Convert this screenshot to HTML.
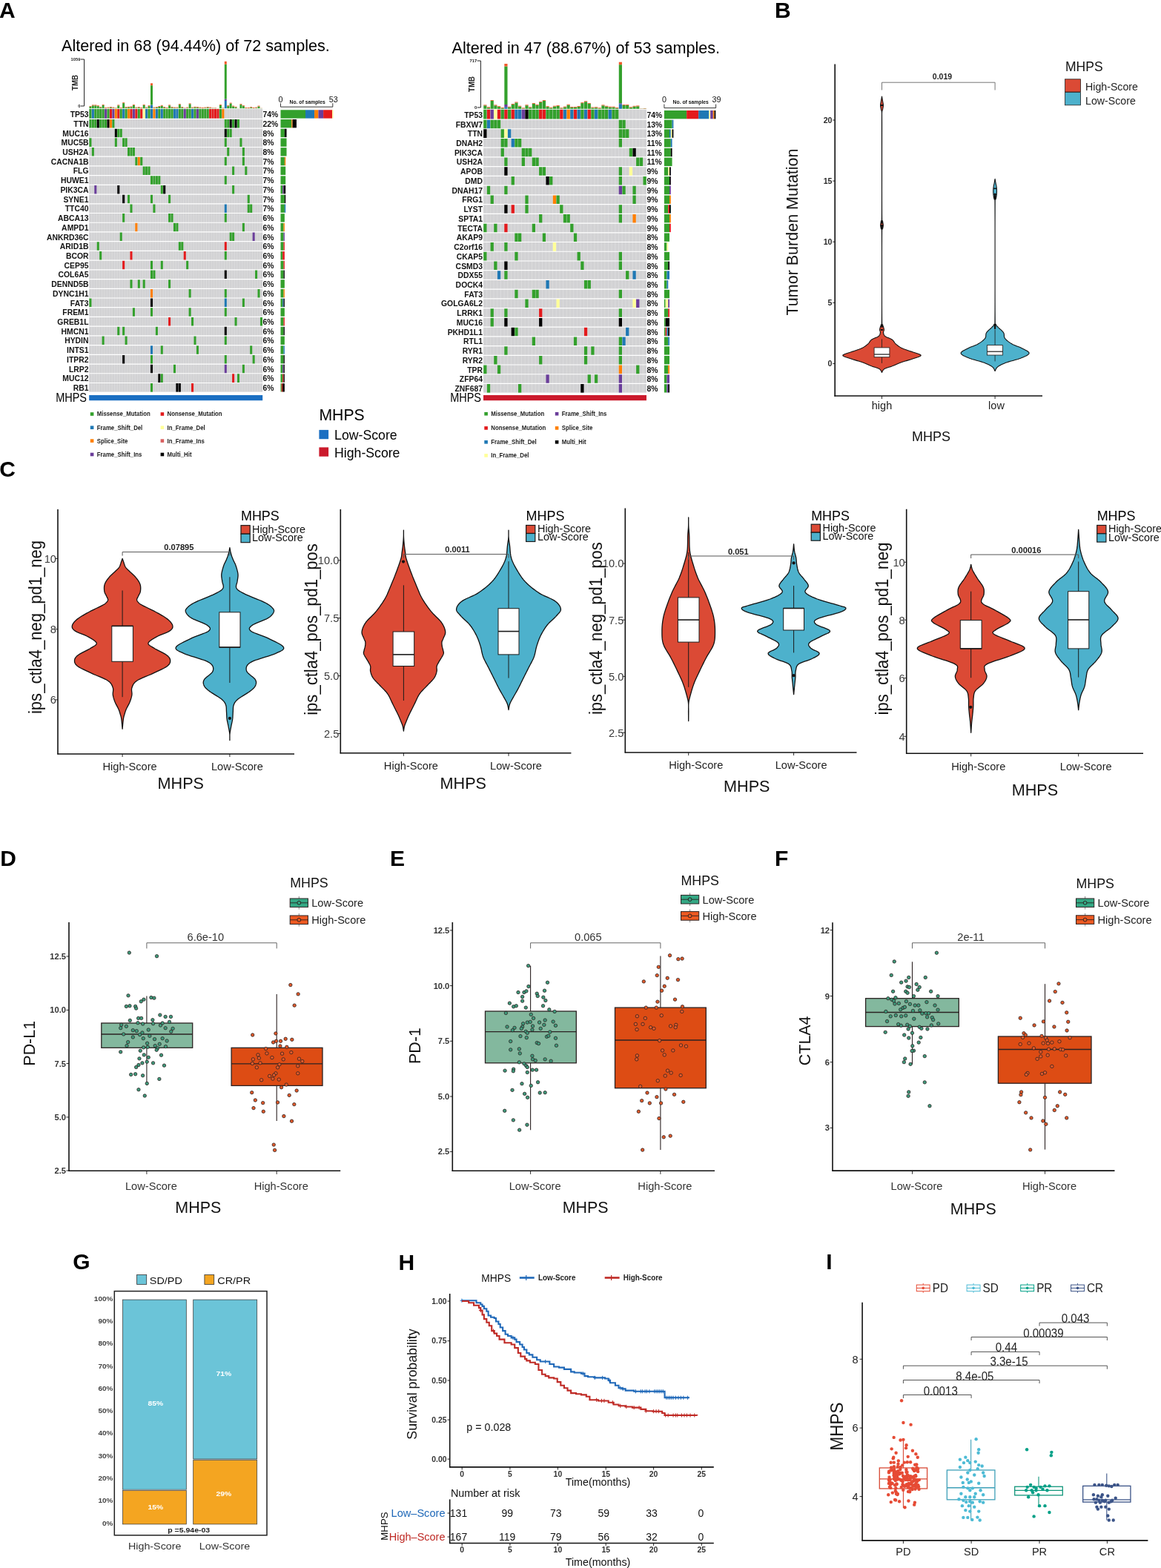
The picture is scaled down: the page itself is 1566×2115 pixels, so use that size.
<!DOCTYPE html>
<html><head><meta charset="utf-8"><title>Figure</title>
<style>html,body{margin:0;padding:0;background:#fff;}svg{display:block;}</style></head>
<body><svg width="1566" height="2115" viewBox="0 0 1566 2115" font-family='"Liberation Sans", Arial, sans-serif'>
<rect x="0" y="0" width="1566" height="2115" fill="#ffffff"/>
<text x="-1.00" y="23.95" font-size="30.00" font-weight="bold" fill="#000">A</text>
<text x="83.00" y="68.96" font-size="21.64" fill="#000">Altered in 68 (94.44%) of 72 samples.</text>
<rect x="120.20" y="147.10" width="233.99" height="381.50" fill="#D2D2D4"/>
<line x1="123.64" y1="147.10" x2="123.64" y2="528.60" stroke="#e6e6e6" stroke-width="0.45"/>
<line x1="127.08" y1="147.10" x2="127.08" y2="528.60" stroke="#e6e6e6" stroke-width="0.45"/>
<line x1="130.52" y1="147.10" x2="130.52" y2="528.60" stroke="#e6e6e6" stroke-width="0.45"/>
<line x1="133.96" y1="147.10" x2="133.96" y2="528.60" stroke="#e6e6e6" stroke-width="0.45"/>
<line x1="137.41" y1="147.10" x2="137.41" y2="528.60" stroke="#e6e6e6" stroke-width="0.45"/>
<line x1="140.85" y1="147.10" x2="140.85" y2="528.60" stroke="#e6e6e6" stroke-width="0.45"/>
<line x1="144.29" y1="147.10" x2="144.29" y2="528.60" stroke="#e6e6e6" stroke-width="0.45"/>
<line x1="147.73" y1="147.10" x2="147.73" y2="528.60" stroke="#e6e6e6" stroke-width="0.45"/>
<line x1="151.17" y1="147.10" x2="151.17" y2="528.60" stroke="#e6e6e6" stroke-width="0.45"/>
<line x1="154.61" y1="147.10" x2="154.61" y2="528.60" stroke="#e6e6e6" stroke-width="0.45"/>
<line x1="158.05" y1="147.10" x2="158.05" y2="528.60" stroke="#e6e6e6" stroke-width="0.45"/>
<line x1="161.49" y1="147.10" x2="161.49" y2="528.60" stroke="#e6e6e6" stroke-width="0.45"/>
<line x1="164.93" y1="147.10" x2="164.93" y2="528.60" stroke="#e6e6e6" stroke-width="0.45"/>
<line x1="168.37" y1="147.10" x2="168.37" y2="528.60" stroke="#e6e6e6" stroke-width="0.45"/>
<line x1="171.81" y1="147.10" x2="171.81" y2="528.60" stroke="#e6e6e6" stroke-width="0.45"/>
<line x1="175.26" y1="147.10" x2="175.26" y2="528.60" stroke="#e6e6e6" stroke-width="0.45"/>
<line x1="178.70" y1="147.10" x2="178.70" y2="528.60" stroke="#e6e6e6" stroke-width="0.45"/>
<line x1="182.14" y1="147.10" x2="182.14" y2="528.60" stroke="#e6e6e6" stroke-width="0.45"/>
<line x1="185.58" y1="147.10" x2="185.58" y2="528.60" stroke="#e6e6e6" stroke-width="0.45"/>
<line x1="189.02" y1="147.10" x2="189.02" y2="528.60" stroke="#e6e6e6" stroke-width="0.45"/>
<line x1="192.46" y1="147.10" x2="192.46" y2="528.60" stroke="#e6e6e6" stroke-width="0.45"/>
<line x1="195.90" y1="147.10" x2="195.90" y2="528.60" stroke="#e6e6e6" stroke-width="0.45"/>
<line x1="199.34" y1="147.10" x2="199.34" y2="528.60" stroke="#e6e6e6" stroke-width="0.45"/>
<line x1="202.78" y1="147.10" x2="202.78" y2="528.60" stroke="#e6e6e6" stroke-width="0.45"/>
<line x1="206.22" y1="147.10" x2="206.22" y2="528.60" stroke="#e6e6e6" stroke-width="0.45"/>
<line x1="209.67" y1="147.10" x2="209.67" y2="528.60" stroke="#e6e6e6" stroke-width="0.45"/>
<line x1="213.11" y1="147.10" x2="213.11" y2="528.60" stroke="#e6e6e6" stroke-width="0.45"/>
<line x1="216.55" y1="147.10" x2="216.55" y2="528.60" stroke="#e6e6e6" stroke-width="0.45"/>
<line x1="219.99" y1="147.10" x2="219.99" y2="528.60" stroke="#e6e6e6" stroke-width="0.45"/>
<line x1="223.43" y1="147.10" x2="223.43" y2="528.60" stroke="#e6e6e6" stroke-width="0.45"/>
<line x1="226.87" y1="147.10" x2="226.87" y2="528.60" stroke="#e6e6e6" stroke-width="0.45"/>
<line x1="230.31" y1="147.10" x2="230.31" y2="528.60" stroke="#e6e6e6" stroke-width="0.45"/>
<line x1="233.75" y1="147.10" x2="233.75" y2="528.60" stroke="#e6e6e6" stroke-width="0.45"/>
<line x1="237.19" y1="147.10" x2="237.19" y2="528.60" stroke="#e6e6e6" stroke-width="0.45"/>
<line x1="240.63" y1="147.10" x2="240.63" y2="528.60" stroke="#e6e6e6" stroke-width="0.45"/>
<line x1="244.08" y1="147.10" x2="244.08" y2="528.60" stroke="#e6e6e6" stroke-width="0.45"/>
<line x1="247.52" y1="147.10" x2="247.52" y2="528.60" stroke="#e6e6e6" stroke-width="0.45"/>
<line x1="250.96" y1="147.10" x2="250.96" y2="528.60" stroke="#e6e6e6" stroke-width="0.45"/>
<line x1="254.40" y1="147.10" x2="254.40" y2="528.60" stroke="#e6e6e6" stroke-width="0.45"/>
<line x1="257.84" y1="147.10" x2="257.84" y2="528.60" stroke="#e6e6e6" stroke-width="0.45"/>
<line x1="261.28" y1="147.10" x2="261.28" y2="528.60" stroke="#e6e6e6" stroke-width="0.45"/>
<line x1="264.72" y1="147.10" x2="264.72" y2="528.60" stroke="#e6e6e6" stroke-width="0.45"/>
<line x1="268.16" y1="147.10" x2="268.16" y2="528.60" stroke="#e6e6e6" stroke-width="0.45"/>
<line x1="271.60" y1="147.10" x2="271.60" y2="528.60" stroke="#e6e6e6" stroke-width="0.45"/>
<line x1="275.05" y1="147.10" x2="275.05" y2="528.60" stroke="#e6e6e6" stroke-width="0.45"/>
<line x1="278.49" y1="147.10" x2="278.49" y2="528.60" stroke="#e6e6e6" stroke-width="0.45"/>
<line x1="281.93" y1="147.10" x2="281.93" y2="528.60" stroke="#e6e6e6" stroke-width="0.45"/>
<line x1="285.37" y1="147.10" x2="285.37" y2="528.60" stroke="#e6e6e6" stroke-width="0.45"/>
<line x1="288.81" y1="147.10" x2="288.81" y2="528.60" stroke="#e6e6e6" stroke-width="0.45"/>
<line x1="292.25" y1="147.10" x2="292.25" y2="528.60" stroke="#e6e6e6" stroke-width="0.45"/>
<line x1="295.69" y1="147.10" x2="295.69" y2="528.60" stroke="#e6e6e6" stroke-width="0.45"/>
<line x1="299.13" y1="147.10" x2="299.13" y2="528.60" stroke="#e6e6e6" stroke-width="0.45"/>
<line x1="302.57" y1="147.10" x2="302.57" y2="528.60" stroke="#e6e6e6" stroke-width="0.45"/>
<line x1="306.01" y1="147.10" x2="306.01" y2="528.60" stroke="#e6e6e6" stroke-width="0.45"/>
<line x1="309.45" y1="147.10" x2="309.45" y2="528.60" stroke="#e6e6e6" stroke-width="0.45"/>
<line x1="312.90" y1="147.10" x2="312.90" y2="528.60" stroke="#e6e6e6" stroke-width="0.45"/>
<line x1="316.34" y1="147.10" x2="316.34" y2="528.60" stroke="#e6e6e6" stroke-width="0.45"/>
<line x1="319.78" y1="147.10" x2="319.78" y2="528.60" stroke="#e6e6e6" stroke-width="0.45"/>
<line x1="323.22" y1="147.10" x2="323.22" y2="528.60" stroke="#e6e6e6" stroke-width="0.45"/>
<line x1="326.66" y1="147.10" x2="326.66" y2="528.60" stroke="#e6e6e6" stroke-width="0.45"/>
<line x1="330.10" y1="147.10" x2="330.10" y2="528.60" stroke="#e6e6e6" stroke-width="0.45"/>
<line x1="333.54" y1="147.10" x2="333.54" y2="528.60" stroke="#e6e6e6" stroke-width="0.45"/>
<line x1="336.98" y1="147.10" x2="336.98" y2="528.60" stroke="#e6e6e6" stroke-width="0.45"/>
<line x1="340.42" y1="147.10" x2="340.42" y2="528.60" stroke="#e6e6e6" stroke-width="0.45"/>
<line x1="343.87" y1="147.10" x2="343.87" y2="528.60" stroke="#e6e6e6" stroke-width="0.45"/>
<line x1="347.31" y1="147.10" x2="347.31" y2="528.60" stroke="#e6e6e6" stroke-width="0.45"/>
<line x1="350.75" y1="147.10" x2="350.75" y2="528.60" stroke="#e6e6e6" stroke-width="0.45"/>
<rect x="120.40" y="147.10" width="3.04" height="13.22" fill="#33A02C"/>
<rect x="123.84" y="147.10" width="3.04" height="13.22" fill="#1F78B4"/>
<rect x="127.28" y="147.10" width="3.04" height="13.22" fill="#33A02C"/>
<rect x="130.72" y="147.10" width="3.04" height="13.22" fill="#33A02C"/>
<rect x="134.16" y="147.10" width="3.04" height="13.22" fill="#33A02C"/>
<rect x="137.60" y="147.10" width="3.04" height="13.22" fill="#33A02C"/>
<rect x="141.05" y="147.10" width="3.04" height="13.22" fill="#6A3D9A"/>
<rect x="144.49" y="147.10" width="3.04" height="13.22" fill="#33A02C"/>
<rect x="147.93" y="147.10" width="3.04" height="13.22" fill="#E31A1C"/>
<rect x="151.37" y="147.10" width="3.04" height="13.22" fill="#6A3D9A"/>
<rect x="154.81" y="147.10" width="3.04" height="13.22" fill="#FF7F00"/>
<rect x="158.25" y="147.10" width="3.04" height="13.22" fill="#E31A1C"/>
<rect x="161.69" y="147.10" width="3.04" height="13.22" fill="#33A02C"/>
<rect x="165.13" y="147.10" width="3.04" height="13.22" fill="#1F78B4"/>
<rect x="168.57" y="147.10" width="3.04" height="13.22" fill="#33A02C"/>
<rect x="172.01" y="147.10" width="3.04" height="13.22" fill="#FF7F00"/>
<rect x="175.46" y="147.10" width="3.04" height="13.22" fill="#E31A1C"/>
<rect x="178.90" y="147.10" width="3.04" height="13.22" fill="#6A3D9A"/>
<rect x="182.34" y="147.10" width="3.04" height="13.22" fill="#E31A1C"/>
<rect x="185.78" y="147.10" width="3.04" height="13.22" fill="#33A02C"/>
<rect x="189.22" y="147.10" width="3.04" height="13.22" fill="#E31A1C"/>
<rect x="192.66" y="147.10" width="3.04" height="13.22" fill="#FFFF99"/>
<rect x="196.10" y="147.10" width="3.04" height="13.22" fill="#1F78B4"/>
<rect x="199.54" y="147.10" width="3.04" height="13.22" fill="#33A02C"/>
<rect x="202.98" y="147.10" width="3.04" height="13.22" fill="#1F78B4"/>
<rect x="206.42" y="147.10" width="3.04" height="13.22" fill="#FF7F00"/>
<rect x="209.87" y="147.10" width="3.04" height="13.22" fill="#1F78B4"/>
<rect x="213.31" y="147.10" width="3.04" height="13.22" fill="#33A02C"/>
<rect x="216.75" y="147.10" width="3.04" height="13.22" fill="#1F78B4"/>
<rect x="220.19" y="147.10" width="3.04" height="13.22" fill="#33A02C"/>
<rect x="223.63" y="147.10" width="3.04" height="13.22" fill="#33A02C"/>
<rect x="227.07" y="147.10" width="3.04" height="13.22" fill="#33A02C"/>
<rect x="230.51" y="147.10" width="3.04" height="13.22" fill="#33A02C"/>
<rect x="233.95" y="147.10" width="3.04" height="13.22" fill="#1F78B4"/>
<rect x="237.39" y="147.10" width="3.04" height="13.22" fill="#1F78B4"/>
<rect x="240.83" y="147.10" width="3.04" height="13.22" fill="#33A02C"/>
<rect x="244.28" y="147.10" width="3.04" height="13.22" fill="#33A02C"/>
<rect x="247.72" y="147.10" width="3.04" height="13.22" fill="#6A3D9A"/>
<rect x="251.16" y="147.10" width="3.04" height="13.22" fill="#33A02C"/>
<rect x="254.60" y="147.10" width="3.04" height="13.22" fill="#33A02C"/>
<rect x="258.04" y="147.10" width="3.04" height="13.22" fill="#1F78B4"/>
<rect x="261.48" y="147.10" width="3.04" height="13.22" fill="#33A02C"/>
<rect x="264.92" y="147.10" width="3.04" height="13.22" fill="#6A3D9A"/>
<rect x="268.36" y="147.10" width="3.04" height="13.22" fill="#33A02C"/>
<rect x="271.80" y="147.10" width="3.04" height="13.22" fill="#33A02C"/>
<rect x="275.25" y="147.10" width="3.04" height="13.22" fill="#33A02C"/>
<rect x="278.69" y="147.10" width="3.04" height="13.22" fill="#33A02C"/>
<rect x="282.13" y="147.10" width="3.04" height="13.22" fill="#E31A1C"/>
<rect x="285.57" y="147.10" width="3.04" height="13.22" fill="#E31A1C"/>
<rect x="289.01" y="147.10" width="3.04" height="13.22" fill="#E31A1C"/>
<rect x="292.45" y="147.10" width="3.04" height="13.22" fill="#E31A1C"/>
<rect x="295.89" y="147.10" width="3.04" height="13.22" fill="#33A02C"/>
<rect x="299.33" y="147.10" width="3.04" height="13.22" fill="#FF7F00"/>
<rect x="120.40" y="160.32" width="3.04" height="12.72" fill="#33A02C"/>
<rect x="123.84" y="160.32" width="3.04" height="12.72" fill="#33A02C"/>
<rect x="127.28" y="160.32" width="3.04" height="12.72" fill="#33A02C"/>
<rect x="130.72" y="160.32" width="3.04" height="12.72" fill="#000000"/>
<rect x="134.16" y="160.32" width="3.04" height="12.72" fill="#33A02C"/>
<rect x="137.60" y="160.32" width="3.04" height="12.72" fill="#33A02C"/>
<rect x="141.05" y="160.32" width="3.04" height="12.72" fill="#33A02C"/>
<rect x="144.49" y="160.32" width="3.04" height="12.72" fill="#000000"/>
<rect x="147.93" y="160.32" width="3.04" height="12.72" fill="#FF7F00"/>
<rect x="151.37" y="160.32" width="3.04" height="12.72" fill="#33A02C"/>
<rect x="302.77" y="160.32" width="3.04" height="12.72" fill="#33A02C"/>
<rect x="306.21" y="160.32" width="3.04" height="12.72" fill="#33A02C"/>
<rect x="309.65" y="160.32" width="3.04" height="12.72" fill="#000000"/>
<rect x="313.10" y="160.32" width="3.04" height="12.72" fill="#33A02C"/>
<rect x="316.54" y="160.32" width="3.04" height="12.72" fill="#000000"/>
<rect x="319.98" y="160.32" width="3.04" height="12.72" fill="#33A02C"/>
<rect x="154.81" y="173.04" width="3.04" height="12.72" fill="#000000"/>
<rect x="158.25" y="173.04" width="3.04" height="12.72" fill="#33A02C"/>
<rect x="161.69" y="173.04" width="3.04" height="12.72" fill="#33A02C"/>
<rect x="302.77" y="173.04" width="3.04" height="12.72" fill="#000000"/>
<rect x="306.21" y="173.04" width="3.04" height="12.72" fill="#33A02C"/>
<rect x="309.65" y="173.04" width="3.04" height="12.72" fill="#33A02C"/>
<rect x="120.40" y="185.76" width="3.04" height="12.72" fill="#33A02C"/>
<rect x="154.81" y="185.76" width="3.04" height="12.72" fill="#33A02C"/>
<rect x="165.13" y="185.76" width="3.04" height="12.72" fill="#33A02C"/>
<rect x="168.57" y="185.76" width="3.04" height="12.72" fill="#33A02C"/>
<rect x="302.77" y="185.76" width="3.04" height="12.72" fill="#33A02C"/>
<rect x="323.42" y="185.76" width="3.04" height="12.72" fill="#33A02C"/>
<rect x="123.84" y="198.48" width="3.04" height="12.72" fill="#33A02C"/>
<rect x="172.01" y="198.48" width="3.04" height="12.72" fill="#33A02C"/>
<rect x="175.46" y="198.48" width="3.04" height="12.72" fill="#33A02C"/>
<rect x="178.90" y="198.48" width="3.04" height="12.72" fill="#33A02C"/>
<rect x="306.21" y="198.48" width="3.04" height="12.72" fill="#33A02C"/>
<rect x="326.86" y="198.48" width="3.04" height="12.72" fill="#33A02C"/>
<rect x="182.34" y="211.20" width="3.04" height="12.72" fill="#33A02C"/>
<rect x="185.78" y="211.20" width="3.04" height="12.72" fill="#FF7F00"/>
<rect x="189.22" y="211.20" width="3.04" height="12.72" fill="#33A02C"/>
<rect x="302.77" y="211.20" width="3.04" height="12.72" fill="#33A02C"/>
<rect x="326.86" y="211.20" width="3.04" height="12.72" fill="#33A02C"/>
<rect x="192.66" y="223.92" width="3.04" height="12.72" fill="#33A02C"/>
<rect x="196.10" y="223.92" width="3.04" height="12.72" fill="#33A02C"/>
<rect x="199.54" y="223.92" width="3.04" height="12.72" fill="#33A02C"/>
<rect x="313.10" y="223.92" width="3.04" height="12.72" fill="#33A02C"/>
<rect x="330.30" y="223.92" width="3.04" height="12.72" fill="#33A02C"/>
<rect x="202.98" y="236.64" width="3.04" height="12.72" fill="#33A02C"/>
<rect x="206.42" y="236.64" width="3.04" height="12.72" fill="#33A02C"/>
<rect x="209.87" y="236.64" width="3.04" height="12.72" fill="#33A02C"/>
<rect x="213.31" y="236.64" width="3.04" height="12.72" fill="#33A02C"/>
<rect x="302.77" y="236.64" width="3.04" height="12.72" fill="#33A02C"/>
<rect x="127.28" y="249.36" width="3.04" height="12.72" fill="#6A3D9A"/>
<rect x="158.25" y="249.36" width="3.04" height="12.72" fill="#000000"/>
<rect x="216.75" y="249.36" width="3.04" height="12.72" fill="#33A02C"/>
<rect x="220.19" y="249.36" width="3.04" height="12.72" fill="#000000"/>
<rect x="313.10" y="249.36" width="3.04" height="12.72" fill="#33A02C"/>
<rect x="165.13" y="262.08" width="3.04" height="12.72" fill="#000000"/>
<rect x="172.01" y="262.08" width="3.04" height="12.72" fill="#33A02C"/>
<rect x="202.98" y="262.08" width="3.04" height="12.72" fill="#33A02C"/>
<rect x="227.07" y="262.08" width="3.04" height="12.72" fill="#33A02C"/>
<rect x="333.74" y="262.08" width="3.04" height="12.72" fill="#33A02C"/>
<rect x="175.46" y="274.80" width="3.04" height="12.72" fill="#33A02C"/>
<rect x="206.42" y="274.80" width="3.04" height="12.72" fill="#33A02C"/>
<rect x="302.77" y="274.80" width="3.04" height="12.72" fill="#1F78B4"/>
<rect x="333.74" y="274.80" width="3.04" height="12.72" fill="#33A02C"/>
<rect x="337.18" y="274.80" width="3.04" height="12.72" fill="#33A02C"/>
<rect x="165.13" y="287.52" width="3.04" height="12.72" fill="#33A02C"/>
<rect x="227.07" y="287.52" width="3.04" height="12.72" fill="#33A02C"/>
<rect x="230.51" y="287.52" width="3.04" height="12.72" fill="#33A02C"/>
<rect x="302.77" y="287.52" width="3.04" height="12.72" fill="#33A02C"/>
<rect x="182.34" y="300.24" width="3.04" height="12.72" fill="#FF7F00"/>
<rect x="233.95" y="300.24" width="3.04" height="12.72" fill="#33A02C"/>
<rect x="237.39" y="300.24" width="3.04" height="12.72" fill="#33A02C"/>
<rect x="326.86" y="300.24" width="3.04" height="12.72" fill="#33A02C"/>
<rect x="161.69" y="312.96" width="3.04" height="12.72" fill="#33A02C"/>
<rect x="309.65" y="312.96" width="3.04" height="12.72" fill="#33A02C"/>
<rect x="313.10" y="312.96" width="3.04" height="12.72" fill="#33A02C"/>
<rect x="340.62" y="312.96" width="3.04" height="12.72" fill="#6A3D9A"/>
<rect x="130.72" y="325.68" width="3.04" height="12.72" fill="#33A02C"/>
<rect x="240.83" y="325.68" width="3.04" height="12.72" fill="#33A02C"/>
<rect x="244.28" y="325.68" width="3.04" height="12.72" fill="#33A02C"/>
<rect x="302.77" y="325.68" width="3.04" height="12.72" fill="#E31A1C"/>
<rect x="134.16" y="338.40" width="3.04" height="12.72" fill="#33A02C"/>
<rect x="175.46" y="338.40" width="3.04" height="12.72" fill="#E31A1C"/>
<rect x="247.72" y="338.40" width="3.04" height="12.72" fill="#E31A1C"/>
<rect x="302.77" y="338.40" width="3.04" height="12.72" fill="#33A02C"/>
<rect x="165.13" y="351.12" width="3.04" height="12.72" fill="#E31A1C"/>
<rect x="202.98" y="351.12" width="3.04" height="12.72" fill="#33A02C"/>
<rect x="216.75" y="351.12" width="3.04" height="12.72" fill="#33A02C"/>
<rect x="251.16" y="351.12" width="3.04" height="12.72" fill="#33A02C"/>
<rect x="202.98" y="363.84" width="3.04" height="12.72" fill="#33A02C"/>
<rect x="206.42" y="363.84" width="3.04" height="12.72" fill="#33A02C"/>
<rect x="302.77" y="363.84" width="3.04" height="12.72" fill="#000000"/>
<rect x="344.06" y="363.84" width="3.04" height="12.72" fill="#33A02C"/>
<rect x="175.46" y="376.56" width="3.04" height="12.72" fill="#33A02C"/>
<rect x="185.78" y="376.56" width="3.04" height="12.72" fill="#33A02C"/>
<rect x="192.66" y="376.56" width="3.04" height="12.72" fill="#33A02C"/>
<rect x="227.07" y="376.56" width="3.04" height="12.72" fill="#33A02C"/>
<rect x="202.98" y="389.28" width="3.04" height="12.72" fill="#FF7F00"/>
<rect x="254.60" y="389.28" width="3.04" height="12.72" fill="#33A02C"/>
<rect x="302.77" y="389.28" width="3.04" height="12.72" fill="#33A02C"/>
<rect x="347.51" y="389.28" width="3.04" height="12.72" fill="#33A02C"/>
<rect x="120.40" y="402.00" width="3.04" height="12.72" fill="#33A02C"/>
<rect x="202.98" y="402.00" width="3.04" height="12.72" fill="#000000"/>
<rect x="302.77" y="402.00" width="3.04" height="12.72" fill="#1F78B4"/>
<rect x="326.86" y="402.00" width="3.04" height="12.72" fill="#33A02C"/>
<rect x="178.90" y="414.72" width="3.04" height="12.72" fill="#33A02C"/>
<rect x="202.98" y="414.72" width="3.04" height="12.72" fill="#33A02C"/>
<rect x="254.60" y="414.72" width="3.04" height="12.72" fill="#33A02C"/>
<rect x="302.77" y="414.72" width="3.04" height="12.72" fill="#33A02C"/>
<rect x="227.07" y="427.44" width="3.04" height="12.72" fill="#E31A1C"/>
<rect x="258.04" y="427.44" width="3.04" height="12.72" fill="#33A02C"/>
<rect x="316.54" y="427.44" width="3.04" height="12.72" fill="#33A02C"/>
<rect x="350.95" y="427.44" width="3.04" height="12.72" fill="#33A02C"/>
<rect x="158.25" y="440.16" width="3.04" height="12.72" fill="#33A02C"/>
<rect x="165.13" y="440.16" width="3.04" height="12.72" fill="#33A02C"/>
<rect x="209.87" y="440.16" width="3.04" height="12.72" fill="#33A02C"/>
<rect x="302.77" y="440.16" width="3.04" height="12.72" fill="#000000"/>
<rect x="137.60" y="452.88" width="3.04" height="12.72" fill="#33A02C"/>
<rect x="168.57" y="452.88" width="3.04" height="12.72" fill="#33A02C"/>
<rect x="261.48" y="452.88" width="3.04" height="12.72" fill="#33A02C"/>
<rect x="302.77" y="452.88" width="3.04" height="12.72" fill="#33A02C"/>
<rect x="202.98" y="465.60" width="3.04" height="12.72" fill="#1F78B4"/>
<rect x="216.75" y="465.60" width="3.04" height="12.72" fill="#33A02C"/>
<rect x="264.92" y="465.60" width="3.04" height="12.72" fill="#33A02C"/>
<rect x="337.18" y="465.60" width="3.04" height="12.72" fill="#33A02C"/>
<rect x="165.13" y="478.32" width="3.04" height="12.72" fill="#000000"/>
<rect x="202.98" y="478.32" width="3.04" height="12.72" fill="#33A02C"/>
<rect x="302.77" y="478.32" width="3.04" height="12.72" fill="#33A02C"/>
<rect x="340.62" y="478.32" width="3.04" height="12.72" fill="#33A02C"/>
<rect x="202.98" y="491.04" width="3.04" height="12.72" fill="#000000"/>
<rect x="233.95" y="491.04" width="3.04" height="12.72" fill="#33A02C"/>
<rect x="302.77" y="491.04" width="3.04" height="12.72" fill="#6A3D9A"/>
<rect x="326.86" y="491.04" width="3.04" height="12.72" fill="#33A02C"/>
<rect x="213.31" y="503.76" width="3.04" height="12.72" fill="#000000"/>
<rect x="216.75" y="503.76" width="3.04" height="12.72" fill="#33A02C"/>
<rect x="313.10" y="503.76" width="3.04" height="12.72" fill="#E31A1C"/>
<rect x="319.98" y="503.76" width="3.04" height="12.72" fill="#33A02C"/>
<rect x="202.98" y="516.48" width="3.04" height="12.12" fill="#33A02C"/>
<rect x="237.39" y="516.48" width="3.04" height="12.12" fill="#000000"/>
<rect x="240.83" y="516.48" width="3.04" height="12.12" fill="#000000"/>
<rect x="258.04" y="516.48" width="3.04" height="12.12" fill="#E31A1C"/>
<line x1="120.20" y1="160.32" x2="354.19" y2="160.32" stroke="#ffffff" stroke-width="1.2"/>
<line x1="120.20" y1="173.04" x2="354.19" y2="173.04" stroke="#ffffff" stroke-width="1.2"/>
<line x1="120.20" y1="185.76" x2="354.19" y2="185.76" stroke="#ffffff" stroke-width="1.2"/>
<line x1="120.20" y1="198.48" x2="354.19" y2="198.48" stroke="#ffffff" stroke-width="1.2"/>
<line x1="120.20" y1="211.20" x2="354.19" y2="211.20" stroke="#ffffff" stroke-width="1.2"/>
<line x1="120.20" y1="223.92" x2="354.19" y2="223.92" stroke="#ffffff" stroke-width="1.2"/>
<line x1="120.20" y1="236.64" x2="354.19" y2="236.64" stroke="#ffffff" stroke-width="1.2"/>
<line x1="120.20" y1="249.36" x2="354.19" y2="249.36" stroke="#ffffff" stroke-width="1.2"/>
<line x1="120.20" y1="262.08" x2="354.19" y2="262.08" stroke="#ffffff" stroke-width="1.2"/>
<line x1="120.20" y1="274.80" x2="354.19" y2="274.80" stroke="#ffffff" stroke-width="1.2"/>
<line x1="120.20" y1="287.52" x2="354.19" y2="287.52" stroke="#ffffff" stroke-width="1.2"/>
<line x1="120.20" y1="300.24" x2="354.19" y2="300.24" stroke="#ffffff" stroke-width="1.2"/>
<line x1="120.20" y1="312.96" x2="354.19" y2="312.96" stroke="#ffffff" stroke-width="1.2"/>
<line x1="120.20" y1="325.68" x2="354.19" y2="325.68" stroke="#ffffff" stroke-width="1.2"/>
<line x1="120.20" y1="338.40" x2="354.19" y2="338.40" stroke="#ffffff" stroke-width="1.2"/>
<line x1="120.20" y1="351.12" x2="354.19" y2="351.12" stroke="#ffffff" stroke-width="1.2"/>
<line x1="120.20" y1="363.84" x2="354.19" y2="363.84" stroke="#ffffff" stroke-width="1.2"/>
<line x1="120.20" y1="376.56" x2="354.19" y2="376.56" stroke="#ffffff" stroke-width="1.2"/>
<line x1="120.20" y1="389.28" x2="354.19" y2="389.28" stroke="#ffffff" stroke-width="1.2"/>
<line x1="120.20" y1="402.00" x2="354.19" y2="402.00" stroke="#ffffff" stroke-width="1.2"/>
<line x1="120.20" y1="414.72" x2="354.19" y2="414.72" stroke="#ffffff" stroke-width="1.2"/>
<line x1="120.20" y1="427.44" x2="354.19" y2="427.44" stroke="#ffffff" stroke-width="1.2"/>
<line x1="120.20" y1="440.16" x2="354.19" y2="440.16" stroke="#ffffff" stroke-width="1.2"/>
<line x1="120.20" y1="452.88" x2="354.19" y2="452.88" stroke="#ffffff" stroke-width="1.2"/>
<line x1="120.20" y1="465.60" x2="354.19" y2="465.60" stroke="#ffffff" stroke-width="1.2"/>
<line x1="120.20" y1="478.32" x2="354.19" y2="478.32" stroke="#ffffff" stroke-width="1.2"/>
<line x1="120.20" y1="491.04" x2="354.19" y2="491.04" stroke="#ffffff" stroke-width="1.2"/>
<line x1="120.20" y1="503.76" x2="354.19" y2="503.76" stroke="#ffffff" stroke-width="1.2"/>
<line x1="120.20" y1="516.48" x2="354.19" y2="516.48" stroke="#ffffff" stroke-width="1.2"/>
<text transform="translate(119.50,158.14) scale(1.000,1.080)" font-size="10.40" text-anchor="end" font-weight="bold" fill="#111">TP53</text>
<text transform="translate(354.50,158.14) scale(1.000,1.080)" font-size="10.40" font-weight="bold" fill="#111">74%</text>
<text transform="translate(119.50,170.86) scale(1.000,1.080)" font-size="10.40" text-anchor="end" font-weight="bold" fill="#111">TTN</text>
<text transform="translate(354.50,170.86) scale(1.000,1.080)" font-size="10.40" font-weight="bold" fill="#111">22%</text>
<text transform="translate(119.50,183.58) scale(1.000,1.080)" font-size="10.40" text-anchor="end" font-weight="bold" fill="#111">MUC16</text>
<text transform="translate(354.50,183.58) scale(1.000,1.080)" font-size="10.40" font-weight="bold" fill="#111">8%</text>
<text transform="translate(119.50,196.30) scale(1.000,1.080)" font-size="10.40" text-anchor="end" font-weight="bold" fill="#111">MUC5B</text>
<text transform="translate(354.50,196.30) scale(1.000,1.080)" font-size="10.40" font-weight="bold" fill="#111">8%</text>
<text transform="translate(119.50,209.02) scale(1.000,1.080)" font-size="10.40" text-anchor="end" font-weight="bold" fill="#111">USH2A</text>
<text transform="translate(354.50,209.02) scale(1.000,1.080)" font-size="10.40" font-weight="bold" fill="#111">8%</text>
<text transform="translate(119.50,221.74) scale(1.000,1.080)" font-size="10.40" text-anchor="end" font-weight="bold" fill="#111">CACNA1B</text>
<text transform="translate(354.50,221.74) scale(1.000,1.080)" font-size="10.40" font-weight="bold" fill="#111">7%</text>
<text transform="translate(119.50,234.46) scale(1.000,1.080)" font-size="10.40" text-anchor="end" font-weight="bold" fill="#111">FLG</text>
<text transform="translate(354.50,234.46) scale(1.000,1.080)" font-size="10.40" font-weight="bold" fill="#111">7%</text>
<text transform="translate(119.50,247.18) scale(1.000,1.080)" font-size="10.40" text-anchor="end" font-weight="bold" fill="#111">HUWE1</text>
<text transform="translate(354.50,247.18) scale(1.000,1.080)" font-size="10.40" font-weight="bold" fill="#111">7%</text>
<text transform="translate(119.50,259.90) scale(1.000,1.080)" font-size="10.40" text-anchor="end" font-weight="bold" fill="#111">PIK3CA</text>
<text transform="translate(354.50,259.90) scale(1.000,1.080)" font-size="10.40" font-weight="bold" fill="#111">7%</text>
<text transform="translate(119.50,272.62) scale(1.000,1.080)" font-size="10.40" text-anchor="end" font-weight="bold" fill="#111">SYNE1</text>
<text transform="translate(354.50,272.62) scale(1.000,1.080)" font-size="10.40" font-weight="bold" fill="#111">7%</text>
<text transform="translate(119.50,285.34) scale(1.000,1.080)" font-size="10.40" text-anchor="end" font-weight="bold" fill="#111">TTC40</text>
<text transform="translate(354.50,285.34) scale(1.000,1.080)" font-size="10.40" font-weight="bold" fill="#111">7%</text>
<text transform="translate(119.50,298.06) scale(1.000,1.080)" font-size="10.40" text-anchor="end" font-weight="bold" fill="#111">ABCA13</text>
<text transform="translate(354.50,298.06) scale(1.000,1.080)" font-size="10.40" font-weight="bold" fill="#111">6%</text>
<text transform="translate(119.50,310.78) scale(1.000,1.080)" font-size="10.40" text-anchor="end" font-weight="bold" fill="#111">AMPD1</text>
<text transform="translate(354.50,310.78) scale(1.000,1.080)" font-size="10.40" font-weight="bold" fill="#111">6%</text>
<text transform="translate(119.50,323.50) scale(1.000,1.080)" font-size="10.40" text-anchor="end" font-weight="bold" fill="#111">ANKRD36C</text>
<text transform="translate(354.50,323.50) scale(1.000,1.080)" font-size="10.40" font-weight="bold" fill="#111">6%</text>
<text transform="translate(119.50,336.22) scale(1.000,1.080)" font-size="10.40" text-anchor="end" font-weight="bold" fill="#111">ARID1B</text>
<text transform="translate(354.50,336.22) scale(1.000,1.080)" font-size="10.40" font-weight="bold" fill="#111">6%</text>
<text transform="translate(119.50,348.94) scale(1.000,1.080)" font-size="10.40" text-anchor="end" font-weight="bold" fill="#111">BCOR</text>
<text transform="translate(354.50,348.94) scale(1.000,1.080)" font-size="10.40" font-weight="bold" fill="#111">6%</text>
<text transform="translate(119.50,361.66) scale(1.000,1.080)" font-size="10.40" text-anchor="end" font-weight="bold" fill="#111">CEP95</text>
<text transform="translate(354.50,361.66) scale(1.000,1.080)" font-size="10.40" font-weight="bold" fill="#111">6%</text>
<text transform="translate(119.50,374.38) scale(1.000,1.080)" font-size="10.40" text-anchor="end" font-weight="bold" fill="#111">COL6A5</text>
<text transform="translate(354.50,374.38) scale(1.000,1.080)" font-size="10.40" font-weight="bold" fill="#111">6%</text>
<text transform="translate(119.50,387.10) scale(1.000,1.080)" font-size="10.40" text-anchor="end" font-weight="bold" fill="#111">DENND5B</text>
<text transform="translate(354.50,387.10) scale(1.000,1.080)" font-size="10.40" font-weight="bold" fill="#111">6%</text>
<text transform="translate(119.50,399.82) scale(1.000,1.080)" font-size="10.40" text-anchor="end" font-weight="bold" fill="#111">DYNC1H1</text>
<text transform="translate(354.50,399.82) scale(1.000,1.080)" font-size="10.40" font-weight="bold" fill="#111">6%</text>
<text transform="translate(119.50,412.54) scale(1.000,1.080)" font-size="10.40" text-anchor="end" font-weight="bold" fill="#111">FAT3</text>
<text transform="translate(354.50,412.54) scale(1.000,1.080)" font-size="10.40" font-weight="bold" fill="#111">6%</text>
<text transform="translate(119.50,425.26) scale(1.000,1.080)" font-size="10.40" text-anchor="end" font-weight="bold" fill="#111">FREM1</text>
<text transform="translate(354.50,425.26) scale(1.000,1.080)" font-size="10.40" font-weight="bold" fill="#111">6%</text>
<text transform="translate(119.50,437.98) scale(1.000,1.080)" font-size="10.40" text-anchor="end" font-weight="bold" fill="#111">GREB1L</text>
<text transform="translate(354.50,437.98) scale(1.000,1.080)" font-size="10.40" font-weight="bold" fill="#111">6%</text>
<text transform="translate(119.50,450.70) scale(1.000,1.080)" font-size="10.40" text-anchor="end" font-weight="bold" fill="#111">HMCN1</text>
<text transform="translate(354.50,450.70) scale(1.000,1.080)" font-size="10.40" font-weight="bold" fill="#111">6%</text>
<text transform="translate(119.50,463.42) scale(1.000,1.080)" font-size="10.40" text-anchor="end" font-weight="bold" fill="#111">HYDIN</text>
<text transform="translate(354.50,463.42) scale(1.000,1.080)" font-size="10.40" font-weight="bold" fill="#111">6%</text>
<text transform="translate(119.50,476.14) scale(1.000,1.080)" font-size="10.40" text-anchor="end" font-weight="bold" fill="#111">INTS1</text>
<text transform="translate(354.50,476.14) scale(1.000,1.080)" font-size="10.40" font-weight="bold" fill="#111">6%</text>
<text transform="translate(119.50,488.86) scale(1.000,1.080)" font-size="10.40" text-anchor="end" font-weight="bold" fill="#111">ITPR2</text>
<text transform="translate(354.50,488.86) scale(1.000,1.080)" font-size="10.40" font-weight="bold" fill="#111">6%</text>
<text transform="translate(119.50,501.58) scale(1.000,1.080)" font-size="10.40" text-anchor="end" font-weight="bold" fill="#111">LRP2</text>
<text transform="translate(354.50,501.58) scale(1.000,1.080)" font-size="10.40" font-weight="bold" fill="#111">6%</text>
<text transform="translate(119.50,514.30) scale(1.000,1.080)" font-size="10.40" text-anchor="end" font-weight="bold" fill="#111">MUC12</text>
<text transform="translate(354.50,514.30) scale(1.000,1.080)" font-size="10.40" font-weight="bold" fill="#111">6%</text>
<text transform="translate(119.50,527.02) scale(1.000,1.080)" font-size="10.40" text-anchor="end" font-weight="bold" fill="#111">RB1</text>
<text transform="translate(354.50,527.02) scale(1.000,1.080)" font-size="10.40" font-weight="bold" fill="#111">6%</text>
<rect x="378.50" y="148.30" width="33.50" height="11.32" fill="#33A02C"/>
<rect x="412.00" y="148.30" width="12.06" height="11.32" fill="#1F78B4"/>
<rect x="424.06" y="148.30" width="5.36" height="11.32" fill="#FF7F00"/>
<rect x="429.42" y="148.30" width="6.70" height="11.32" fill="#6A3D9A"/>
<rect x="436.12" y="148.30" width="12.06" height="11.32" fill="#E31A1C"/>
<rect x="448.18" y="148.30" width="1.34" height="11.32" fill="#FFFF99"/>
<rect x="378.50" y="161.02" width="14.74" height="11.32" fill="#33A02C"/>
<rect x="393.24" y="161.02" width="1.34" height="11.32" fill="#FF7F00"/>
<rect x="394.58" y="161.02" width="5.36" height="11.32" fill="#000000"/>
<rect x="378.50" y="173.74" width="5.36" height="11.32" fill="#33A02C"/>
<rect x="383.86" y="173.74" width="2.68" height="11.32" fill="#000000"/>
<rect x="378.50" y="186.46" width="8.04" height="11.32" fill="#33A02C"/>
<rect x="378.50" y="199.18" width="8.04" height="11.32" fill="#33A02C"/>
<rect x="378.50" y="211.90" width="5.36" height="11.32" fill="#33A02C"/>
<rect x="383.86" y="211.90" width="1.34" height="11.32" fill="#FF7F00"/>
<rect x="378.50" y="224.62" width="6.70" height="11.32" fill="#33A02C"/>
<rect x="378.50" y="237.34" width="6.70" height="11.32" fill="#33A02C"/>
<rect x="378.50" y="250.06" width="2.68" height="11.32" fill="#33A02C"/>
<rect x="381.18" y="250.06" width="1.34" height="11.32" fill="#6A3D9A"/>
<rect x="382.52" y="250.06" width="2.68" height="11.32" fill="#000000"/>
<rect x="378.50" y="262.78" width="5.36" height="11.32" fill="#33A02C"/>
<rect x="383.86" y="262.78" width="1.34" height="11.32" fill="#000000"/>
<rect x="378.50" y="275.50" width="5.36" height="11.32" fill="#33A02C"/>
<rect x="383.86" y="275.50" width="1.34" height="11.32" fill="#1F78B4"/>
<rect x="378.50" y="288.22" width="5.36" height="11.32" fill="#33A02C"/>
<rect x="378.50" y="300.94" width="4.02" height="11.32" fill="#33A02C"/>
<rect x="382.52" y="300.94" width="1.34" height="11.32" fill="#FF7F00"/>
<rect x="378.50" y="313.66" width="4.02" height="11.32" fill="#33A02C"/>
<rect x="382.52" y="313.66" width="1.34" height="11.32" fill="#6A3D9A"/>
<rect x="378.50" y="326.38" width="4.02" height="11.32" fill="#33A02C"/>
<rect x="382.52" y="326.38" width="1.34" height="11.32" fill="#E31A1C"/>
<rect x="378.50" y="339.10" width="2.68" height="11.32" fill="#33A02C"/>
<rect x="381.18" y="339.10" width="2.68" height="11.32" fill="#E31A1C"/>
<rect x="378.50" y="351.82" width="4.02" height="11.32" fill="#33A02C"/>
<rect x="382.52" y="351.82" width="1.34" height="11.32" fill="#E31A1C"/>
<rect x="378.50" y="364.54" width="4.02" height="11.32" fill="#33A02C"/>
<rect x="382.52" y="364.54" width="1.34" height="11.32" fill="#000000"/>
<rect x="378.50" y="377.26" width="5.36" height="11.32" fill="#33A02C"/>
<rect x="378.50" y="389.98" width="4.02" height="11.32" fill="#33A02C"/>
<rect x="382.52" y="389.98" width="1.34" height="11.32" fill="#FF7F00"/>
<rect x="378.50" y="402.70" width="2.68" height="11.32" fill="#33A02C"/>
<rect x="381.18" y="402.70" width="1.34" height="11.32" fill="#1F78B4"/>
<rect x="382.52" y="402.70" width="1.34" height="11.32" fill="#000000"/>
<rect x="378.50" y="415.42" width="5.36" height="11.32" fill="#33A02C"/>
<rect x="378.50" y="428.14" width="4.02" height="11.32" fill="#33A02C"/>
<rect x="382.52" y="428.14" width="1.34" height="11.32" fill="#E31A1C"/>
<rect x="378.50" y="440.86" width="4.02" height="11.32" fill="#33A02C"/>
<rect x="382.52" y="440.86" width="1.34" height="11.32" fill="#000000"/>
<rect x="378.50" y="453.58" width="5.36" height="11.32" fill="#33A02C"/>
<rect x="378.50" y="466.30" width="4.02" height="11.32" fill="#33A02C"/>
<rect x="382.52" y="466.30" width="1.34" height="11.32" fill="#1F78B4"/>
<rect x="378.50" y="479.02" width="4.02" height="11.32" fill="#33A02C"/>
<rect x="382.52" y="479.02" width="1.34" height="11.32" fill="#000000"/>
<rect x="378.50" y="491.74" width="2.68" height="11.32" fill="#33A02C"/>
<rect x="381.18" y="491.74" width="1.34" height="11.32" fill="#6A3D9A"/>
<rect x="382.52" y="491.74" width="1.34" height="11.32" fill="#000000"/>
<rect x="378.50" y="504.46" width="2.68" height="11.32" fill="#33A02C"/>
<rect x="381.18" y="504.46" width="1.34" height="11.32" fill="#E31A1C"/>
<rect x="382.52" y="504.46" width="1.34" height="11.32" fill="#000000"/>
<rect x="378.50" y="517.18" width="1.34" height="11.32" fill="#33A02C"/>
<rect x="379.84" y="517.18" width="1.34" height="11.32" fill="#E31A1C"/>
<rect x="381.18" y="517.18" width="2.68" height="11.32" fill="#000000"/>
<line x1="378.50" y1="144.20" x2="448.80" y2="144.20" stroke="#222" stroke-width="0.9"/>
<line x1="378.50" y1="144.20" x2="378.50" y2="139.20" stroke="#222" stroke-width="0.9"/>
<line x1="448.80" y1="144.20" x2="448.80" y2="139.20" stroke="#222" stroke-width="0.9"/>
<text transform="translate(378.50,138.32) scale(1.000,1.080)" font-size="10.80" text-anchor="middle" fill="#111">0</text>
<text transform="translate(449.80,138.32) scale(1.000,1.080)" font-size="10.80" text-anchor="middle" fill="#111">53</text>
<text transform="translate(414.65,140.23) scale(1.000,1.080)" font-size="6.80" text-anchor="middle" font-weight="bold" fill="#111">No. of samples</text>
<line x1="113.60" y1="80.00" x2="113.60" y2="143.00" stroke="#222" stroke-width="1.0"/>
<line x1="108.90" y1="80.00" x2="113.60" y2="80.00" stroke="#222" stroke-width="1.0"/>
<line x1="108.90" y1="143.00" x2="113.60" y2="143.00" stroke="#222" stroke-width="1.0"/>
<text transform="translate(108.40,82.16) scale(1.000,1.080)" font-size="5.80" text-anchor="end" font-weight="bold" fill="#222">1059</text>
<text transform="translate(108.40,145.16) scale(1.000,1.080)" font-size="5.80" text-anchor="end" font-weight="bold" fill="#222">0</text>
<text transform="translate(105.21,111.50) rotate(-90) scale(1.000,1.080)" font-size="9.70" text-anchor="middle" font-weight="bold" fill="#222">TMB</text>
<rect x="120.45" y="143.90" width="2.94" height="2.30" fill="#33A02C"/>
<rect x="120.45" y="143.00" width="2.94" height="0.90" fill="#EF5B2B"/>
<rect x="123.89" y="142.30" width="2.94" height="3.90" fill="#33A02C"/>
<rect x="123.89" y="141.40" width="2.94" height="0.90" fill="#EF5B2B"/>
<rect x="127.33" y="142.30" width="2.94" height="3.90" fill="#33A02C"/>
<rect x="127.33" y="141.40" width="2.94" height="0.90" fill="#EF5B2B"/>
<rect x="130.77" y="143.10" width="2.94" height="3.10" fill="#33A02C"/>
<rect x="130.77" y="142.20" width="2.94" height="0.90" fill="#EF5B2B"/>
<rect x="134.21" y="145.10" width="2.94" height="1.10" fill="#33A02C"/>
<rect x="134.21" y="144.20" width="2.94" height="0.90" fill="#EF5B2B"/>
<rect x="137.66" y="141.90" width="2.94" height="4.30" fill="#33A02C"/>
<rect x="137.66" y="141.00" width="2.94" height="0.90" fill="#EF5B2B"/>
<rect x="141.10" y="145.90" width="2.94" height="0.30" fill="#33A02C"/>
<rect x="141.10" y="145.00" width="2.94" height="0.90" fill="#EF5B2B"/>
<rect x="144.54" y="145.50" width="2.94" height="0.70" fill="#33A02C"/>
<rect x="144.54" y="144.60" width="2.94" height="0.90" fill="#EF5B2B"/>
<rect x="147.98" y="145.10" width="2.94" height="1.10" fill="#33A02C"/>
<rect x="147.98" y="144.20" width="2.94" height="0.90" fill="#EF5B2B"/>
<rect x="151.42" y="145.50" width="2.94" height="0.70" fill="#33A02C"/>
<rect x="151.42" y="144.60" width="2.94" height="0.90" fill="#EF5B2B"/>
<rect x="154.86" y="145.80" width="2.94" height="0.40" fill="#33A02C"/>
<rect x="154.86" y="145.40" width="2.94" height="0.40" fill="#EF5B2B"/>
<rect x="158.30" y="142.30" width="2.94" height="3.90" fill="#33A02C"/>
<rect x="158.30" y="141.40" width="2.94" height="0.90" fill="#EF5B2B"/>
<rect x="161.74" y="145.90" width="2.94" height="0.30" fill="#33A02C"/>
<rect x="161.74" y="145.00" width="2.94" height="0.90" fill="#EF5B2B"/>
<rect x="165.18" y="139.10" width="2.94" height="7.10" fill="#33A02C"/>
<rect x="165.18" y="138.20" width="2.94" height="0.90" fill="#EF5B2B"/>
<rect x="168.62" y="145.10" width="2.94" height="1.10" fill="#33A02C"/>
<rect x="168.62" y="144.20" width="2.94" height="0.90" fill="#EF5B2B"/>
<rect x="172.06" y="144.70" width="2.94" height="1.50" fill="#33A02C"/>
<rect x="172.06" y="143.80" width="2.94" height="0.90" fill="#EF5B2B"/>
<rect x="175.51" y="144.30" width="2.94" height="1.90" fill="#33A02C"/>
<rect x="175.51" y="143.40" width="2.94" height="0.90" fill="#EF5B2B"/>
<rect x="178.95" y="141.90" width="2.94" height="4.30" fill="#33A02C"/>
<rect x="178.95" y="141.00" width="2.94" height="0.90" fill="#EF5B2B"/>
<rect x="182.39" y="145.50" width="2.94" height="0.70" fill="#33A02C"/>
<rect x="182.39" y="144.60" width="2.94" height="0.90" fill="#EF5B2B"/>
<rect x="185.83" y="145.10" width="2.94" height="1.10" fill="#33A02C"/>
<rect x="185.83" y="144.20" width="2.94" height="0.90" fill="#EF5B2B"/>
<rect x="189.27" y="145.90" width="2.94" height="0.30" fill="#33A02C"/>
<rect x="189.27" y="145.00" width="2.94" height="0.90" fill="#EF5B2B"/>
<rect x="192.71" y="141.90" width="2.94" height="4.30" fill="#33A02C"/>
<rect x="192.71" y="141.00" width="2.94" height="0.90" fill="#EF5B2B"/>
<rect x="196.15" y="145.50" width="2.94" height="0.70" fill="#33A02C"/>
<rect x="196.15" y="144.60" width="2.94" height="0.90" fill="#EF5B2B"/>
<rect x="199.59" y="143.10" width="2.94" height="3.10" fill="#33A02C"/>
<rect x="199.59" y="142.20" width="2.94" height="0.90" fill="#EF5B2B"/>
<rect x="206.47" y="145.50" width="2.94" height="0.70" fill="#33A02C"/>
<rect x="206.47" y="144.60" width="2.94" height="0.90" fill="#EF5B2B"/>
<rect x="209.92" y="145.10" width="2.94" height="1.10" fill="#33A02C"/>
<rect x="209.92" y="144.20" width="2.94" height="0.90" fill="#EF5B2B"/>
<rect x="213.36" y="143.90" width="2.94" height="2.30" fill="#33A02C"/>
<rect x="213.36" y="143.00" width="2.94" height="0.90" fill="#EF5B2B"/>
<rect x="216.80" y="142.70" width="2.94" height="3.50" fill="#33A02C"/>
<rect x="216.80" y="141.80" width="2.94" height="0.90" fill="#EF5B2B"/>
<rect x="220.24" y="145.10" width="2.94" height="1.10" fill="#33A02C"/>
<rect x="220.24" y="144.20" width="2.94" height="0.90" fill="#EF5B2B"/>
<rect x="223.68" y="145.90" width="2.94" height="0.30" fill="#33A02C"/>
<rect x="223.68" y="145.00" width="2.94" height="0.90" fill="#EF5B2B"/>
<rect x="227.12" y="142.30" width="2.94" height="3.90" fill="#33A02C"/>
<rect x="227.12" y="141.40" width="2.94" height="0.90" fill="#EF5B2B"/>
<rect x="230.56" y="145.10" width="2.94" height="1.10" fill="#33A02C"/>
<rect x="230.56" y="144.20" width="2.94" height="0.90" fill="#EF5B2B"/>
<rect x="234.00" y="145.50" width="2.94" height="0.70" fill="#33A02C"/>
<rect x="234.00" y="144.60" width="2.94" height="0.90" fill="#EF5B2B"/>
<rect x="237.44" y="145.50" width="2.94" height="0.70" fill="#33A02C"/>
<rect x="237.44" y="144.60" width="2.94" height="0.90" fill="#EF5B2B"/>
<rect x="240.88" y="141.10" width="2.94" height="5.10" fill="#33A02C"/>
<rect x="240.88" y="140.20" width="2.94" height="0.90" fill="#EF5B2B"/>
<rect x="244.33" y="145.10" width="2.94" height="1.10" fill="#33A02C"/>
<rect x="244.33" y="144.20" width="2.94" height="0.90" fill="#EF5B2B"/>
<rect x="247.77" y="145.80" width="2.94" height="0.40" fill="#33A02C"/>
<rect x="247.77" y="145.40" width="2.94" height="0.40" fill="#EF5B2B"/>
<rect x="251.21" y="145.50" width="2.94" height="0.70" fill="#33A02C"/>
<rect x="251.21" y="144.60" width="2.94" height="0.90" fill="#EF5B2B"/>
<rect x="254.65" y="140.30" width="2.94" height="5.90" fill="#33A02C"/>
<rect x="254.65" y="139.40" width="2.94" height="0.90" fill="#EF5B2B"/>
<rect x="258.09" y="145.50" width="2.94" height="0.70" fill="#33A02C"/>
<rect x="258.09" y="144.60" width="2.94" height="0.90" fill="#EF5B2B"/>
<rect x="261.53" y="144.70" width="2.94" height="1.50" fill="#33A02C"/>
<rect x="261.53" y="143.80" width="2.94" height="0.90" fill="#EF5B2B"/>
<rect x="264.97" y="145.10" width="2.94" height="1.10" fill="#33A02C"/>
<rect x="264.97" y="144.20" width="2.94" height="0.90" fill="#EF5B2B"/>
<rect x="268.41" y="145.50" width="2.94" height="0.70" fill="#33A02C"/>
<rect x="268.41" y="144.60" width="2.94" height="0.90" fill="#EF5B2B"/>
<rect x="271.85" y="145.90" width="2.94" height="0.30" fill="#33A02C"/>
<rect x="271.85" y="145.00" width="2.94" height="0.90" fill="#EF5B2B"/>
<rect x="275.30" y="145.50" width="2.94" height="0.70" fill="#33A02C"/>
<rect x="275.30" y="144.60" width="2.94" height="0.90" fill="#EF5B2B"/>
<rect x="278.74" y="145.10" width="2.94" height="1.10" fill="#33A02C"/>
<rect x="278.74" y="144.20" width="2.94" height="0.90" fill="#EF5B2B"/>
<rect x="282.18" y="145.50" width="2.94" height="0.70" fill="#33A02C"/>
<rect x="282.18" y="144.60" width="2.94" height="0.90" fill="#EF5B2B"/>
<rect x="285.62" y="145.80" width="2.94" height="0.40" fill="#33A02C"/>
<rect x="285.62" y="145.40" width="2.94" height="0.40" fill="#EF5B2B"/>
<rect x="289.06" y="145.80" width="2.94" height="0.40" fill="#33A02C"/>
<rect x="289.06" y="145.40" width="2.94" height="0.40" fill="#EF5B2B"/>
<rect x="292.50" y="146.10" width="2.94" height="0.10" fill="#33A02C"/>
<rect x="292.50" y="146.00" width="2.94" height="0.10" fill="#EF5B2B"/>
<rect x="295.94" y="141.90" width="2.94" height="4.30" fill="#33A02C"/>
<rect x="295.94" y="141.00" width="2.94" height="0.90" fill="#EF5B2B"/>
<rect x="299.38" y="145.80" width="2.94" height="0.40" fill="#33A02C"/>
<rect x="299.38" y="145.40" width="2.94" height="0.40" fill="#EF5B2B"/>
<rect x="306.26" y="143.10" width="2.94" height="3.10" fill="#33A02C"/>
<rect x="306.26" y="142.20" width="2.94" height="0.90" fill="#EF5B2B"/>
<rect x="309.70" y="139.50" width="2.94" height="6.70" fill="#33A02C"/>
<rect x="309.70" y="138.60" width="2.94" height="0.90" fill="#EF5B2B"/>
<rect x="313.15" y="143.50" width="2.94" height="2.70" fill="#33A02C"/>
<rect x="313.15" y="142.60" width="2.94" height="0.90" fill="#EF5B2B"/>
<rect x="316.59" y="144.70" width="2.94" height="1.50" fill="#33A02C"/>
<rect x="316.59" y="143.80" width="2.94" height="0.90" fill="#EF5B2B"/>
<rect x="320.03" y="146.10" width="2.94" height="0.10" fill="#33A02C"/>
<rect x="320.03" y="146.00" width="2.94" height="0.10" fill="#EF5B2B"/>
<rect x="323.47" y="141.10" width="2.94" height="5.10" fill="#33A02C"/>
<rect x="323.47" y="140.20" width="2.94" height="0.90" fill="#EF5B2B"/>
<rect x="326.91" y="143.10" width="2.94" height="3.10" fill="#33A02C"/>
<rect x="326.91" y="142.20" width="2.94" height="0.90" fill="#EF5B2B"/>
<rect x="330.35" y="145.90" width="2.94" height="0.30" fill="#33A02C"/>
<rect x="330.35" y="145.00" width="2.94" height="0.90" fill="#EF5B2B"/>
<rect x="333.79" y="145.90" width="2.94" height="0.30" fill="#33A02C"/>
<rect x="333.79" y="145.00" width="2.94" height="0.90" fill="#EF5B2B"/>
<rect x="337.23" y="145.10" width="2.94" height="1.10" fill="#33A02C"/>
<rect x="337.23" y="144.20" width="2.94" height="0.90" fill="#EF5B2B"/>
<rect x="340.67" y="145.90" width="2.94" height="0.30" fill="#33A02C"/>
<rect x="340.67" y="145.00" width="2.94" height="0.90" fill="#EF5B2B"/>
<rect x="344.12" y="145.50" width="2.94" height="0.70" fill="#33A02C"/>
<rect x="344.12" y="144.60" width="2.94" height="0.90" fill="#EF5B2B"/>
<rect x="347.56" y="143.50" width="2.94" height="2.70" fill="#33A02C"/>
<rect x="347.56" y="142.60" width="2.94" height="0.90" fill="#EF5B2B"/>
<rect x="351.00" y="146.00" width="2.94" height="0.20" fill="#33A02C"/>
<rect x="351.00" y="145.80" width="2.94" height="0.20" fill="#EF5B2B"/>
<rect x="203.03" y="141.50" width="2.94" height="4.70" fill="#1F78B4"/>
<rect x="203.03" y="115.20" width="2.94" height="26.30" fill="#33A02C"/>
<rect x="203.03" y="112.30" width="2.94" height="2.90" fill="#EF5B2B"/>
<rect x="302.82" y="136.00" width="2.94" height="10.20" fill="#1F78B4"/>
<rect x="302.82" y="133.60" width="2.94" height="2.40" fill="#6A3D9A"/>
<rect x="302.82" y="86.80" width="2.94" height="46.80" fill="#33A02C"/>
<rect x="302.82" y="82.80" width="2.94" height="4.00" fill="#EF5B2B"/>
<rect x="120.20" y="533.00" width="233.99" height="7.20" fill="#1B6FC2"/>
<text transform="translate(117.00,541.90) scale(1.000,1.080)" font-size="14.50" text-anchor="end" fill="#000">MHPS</text>
<text x="609.50" y="72.25" font-size="21.61" fill="#000">Altered in 47 (88.67%) of 53 samples.</text>
<rect x="652.00" y="147.80" width="219.96" height="381.80" fill="#D2D2D4"/>
<line x1="656.68" y1="147.80" x2="656.68" y2="529.60" stroke="#e6e6e6" stroke-width="0.45"/>
<line x1="661.36" y1="147.80" x2="661.36" y2="529.60" stroke="#e6e6e6" stroke-width="0.45"/>
<line x1="666.04" y1="147.80" x2="666.04" y2="529.60" stroke="#e6e6e6" stroke-width="0.45"/>
<line x1="670.72" y1="147.80" x2="670.72" y2="529.60" stroke="#e6e6e6" stroke-width="0.45"/>
<line x1="675.40" y1="147.80" x2="675.40" y2="529.60" stroke="#e6e6e6" stroke-width="0.45"/>
<line x1="680.08" y1="147.80" x2="680.08" y2="529.60" stroke="#e6e6e6" stroke-width="0.45"/>
<line x1="684.76" y1="147.80" x2="684.76" y2="529.60" stroke="#e6e6e6" stroke-width="0.45"/>
<line x1="689.44" y1="147.80" x2="689.44" y2="529.60" stroke="#e6e6e6" stroke-width="0.45"/>
<line x1="694.12" y1="147.80" x2="694.12" y2="529.60" stroke="#e6e6e6" stroke-width="0.45"/>
<line x1="698.80" y1="147.80" x2="698.80" y2="529.60" stroke="#e6e6e6" stroke-width="0.45"/>
<line x1="703.48" y1="147.80" x2="703.48" y2="529.60" stroke="#e6e6e6" stroke-width="0.45"/>
<line x1="708.16" y1="147.80" x2="708.16" y2="529.60" stroke="#e6e6e6" stroke-width="0.45"/>
<line x1="712.84" y1="147.80" x2="712.84" y2="529.60" stroke="#e6e6e6" stroke-width="0.45"/>
<line x1="717.52" y1="147.80" x2="717.52" y2="529.60" stroke="#e6e6e6" stroke-width="0.45"/>
<line x1="722.20" y1="147.80" x2="722.20" y2="529.60" stroke="#e6e6e6" stroke-width="0.45"/>
<line x1="726.88" y1="147.80" x2="726.88" y2="529.60" stroke="#e6e6e6" stroke-width="0.45"/>
<line x1="731.56" y1="147.80" x2="731.56" y2="529.60" stroke="#e6e6e6" stroke-width="0.45"/>
<line x1="736.24" y1="147.80" x2="736.24" y2="529.60" stroke="#e6e6e6" stroke-width="0.45"/>
<line x1="740.92" y1="147.80" x2="740.92" y2="529.60" stroke="#e6e6e6" stroke-width="0.45"/>
<line x1="745.60" y1="147.80" x2="745.60" y2="529.60" stroke="#e6e6e6" stroke-width="0.45"/>
<line x1="750.28" y1="147.80" x2="750.28" y2="529.60" stroke="#e6e6e6" stroke-width="0.45"/>
<line x1="754.96" y1="147.80" x2="754.96" y2="529.60" stroke="#e6e6e6" stroke-width="0.45"/>
<line x1="759.64" y1="147.80" x2="759.64" y2="529.60" stroke="#e6e6e6" stroke-width="0.45"/>
<line x1="764.32" y1="147.80" x2="764.32" y2="529.60" stroke="#e6e6e6" stroke-width="0.45"/>
<line x1="769.00" y1="147.80" x2="769.00" y2="529.60" stroke="#e6e6e6" stroke-width="0.45"/>
<line x1="773.68" y1="147.80" x2="773.68" y2="529.60" stroke="#e6e6e6" stroke-width="0.45"/>
<line x1="778.36" y1="147.80" x2="778.36" y2="529.60" stroke="#e6e6e6" stroke-width="0.45"/>
<line x1="783.04" y1="147.80" x2="783.04" y2="529.60" stroke="#e6e6e6" stroke-width="0.45"/>
<line x1="787.72" y1="147.80" x2="787.72" y2="529.60" stroke="#e6e6e6" stroke-width="0.45"/>
<line x1="792.40" y1="147.80" x2="792.40" y2="529.60" stroke="#e6e6e6" stroke-width="0.45"/>
<line x1="797.08" y1="147.80" x2="797.08" y2="529.60" stroke="#e6e6e6" stroke-width="0.45"/>
<line x1="801.76" y1="147.80" x2="801.76" y2="529.60" stroke="#e6e6e6" stroke-width="0.45"/>
<line x1="806.44" y1="147.80" x2="806.44" y2="529.60" stroke="#e6e6e6" stroke-width="0.45"/>
<line x1="811.12" y1="147.80" x2="811.12" y2="529.60" stroke="#e6e6e6" stroke-width="0.45"/>
<line x1="815.80" y1="147.80" x2="815.80" y2="529.60" stroke="#e6e6e6" stroke-width="0.45"/>
<line x1="820.48" y1="147.80" x2="820.48" y2="529.60" stroke="#e6e6e6" stroke-width="0.45"/>
<line x1="825.16" y1="147.80" x2="825.16" y2="529.60" stroke="#e6e6e6" stroke-width="0.45"/>
<line x1="829.84" y1="147.80" x2="829.84" y2="529.60" stroke="#e6e6e6" stroke-width="0.45"/>
<line x1="834.52" y1="147.80" x2="834.52" y2="529.60" stroke="#e6e6e6" stroke-width="0.45"/>
<line x1="839.20" y1="147.80" x2="839.20" y2="529.60" stroke="#e6e6e6" stroke-width="0.45"/>
<line x1="843.88" y1="147.80" x2="843.88" y2="529.60" stroke="#e6e6e6" stroke-width="0.45"/>
<line x1="848.56" y1="147.80" x2="848.56" y2="529.60" stroke="#e6e6e6" stroke-width="0.45"/>
<line x1="853.24" y1="147.80" x2="853.24" y2="529.60" stroke="#e6e6e6" stroke-width="0.45"/>
<line x1="857.92" y1="147.80" x2="857.92" y2="529.60" stroke="#e6e6e6" stroke-width="0.45"/>
<line x1="862.60" y1="147.80" x2="862.60" y2="529.60" stroke="#e6e6e6" stroke-width="0.45"/>
<line x1="867.28" y1="147.80" x2="867.28" y2="529.60" stroke="#e6e6e6" stroke-width="0.45"/>
<rect x="652.20" y="147.80" width="4.28" height="13.23" fill="#33A02C"/>
<rect x="656.88" y="147.80" width="4.28" height="13.23" fill="#E31A1C"/>
<rect x="661.56" y="147.80" width="4.28" height="13.23" fill="#6A3D9A"/>
<rect x="666.24" y="147.80" width="4.28" height="13.23" fill="#FFFF99"/>
<rect x="670.92" y="147.80" width="4.28" height="13.23" fill="#E31A1C"/>
<rect x="675.60" y="147.80" width="4.28" height="13.23" fill="#33A02C"/>
<rect x="680.28" y="147.80" width="4.28" height="13.23" fill="#E31A1C"/>
<rect x="684.96" y="147.80" width="4.28" height="13.23" fill="#33A02C"/>
<rect x="689.64" y="147.80" width="4.28" height="13.23" fill="#E31A1C"/>
<rect x="694.32" y="147.80" width="4.28" height="13.23" fill="#1F78B4"/>
<rect x="699.00" y="147.80" width="4.28" height="13.23" fill="#1F78B4"/>
<rect x="703.68" y="147.80" width="4.28" height="13.23" fill="#6A3D9A"/>
<rect x="708.36" y="147.80" width="4.28" height="13.23" fill="#000000"/>
<rect x="713.04" y="147.80" width="4.28" height="13.23" fill="#33A02C"/>
<rect x="717.72" y="147.80" width="4.28" height="13.23" fill="#33A02C"/>
<rect x="722.40" y="147.80" width="4.28" height="13.23" fill="#33A02C"/>
<rect x="727.08" y="147.80" width="4.28" height="13.23" fill="#E31A1C"/>
<rect x="731.76" y="147.80" width="4.28" height="13.23" fill="#E31A1C"/>
<rect x="736.44" y="147.80" width="4.28" height="13.23" fill="#33A02C"/>
<rect x="741.12" y="147.80" width="4.28" height="13.23" fill="#33A02C"/>
<rect x="745.80" y="147.80" width="4.28" height="13.23" fill="#33A02C"/>
<rect x="750.48" y="147.80" width="4.28" height="13.23" fill="#33A02C"/>
<rect x="755.16" y="147.80" width="4.28" height="13.23" fill="#E31A1C"/>
<rect x="759.84" y="147.80" width="4.28" height="13.23" fill="#1F78B4"/>
<rect x="764.52" y="147.80" width="4.28" height="13.23" fill="#FF7F00"/>
<rect x="769.20" y="147.80" width="4.28" height="13.23" fill="#1F78B4"/>
<rect x="773.88" y="147.80" width="4.28" height="13.23" fill="#E31A1C"/>
<rect x="778.56" y="147.80" width="4.28" height="13.23" fill="#1F78B4"/>
<rect x="783.24" y="147.80" width="4.28" height="13.23" fill="#33A02C"/>
<rect x="787.92" y="147.80" width="4.28" height="13.23" fill="#1F78B4"/>
<rect x="792.60" y="147.80" width="4.28" height="13.23" fill="#E31A1C"/>
<rect x="797.28" y="147.80" width="4.28" height="13.23" fill="#33A02C"/>
<rect x="801.96" y="147.80" width="4.28" height="13.23" fill="#1F78B4"/>
<rect x="806.64" y="147.80" width="4.28" height="13.23" fill="#33A02C"/>
<rect x="811.32" y="147.80" width="4.28" height="13.23" fill="#33A02C"/>
<rect x="816.00" y="147.80" width="4.28" height="13.23" fill="#33A02C"/>
<rect x="820.68" y="147.80" width="4.28" height="13.23" fill="#1F78B4"/>
<rect x="825.36" y="147.80" width="4.28" height="13.23" fill="#33A02C"/>
<rect x="830.04" y="147.80" width="4.28" height="13.23" fill="#33A02C"/>
<rect x="652.20" y="161.03" width="4.28" height="12.73" fill="#33A02C"/>
<rect x="656.88" y="161.03" width="4.28" height="12.73" fill="#1F78B4"/>
<rect x="661.56" y="161.03" width="4.28" height="12.73" fill="#33A02C"/>
<rect x="666.24" y="161.03" width="4.28" height="12.73" fill="#33A02C"/>
<rect x="670.92" y="161.03" width="4.28" height="12.73" fill="#33A02C"/>
<rect x="834.72" y="161.03" width="4.28" height="12.73" fill="#33A02C"/>
<rect x="839.40" y="161.03" width="4.28" height="12.73" fill="#33A02C"/>
<rect x="652.20" y="173.76" width="4.28" height="12.73" fill="#000000"/>
<rect x="675.60" y="173.76" width="4.28" height="12.73" fill="#33A02C"/>
<rect x="680.28" y="173.76" width="4.28" height="12.73" fill="#FFFF99"/>
<rect x="684.96" y="173.76" width="4.28" height="12.73" fill="#1F78B4"/>
<rect x="834.72" y="173.76" width="4.28" height="12.73" fill="#33A02C"/>
<rect x="839.40" y="173.76" width="4.28" height="12.73" fill="#33A02C"/>
<rect x="844.08" y="173.76" width="4.28" height="12.73" fill="#33A02C"/>
<rect x="675.60" y="186.49" width="4.28" height="12.73" fill="#33A02C"/>
<rect x="680.28" y="186.49" width="4.28" height="12.73" fill="#33A02C"/>
<rect x="689.64" y="186.49" width="4.28" height="12.73" fill="#1F78B4"/>
<rect x="694.32" y="186.49" width="4.28" height="12.73" fill="#33A02C"/>
<rect x="699.00" y="186.49" width="4.28" height="12.73" fill="#33A02C"/>
<rect x="834.72" y="186.49" width="4.28" height="12.73" fill="#33A02C"/>
<rect x="675.60" y="199.22" width="4.28" height="12.73" fill="#33A02C"/>
<rect x="703.68" y="199.22" width="4.28" height="12.73" fill="#33A02C"/>
<rect x="708.36" y="199.22" width="4.28" height="12.73" fill="#33A02C"/>
<rect x="713.04" y="199.22" width="4.28" height="12.73" fill="#33A02C"/>
<rect x="848.76" y="199.22" width="4.28" height="12.73" fill="#33A02C"/>
<rect x="853.44" y="199.22" width="4.28" height="12.73" fill="#000000"/>
<rect x="680.28" y="211.95" width="4.28" height="12.73" fill="#33A02C"/>
<rect x="703.68" y="211.95" width="4.28" height="12.73" fill="#33A02C"/>
<rect x="717.72" y="211.95" width="4.28" height="12.73" fill="#33A02C"/>
<rect x="722.40" y="211.95" width="4.28" height="12.73" fill="#33A02C"/>
<rect x="858.12" y="211.95" width="4.28" height="12.73" fill="#33A02C"/>
<rect x="862.80" y="211.95" width="4.28" height="12.73" fill="#33A02C"/>
<rect x="680.28" y="224.68" width="4.28" height="12.73" fill="#000000"/>
<rect x="727.08" y="224.68" width="4.28" height="12.73" fill="#33A02C"/>
<rect x="731.76" y="224.68" width="4.28" height="12.73" fill="#33A02C"/>
<rect x="834.72" y="224.68" width="4.28" height="12.73" fill="#33A02C"/>
<rect x="848.76" y="224.68" width="4.28" height="12.73" fill="#FFFF99"/>
<rect x="689.64" y="237.41" width="4.28" height="12.73" fill="#33A02C"/>
<rect x="736.44" y="237.41" width="4.28" height="12.73" fill="#000000"/>
<rect x="741.12" y="237.41" width="4.28" height="12.73" fill="#33A02C"/>
<rect x="834.72" y="237.41" width="4.28" height="12.73" fill="#33A02C"/>
<rect x="867.48" y="237.41" width="4.28" height="12.73" fill="#33A02C"/>
<rect x="656.88" y="250.14" width="4.28" height="12.73" fill="#33A02C"/>
<rect x="680.28" y="250.14" width="4.28" height="12.73" fill="#33A02C"/>
<rect x="834.72" y="250.14" width="4.28" height="12.73" fill="#6A3D9A"/>
<rect x="839.40" y="250.14" width="4.28" height="12.73" fill="#33A02C"/>
<rect x="853.44" y="250.14" width="4.28" height="12.73" fill="#33A02C"/>
<rect x="661.56" y="262.87" width="4.28" height="12.73" fill="#33A02C"/>
<rect x="708.36" y="262.87" width="4.28" height="12.73" fill="#33A02C"/>
<rect x="745.80" y="262.87" width="4.28" height="12.73" fill="#FF7F00"/>
<rect x="750.48" y="262.87" width="4.28" height="12.73" fill="#33A02C"/>
<rect x="853.44" y="262.87" width="4.28" height="12.73" fill="#33A02C"/>
<rect x="680.28" y="275.60" width="4.28" height="12.73" fill="#000000"/>
<rect x="689.64" y="275.60" width="4.28" height="12.73" fill="#E31A1C"/>
<rect x="708.36" y="275.60" width="4.28" height="12.73" fill="#33A02C"/>
<rect x="755.16" y="275.60" width="4.28" height="12.73" fill="#33A02C"/>
<rect x="834.72" y="275.60" width="4.28" height="12.73" fill="#33A02C"/>
<rect x="727.08" y="288.33" width="4.28" height="12.73" fill="#33A02C"/>
<rect x="759.84" y="288.33" width="4.28" height="12.73" fill="#33A02C"/>
<rect x="764.52" y="288.33" width="4.28" height="12.73" fill="#33A02C"/>
<rect x="834.72" y="288.33" width="4.28" height="12.73" fill="#33A02C"/>
<rect x="853.44" y="288.33" width="4.28" height="12.73" fill="#FF7F00"/>
<rect x="652.20" y="301.06" width="4.28" height="12.73" fill="#33A02C"/>
<rect x="666.24" y="301.06" width="4.28" height="12.73" fill="#33A02C"/>
<rect x="680.28" y="301.06" width="4.28" height="12.73" fill="#E31A1C"/>
<rect x="717.72" y="301.06" width="4.28" height="12.73" fill="#33A02C"/>
<rect x="769.20" y="301.06" width="4.28" height="12.73" fill="#33A02C"/>
<rect x="694.32" y="313.79" width="4.28" height="12.73" fill="#33A02C"/>
<rect x="699.00" y="313.79" width="4.28" height="12.73" fill="#33A02C"/>
<rect x="731.76" y="313.79" width="4.28" height="12.73" fill="#33A02C"/>
<rect x="773.88" y="313.79" width="4.28" height="12.73" fill="#33A02C"/>
<rect x="661.56" y="326.52" width="4.28" height="12.73" fill="#33A02C"/>
<rect x="680.28" y="326.52" width="4.28" height="12.73" fill="#33A02C"/>
<rect x="745.80" y="326.52" width="4.28" height="12.73" fill="#FFFF99"/>
<rect x="652.20" y="339.25" width="4.28" height="12.73" fill="#33A02C"/>
<rect x="694.32" y="339.25" width="4.28" height="12.73" fill="#33A02C"/>
<rect x="778.56" y="339.25" width="4.28" height="12.73" fill="#33A02C"/>
<rect x="834.72" y="339.25" width="4.28" height="12.73" fill="#33A02C"/>
<rect x="666.24" y="351.98" width="4.28" height="12.73" fill="#33A02C"/>
<rect x="680.28" y="351.98" width="4.28" height="12.73" fill="#000000"/>
<rect x="783.24" y="351.98" width="4.28" height="12.73" fill="#33A02C"/>
<rect x="834.72" y="351.98" width="4.28" height="12.73" fill="#33A02C"/>
<rect x="670.92" y="364.71" width="4.28" height="12.73" fill="#1F78B4"/>
<rect x="680.28" y="364.71" width="4.28" height="12.73" fill="#33A02C"/>
<rect x="844.08" y="364.71" width="4.28" height="12.73" fill="#33A02C"/>
<rect x="853.44" y="364.71" width="4.28" height="12.73" fill="#1F78B4"/>
<rect x="736.44" y="377.44" width="4.28" height="12.73" fill="#1F78B4"/>
<rect x="787.92" y="377.44" width="4.28" height="12.73" fill="#33A02C"/>
<rect x="792.60" y="377.44" width="4.28" height="12.73" fill="#33A02C"/>
<rect x="694.32" y="390.17" width="4.28" height="12.73" fill="#33A02C"/>
<rect x="717.72" y="390.17" width="4.28" height="12.73" fill="#33A02C"/>
<rect x="722.40" y="390.17" width="4.28" height="12.73" fill="#33A02C"/>
<rect x="834.72" y="390.17" width="4.28" height="12.73" fill="#33A02C"/>
<rect x="708.36" y="402.90" width="4.28" height="12.73" fill="#33A02C"/>
<rect x="750.48" y="402.90" width="4.28" height="12.73" fill="#FFFF99"/>
<rect x="853.44" y="402.90" width="4.28" height="12.73" fill="#FFFF99"/>
<rect x="858.12" y="402.90" width="4.28" height="12.73" fill="#6A3D9A"/>
<rect x="661.56" y="415.63" width="4.28" height="12.73" fill="#33A02C"/>
<rect x="680.28" y="415.63" width="4.28" height="12.73" fill="#33A02C"/>
<rect x="727.08" y="415.63" width="4.28" height="12.73" fill="#E31A1C"/>
<rect x="834.72" y="415.63" width="4.28" height="12.73" fill="#33A02C"/>
<rect x="661.56" y="428.36" width="4.28" height="12.73" fill="#33A02C"/>
<rect x="680.28" y="428.36" width="4.28" height="12.73" fill="#000000"/>
<rect x="727.08" y="428.36" width="4.28" height="12.73" fill="#000000"/>
<rect x="834.72" y="428.36" width="4.28" height="12.73" fill="#000000"/>
<rect x="689.64" y="441.09" width="4.28" height="12.73" fill="#000000"/>
<rect x="694.32" y="441.09" width="4.28" height="12.73" fill="#33A02C"/>
<rect x="787.92" y="441.09" width="4.28" height="12.73" fill="#E31A1C"/>
<rect x="844.08" y="441.09" width="4.28" height="12.73" fill="#1F78B4"/>
<rect x="717.72" y="453.82" width="4.28" height="12.73" fill="#33A02C"/>
<rect x="773.88" y="453.82" width="4.28" height="12.73" fill="#33A02C"/>
<rect x="834.72" y="453.82" width="4.28" height="12.73" fill="#33A02C"/>
<rect x="839.40" y="453.82" width="4.28" height="12.73" fill="#1F78B4"/>
<rect x="680.28" y="466.55" width="4.28" height="12.73" fill="#33A02C"/>
<rect x="787.92" y="466.55" width="4.28" height="12.73" fill="#33A02C"/>
<rect x="797.28" y="466.55" width="4.28" height="12.73" fill="#33A02C"/>
<rect x="834.72" y="466.55" width="4.28" height="12.73" fill="#33A02C"/>
<rect x="666.24" y="479.28" width="4.28" height="12.73" fill="#33A02C"/>
<rect x="727.08" y="479.28" width="4.28" height="12.73" fill="#33A02C"/>
<rect x="787.92" y="479.28" width="4.28" height="12.73" fill="#33A02C"/>
<rect x="834.72" y="479.28" width="4.28" height="12.73" fill="#33A02C"/>
<rect x="652.20" y="492.01" width="4.28" height="12.73" fill="#33A02C"/>
<rect x="670.92" y="492.01" width="4.28" height="12.73" fill="#33A02C"/>
<rect x="834.72" y="492.01" width="4.28" height="12.73" fill="#FF7F00"/>
<rect x="858.12" y="492.01" width="4.28" height="12.73" fill="#33A02C"/>
<rect x="736.44" y="504.74" width="4.28" height="12.73" fill="#6A3D9A"/>
<rect x="792.60" y="504.74" width="4.28" height="12.73" fill="#33A02C"/>
<rect x="801.96" y="504.74" width="4.28" height="12.73" fill="#33A02C"/>
<rect x="834.72" y="504.74" width="4.28" height="12.73" fill="#6A3D9A"/>
<rect x="656.88" y="517.47" width="4.28" height="12.13" fill="#33A02C"/>
<rect x="699.00" y="517.47" width="4.28" height="12.13" fill="#33A02C"/>
<rect x="783.24" y="517.47" width="4.28" height="12.13" fill="#000000"/>
<rect x="834.72" y="517.47" width="4.28" height="12.13" fill="#6A3D9A"/>
<line x1="652.00" y1="161.03" x2="871.96" y2="161.03" stroke="#ffffff" stroke-width="1.2"/>
<line x1="652.00" y1="173.76" x2="871.96" y2="173.76" stroke="#ffffff" stroke-width="1.2"/>
<line x1="652.00" y1="186.49" x2="871.96" y2="186.49" stroke="#ffffff" stroke-width="1.2"/>
<line x1="652.00" y1="199.22" x2="871.96" y2="199.22" stroke="#ffffff" stroke-width="1.2"/>
<line x1="652.00" y1="211.95" x2="871.96" y2="211.95" stroke="#ffffff" stroke-width="1.2"/>
<line x1="652.00" y1="224.68" x2="871.96" y2="224.68" stroke="#ffffff" stroke-width="1.2"/>
<line x1="652.00" y1="237.41" x2="871.96" y2="237.41" stroke="#ffffff" stroke-width="1.2"/>
<line x1="652.00" y1="250.14" x2="871.96" y2="250.14" stroke="#ffffff" stroke-width="1.2"/>
<line x1="652.00" y1="262.87" x2="871.96" y2="262.87" stroke="#ffffff" stroke-width="1.2"/>
<line x1="652.00" y1="275.60" x2="871.96" y2="275.60" stroke="#ffffff" stroke-width="1.2"/>
<line x1="652.00" y1="288.33" x2="871.96" y2="288.33" stroke="#ffffff" stroke-width="1.2"/>
<line x1="652.00" y1="301.06" x2="871.96" y2="301.06" stroke="#ffffff" stroke-width="1.2"/>
<line x1="652.00" y1="313.79" x2="871.96" y2="313.79" stroke="#ffffff" stroke-width="1.2"/>
<line x1="652.00" y1="326.52" x2="871.96" y2="326.52" stroke="#ffffff" stroke-width="1.2"/>
<line x1="652.00" y1="339.25" x2="871.96" y2="339.25" stroke="#ffffff" stroke-width="1.2"/>
<line x1="652.00" y1="351.98" x2="871.96" y2="351.98" stroke="#ffffff" stroke-width="1.2"/>
<line x1="652.00" y1="364.71" x2="871.96" y2="364.71" stroke="#ffffff" stroke-width="1.2"/>
<line x1="652.00" y1="377.44" x2="871.96" y2="377.44" stroke="#ffffff" stroke-width="1.2"/>
<line x1="652.00" y1="390.17" x2="871.96" y2="390.17" stroke="#ffffff" stroke-width="1.2"/>
<line x1="652.00" y1="402.90" x2="871.96" y2="402.90" stroke="#ffffff" stroke-width="1.2"/>
<line x1="652.00" y1="415.63" x2="871.96" y2="415.63" stroke="#ffffff" stroke-width="1.2"/>
<line x1="652.00" y1="428.36" x2="871.96" y2="428.36" stroke="#ffffff" stroke-width="1.2"/>
<line x1="652.00" y1="441.09" x2="871.96" y2="441.09" stroke="#ffffff" stroke-width="1.2"/>
<line x1="652.00" y1="453.82" x2="871.96" y2="453.82" stroke="#ffffff" stroke-width="1.2"/>
<line x1="652.00" y1="466.55" x2="871.96" y2="466.55" stroke="#ffffff" stroke-width="1.2"/>
<line x1="652.00" y1="479.28" x2="871.96" y2="479.28" stroke="#ffffff" stroke-width="1.2"/>
<line x1="652.00" y1="492.01" x2="871.96" y2="492.01" stroke="#ffffff" stroke-width="1.2"/>
<line x1="652.00" y1="504.74" x2="871.96" y2="504.74" stroke="#ffffff" stroke-width="1.2"/>
<line x1="652.00" y1="517.47" x2="871.96" y2="517.47" stroke="#ffffff" stroke-width="1.2"/>
<text transform="translate(651.00,158.84) scale(1.000,1.080)" font-size="10.40" text-anchor="end" font-weight="bold" fill="#111">TP53</text>
<text transform="translate(872.50,158.84) scale(1.000,1.080)" font-size="10.40" font-weight="bold" fill="#111">74%</text>
<text transform="translate(651.00,171.57) scale(1.000,1.080)" font-size="10.40" text-anchor="end" font-weight="bold" fill="#111">FBXW7</text>
<text transform="translate(872.50,171.57) scale(1.000,1.080)" font-size="10.40" font-weight="bold" fill="#111">13%</text>
<text transform="translate(651.00,184.30) scale(1.000,1.080)" font-size="10.40" text-anchor="end" font-weight="bold" fill="#111">TTN</text>
<text transform="translate(872.50,184.30) scale(1.000,1.080)" font-size="10.40" font-weight="bold" fill="#111">13%</text>
<text transform="translate(651.00,197.03) scale(1.000,1.080)" font-size="10.40" text-anchor="end" font-weight="bold" fill="#111">DNAH2</text>
<text transform="translate(872.50,197.03) scale(1.000,1.080)" font-size="10.40" font-weight="bold" fill="#111">11%</text>
<text transform="translate(651.00,209.76) scale(1.000,1.080)" font-size="10.40" text-anchor="end" font-weight="bold" fill="#111">PIK3CA</text>
<text transform="translate(872.50,209.76) scale(1.000,1.080)" font-size="10.40" font-weight="bold" fill="#111">11%</text>
<text transform="translate(651.00,222.49) scale(1.000,1.080)" font-size="10.40" text-anchor="end" font-weight="bold" fill="#111">USH2A</text>
<text transform="translate(872.50,222.49) scale(1.000,1.080)" font-size="10.40" font-weight="bold" fill="#111">11%</text>
<text transform="translate(651.00,235.22) scale(1.000,1.080)" font-size="10.40" text-anchor="end" font-weight="bold" fill="#111">APOB</text>
<text transform="translate(872.50,235.22) scale(1.000,1.080)" font-size="10.40" font-weight="bold" fill="#111">9%</text>
<text transform="translate(651.00,247.95) scale(1.000,1.080)" font-size="10.40" text-anchor="end" font-weight="bold" fill="#111">DMD</text>
<text transform="translate(872.50,247.95) scale(1.000,1.080)" font-size="10.40" font-weight="bold" fill="#111">9%</text>
<text transform="translate(651.00,260.68) scale(1.000,1.080)" font-size="10.40" text-anchor="end" font-weight="bold" fill="#111">DNAH17</text>
<text transform="translate(872.50,260.68) scale(1.000,1.080)" font-size="10.40" font-weight="bold" fill="#111">9%</text>
<text transform="translate(651.00,273.41) scale(1.000,1.080)" font-size="10.40" text-anchor="end" font-weight="bold" fill="#111">FRG1</text>
<text transform="translate(872.50,273.41) scale(1.000,1.080)" font-size="10.40" font-weight="bold" fill="#111">9%</text>
<text transform="translate(651.00,286.14) scale(1.000,1.080)" font-size="10.40" text-anchor="end" font-weight="bold" fill="#111">LYST</text>
<text transform="translate(872.50,286.14) scale(1.000,1.080)" font-size="10.40" font-weight="bold" fill="#111">9%</text>
<text transform="translate(651.00,298.87) scale(1.000,1.080)" font-size="10.40" text-anchor="end" font-weight="bold" fill="#111">SPTA1</text>
<text transform="translate(872.50,298.87) scale(1.000,1.080)" font-size="10.40" font-weight="bold" fill="#111">9%</text>
<text transform="translate(651.00,311.60) scale(1.000,1.080)" font-size="10.40" text-anchor="end" font-weight="bold" fill="#111">TECTA</text>
<text transform="translate(872.50,311.60) scale(1.000,1.080)" font-size="10.40" font-weight="bold" fill="#111">9%</text>
<text transform="translate(651.00,324.33) scale(1.000,1.080)" font-size="10.40" text-anchor="end" font-weight="bold" fill="#111">AKAP9</text>
<text transform="translate(872.50,324.33) scale(1.000,1.080)" font-size="10.40" font-weight="bold" fill="#111">8%</text>
<text transform="translate(651.00,337.06) scale(1.000,1.080)" font-size="10.40" text-anchor="end" font-weight="bold" fill="#111">C2orf16</text>
<text transform="translate(872.50,337.06) scale(1.000,1.080)" font-size="10.40" font-weight="bold" fill="#111">8%</text>
<text transform="translate(651.00,349.79) scale(1.000,1.080)" font-size="10.40" text-anchor="end" font-weight="bold" fill="#111">CKAP5</text>
<text transform="translate(872.50,349.79) scale(1.000,1.080)" font-size="10.40" font-weight="bold" fill="#111">8%</text>
<text transform="translate(651.00,362.52) scale(1.000,1.080)" font-size="10.40" text-anchor="end" font-weight="bold" fill="#111">CSMD3</text>
<text transform="translate(872.50,362.52) scale(1.000,1.080)" font-size="10.40" font-weight="bold" fill="#111">8%</text>
<text transform="translate(651.00,375.25) scale(1.000,1.080)" font-size="10.40" text-anchor="end" font-weight="bold" fill="#111">DDX55</text>
<text transform="translate(872.50,375.25) scale(1.000,1.080)" font-size="10.40" font-weight="bold" fill="#111">8%</text>
<text transform="translate(651.00,387.98) scale(1.000,1.080)" font-size="10.40" text-anchor="end" font-weight="bold" fill="#111">DOCK4</text>
<text transform="translate(872.50,387.98) scale(1.000,1.080)" font-size="10.40" font-weight="bold" fill="#111">8%</text>
<text transform="translate(651.00,400.71) scale(1.000,1.080)" font-size="10.40" text-anchor="end" font-weight="bold" fill="#111">FAT3</text>
<text transform="translate(872.50,400.71) scale(1.000,1.080)" font-size="10.40" font-weight="bold" fill="#111">8%</text>
<text transform="translate(651.00,413.44) scale(1.000,1.080)" font-size="10.40" text-anchor="end" font-weight="bold" fill="#111">GOLGA6L2</text>
<text transform="translate(872.50,413.44) scale(1.000,1.080)" font-size="10.40" font-weight="bold" fill="#111">8%</text>
<text transform="translate(651.00,426.17) scale(1.000,1.080)" font-size="10.40" text-anchor="end" font-weight="bold" fill="#111">LRRK1</text>
<text transform="translate(872.50,426.17) scale(1.000,1.080)" font-size="10.40" font-weight="bold" fill="#111">8%</text>
<text transform="translate(651.00,438.90) scale(1.000,1.080)" font-size="10.40" text-anchor="end" font-weight="bold" fill="#111">MUC16</text>
<text transform="translate(872.50,438.90) scale(1.000,1.080)" font-size="10.40" font-weight="bold" fill="#111">8%</text>
<text transform="translate(651.00,451.63) scale(1.000,1.080)" font-size="10.40" text-anchor="end" font-weight="bold" fill="#111">PKHD1L1</text>
<text transform="translate(872.50,451.63) scale(1.000,1.080)" font-size="10.40" font-weight="bold" fill="#111">8%</text>
<text transform="translate(651.00,464.36) scale(1.000,1.080)" font-size="10.40" text-anchor="end" font-weight="bold" fill="#111">RTL1</text>
<text transform="translate(872.50,464.36) scale(1.000,1.080)" font-size="10.40" font-weight="bold" fill="#111">8%</text>
<text transform="translate(651.00,477.09) scale(1.000,1.080)" font-size="10.40" text-anchor="end" font-weight="bold" fill="#111">RYR1</text>
<text transform="translate(872.50,477.09) scale(1.000,1.080)" font-size="10.40" font-weight="bold" fill="#111">8%</text>
<text transform="translate(651.00,489.82) scale(1.000,1.080)" font-size="10.40" text-anchor="end" font-weight="bold" fill="#111">RYR2</text>
<text transform="translate(872.50,489.82) scale(1.000,1.080)" font-size="10.40" font-weight="bold" fill="#111">8%</text>
<text transform="translate(651.00,502.55) scale(1.000,1.080)" font-size="10.40" text-anchor="end" font-weight="bold" fill="#111">TPR</text>
<text transform="translate(872.50,502.55) scale(1.000,1.080)" font-size="10.40" font-weight="bold" fill="#111">8%</text>
<text transform="translate(651.00,515.28) scale(1.000,1.080)" font-size="10.40" text-anchor="end" font-weight="bold" fill="#111">ZFP64</text>
<text transform="translate(872.50,515.28) scale(1.000,1.080)" font-size="10.40" font-weight="bold" fill="#111">8%</text>
<text transform="translate(651.00,528.01) scale(1.000,1.080)" font-size="10.40" text-anchor="end" font-weight="bold" fill="#111">ZNF687</text>
<text transform="translate(872.50,528.01) scale(1.000,1.080)" font-size="10.40" font-weight="bold" fill="#111">8%</text>
<rect x="895.90" y="149.00" width="30.26" height="11.33" fill="#33A02C"/>
<rect x="926.16" y="149.00" width="16.02" height="11.33" fill="#E31A1C"/>
<rect x="942.18" y="149.00" width="14.24" height="11.33" fill="#1F78B4"/>
<rect x="956.42" y="149.00" width="1.78" height="11.33" fill="#FFFF99"/>
<rect x="958.20" y="149.00" width="3.56" height="11.33" fill="#6A3D9A"/>
<rect x="961.76" y="149.00" width="1.78" height="11.33" fill="#FF7F00"/>
<rect x="963.54" y="149.00" width="1.78" height="11.33" fill="#000000"/>
<rect x="895.90" y="161.73" width="10.68" height="11.33" fill="#33A02C"/>
<rect x="906.58" y="161.73" width="1.78" height="11.33" fill="#1F78B4"/>
<rect x="895.90" y="174.46" width="7.12" height="11.33" fill="#33A02C"/>
<rect x="903.02" y="174.46" width="1.78" height="11.33" fill="#1F78B4"/>
<rect x="904.80" y="174.46" width="1.78" height="11.33" fill="#FFFF99"/>
<rect x="906.58" y="174.46" width="1.78" height="11.33" fill="#000000"/>
<rect x="895.90" y="187.19" width="8.90" height="11.33" fill="#33A02C"/>
<rect x="904.80" y="187.19" width="1.78" height="11.33" fill="#1F78B4"/>
<rect x="895.90" y="199.92" width="8.90" height="11.33" fill="#33A02C"/>
<rect x="904.80" y="199.92" width="1.78" height="11.33" fill="#000000"/>
<rect x="895.90" y="212.65" width="10.68" height="11.33" fill="#33A02C"/>
<rect x="895.90" y="225.38" width="5.34" height="11.33" fill="#33A02C"/>
<rect x="901.24" y="225.38" width="1.78" height="11.33" fill="#FFFF99"/>
<rect x="903.02" y="225.38" width="1.78" height="11.33" fill="#000000"/>
<rect x="895.90" y="238.11" width="7.12" height="11.33" fill="#33A02C"/>
<rect x="903.02" y="238.11" width="1.78" height="11.33" fill="#000000"/>
<rect x="895.90" y="250.84" width="7.12" height="11.33" fill="#33A02C"/>
<rect x="903.02" y="250.84" width="1.78" height="11.33" fill="#6A3D9A"/>
<rect x="895.90" y="263.57" width="7.12" height="11.33" fill="#33A02C"/>
<rect x="903.02" y="263.57" width="1.78" height="11.33" fill="#FF7F00"/>
<rect x="895.90" y="276.30" width="5.34" height="11.33" fill="#33A02C"/>
<rect x="901.24" y="276.30" width="1.78" height="11.33" fill="#E31A1C"/>
<rect x="903.02" y="276.30" width="1.78" height="11.33" fill="#000000"/>
<rect x="895.90" y="289.03" width="7.12" height="11.33" fill="#33A02C"/>
<rect x="903.02" y="289.03" width="1.78" height="11.33" fill="#FF7F00"/>
<rect x="895.90" y="301.76" width="7.12" height="11.33" fill="#33A02C"/>
<rect x="903.02" y="301.76" width="1.78" height="11.33" fill="#E31A1C"/>
<rect x="895.90" y="314.49" width="7.12" height="11.33" fill="#33A02C"/>
<rect x="895.90" y="327.22" width="3.56" height="11.33" fill="#33A02C"/>
<rect x="899.46" y="327.22" width="1.78" height="11.33" fill="#FFFF99"/>
<rect x="895.90" y="339.95" width="7.12" height="11.33" fill="#33A02C"/>
<rect x="895.90" y="352.68" width="5.34" height="11.33" fill="#33A02C"/>
<rect x="901.24" y="352.68" width="1.78" height="11.33" fill="#000000"/>
<rect x="895.90" y="365.41" width="3.56" height="11.33" fill="#33A02C"/>
<rect x="899.46" y="365.41" width="3.56" height="11.33" fill="#1F78B4"/>
<rect x="895.90" y="378.14" width="3.56" height="11.33" fill="#33A02C"/>
<rect x="899.46" y="378.14" width="1.78" height="11.33" fill="#1F78B4"/>
<rect x="895.90" y="390.87" width="7.12" height="11.33" fill="#33A02C"/>
<rect x="895.90" y="403.60" width="1.78" height="11.33" fill="#33A02C"/>
<rect x="897.68" y="403.60" width="3.56" height="11.33" fill="#FFFF99"/>
<rect x="901.24" y="403.60" width="1.78" height="11.33" fill="#6A3D9A"/>
<rect x="895.90" y="416.33" width="5.34" height="11.33" fill="#33A02C"/>
<rect x="901.24" y="416.33" width="1.78" height="11.33" fill="#E31A1C"/>
<rect x="895.90" y="429.06" width="1.78" height="11.33" fill="#33A02C"/>
<rect x="897.68" y="429.06" width="5.34" height="11.33" fill="#000000"/>
<rect x="895.90" y="441.79" width="1.78" height="11.33" fill="#33A02C"/>
<rect x="897.68" y="441.79" width="1.78" height="11.33" fill="#E31A1C"/>
<rect x="899.46" y="441.79" width="1.78" height="11.33" fill="#1F78B4"/>
<rect x="901.24" y="441.79" width="1.78" height="11.33" fill="#000000"/>
<rect x="895.90" y="454.52" width="5.34" height="11.33" fill="#33A02C"/>
<rect x="901.24" y="454.52" width="1.78" height="11.33" fill="#1F78B4"/>
<rect x="895.90" y="467.25" width="7.12" height="11.33" fill="#33A02C"/>
<rect x="895.90" y="479.98" width="7.12" height="11.33" fill="#33A02C"/>
<rect x="895.90" y="492.71" width="5.34" height="11.33" fill="#33A02C"/>
<rect x="901.24" y="492.71" width="1.78" height="11.33" fill="#FF7F00"/>
<rect x="895.90" y="505.44" width="3.56" height="11.33" fill="#33A02C"/>
<rect x="899.46" y="505.44" width="3.56" height="11.33" fill="#6A3D9A"/>
<rect x="895.90" y="518.17" width="3.56" height="11.33" fill="#33A02C"/>
<rect x="899.46" y="518.17" width="1.78" height="11.33" fill="#6A3D9A"/>
<rect x="901.24" y="518.17" width="1.78" height="11.33" fill="#000000"/>
<line x1="895.90" y1="145.60" x2="965.60" y2="145.60" stroke="#222" stroke-width="0.9"/>
<line x1="895.90" y1="145.60" x2="895.90" y2="140.60" stroke="#222" stroke-width="0.9"/>
<line x1="965.60" y1="145.60" x2="965.60" y2="140.60" stroke="#222" stroke-width="0.9"/>
<text transform="translate(895.90,138.32) scale(1.000,1.080)" font-size="10.80" text-anchor="middle" fill="#111">0</text>
<text transform="translate(966.60,138.32) scale(1.000,1.080)" font-size="10.80" text-anchor="middle" fill="#111">39</text>
<text transform="translate(931.75,140.23) scale(1.000,1.080)" font-size="6.80" text-anchor="middle" font-weight="bold" fill="#111">No. of samples</text>
<line x1="648.40" y1="82.00" x2="648.40" y2="145.00" stroke="#222" stroke-width="1.0"/>
<line x1="643.70" y1="82.00" x2="648.40" y2="82.00" stroke="#222" stroke-width="1.0"/>
<line x1="643.70" y1="145.00" x2="648.40" y2="145.00" stroke="#222" stroke-width="1.0"/>
<text transform="translate(643.20,84.16) scale(1.000,1.080)" font-size="5.80" text-anchor="end" font-weight="bold" fill="#222">717</text>
<text transform="translate(643.20,147.16) scale(1.000,1.080)" font-size="5.80" text-anchor="end" font-weight="bold" fill="#222">0</text>
<text transform="translate(640.01,113.50) rotate(-90) scale(1.000,1.080)" font-size="9.70" text-anchor="middle" font-weight="bold" fill="#222">TMB</text>
<rect x="652.25" y="142.30" width="4.18" height="4.50" fill="#33A02C"/>
<rect x="652.25" y="141.40" width="4.18" height="0.90" fill="#EF5B2B"/>
<rect x="656.93" y="145.20" width="4.18" height="1.60" fill="#33A02C"/>
<rect x="656.93" y="144.30" width="4.18" height="0.90" fill="#EF5B2B"/>
<rect x="661.61" y="135.90" width="4.18" height="10.90" fill="#33A02C"/>
<rect x="661.61" y="135.00" width="4.18" height="0.90" fill="#EF5B2B"/>
<rect x="666.29" y="142.30" width="4.18" height="4.50" fill="#33A02C"/>
<rect x="666.29" y="141.40" width="4.18" height="0.90" fill="#EF5B2B"/>
<rect x="670.97" y="144.10" width="4.18" height="2.70" fill="#33A02C"/>
<rect x="670.97" y="143.20" width="4.18" height="0.90" fill="#EF5B2B"/>
<rect x="675.65" y="145.80" width="4.18" height="1.00" fill="#33A02C"/>
<rect x="675.65" y="144.90" width="4.18" height="0.90" fill="#EF5B2B"/>
<rect x="685.01" y="144.60" width="4.18" height="2.20" fill="#33A02C"/>
<rect x="685.01" y="143.70" width="4.18" height="0.90" fill="#EF5B2B"/>
<rect x="689.69" y="140.90" width="4.18" height="5.90" fill="#33A02C"/>
<rect x="689.69" y="140.00" width="4.18" height="0.90" fill="#EF5B2B"/>
<rect x="694.37" y="138.40" width="4.18" height="8.40" fill="#33A02C"/>
<rect x="694.37" y="137.50" width="4.18" height="0.90" fill="#EF5B2B"/>
<rect x="699.05" y="143.60" width="4.18" height="3.20" fill="#33A02C"/>
<rect x="699.05" y="142.70" width="4.18" height="0.90" fill="#EF5B2B"/>
<rect x="703.73" y="146.30" width="4.18" height="0.50" fill="#33A02C"/>
<rect x="703.73" y="145.40" width="4.18" height="0.90" fill="#EF5B2B"/>
<rect x="708.41" y="142.20" width="4.18" height="4.60" fill="#33A02C"/>
<rect x="708.41" y="141.30" width="4.18" height="0.90" fill="#EF5B2B"/>
<rect x="713.09" y="145.20" width="4.18" height="1.60" fill="#33A02C"/>
<rect x="713.09" y="144.30" width="4.18" height="0.90" fill="#EF5B2B"/>
<rect x="717.77" y="140.00" width="4.18" height="6.80" fill="#33A02C"/>
<rect x="717.77" y="139.10" width="4.18" height="0.90" fill="#EF5B2B"/>
<rect x="722.45" y="141.80" width="4.18" height="5.00" fill="#33A02C"/>
<rect x="722.45" y="140.90" width="4.18" height="0.90" fill="#EF5B2B"/>
<rect x="727.13" y="138.00" width="4.18" height="8.80" fill="#33A02C"/>
<rect x="727.13" y="137.10" width="4.18" height="0.90" fill="#EF5B2B"/>
<rect x="731.81" y="136.00" width="4.18" height="10.80" fill="#33A02C"/>
<rect x="731.81" y="135.10" width="4.18" height="0.90" fill="#EF5B2B"/>
<rect x="736.49" y="144.10" width="4.18" height="2.70" fill="#33A02C"/>
<rect x="736.49" y="143.20" width="4.18" height="0.90" fill="#EF5B2B"/>
<rect x="741.17" y="145.60" width="4.18" height="1.20" fill="#33A02C"/>
<rect x="741.17" y="144.70" width="4.18" height="0.90" fill="#EF5B2B"/>
<rect x="745.85" y="143.60" width="4.18" height="3.20" fill="#33A02C"/>
<rect x="745.85" y="142.70" width="4.18" height="0.90" fill="#EF5B2B"/>
<rect x="750.53" y="142.90" width="4.18" height="3.90" fill="#33A02C"/>
<rect x="750.53" y="142.00" width="4.18" height="0.90" fill="#EF5B2B"/>
<rect x="755.21" y="146.20" width="4.18" height="0.60" fill="#33A02C"/>
<rect x="755.21" y="145.30" width="4.18" height="0.90" fill="#EF5B2B"/>
<rect x="759.89" y="144.50" width="4.18" height="2.30" fill="#33A02C"/>
<rect x="759.89" y="143.60" width="4.18" height="0.90" fill="#EF5B2B"/>
<rect x="764.57" y="141.60" width="4.18" height="5.20" fill="#33A02C"/>
<rect x="764.57" y="140.70" width="4.18" height="0.90" fill="#EF5B2B"/>
<rect x="769.25" y="145.00" width="4.18" height="1.80" fill="#33A02C"/>
<rect x="769.25" y="144.10" width="4.18" height="0.90" fill="#EF5B2B"/>
<rect x="773.93" y="145.00" width="4.18" height="1.80" fill="#33A02C"/>
<rect x="773.93" y="144.10" width="4.18" height="0.90" fill="#EF5B2B"/>
<rect x="778.61" y="143.90" width="4.18" height="2.90" fill="#33A02C"/>
<rect x="778.61" y="143.00" width="4.18" height="0.90" fill="#EF5B2B"/>
<rect x="783.29" y="139.10" width="4.18" height="7.70" fill="#33A02C"/>
<rect x="783.29" y="138.20" width="4.18" height="0.90" fill="#EF5B2B"/>
<rect x="787.97" y="137.20" width="4.18" height="9.60" fill="#33A02C"/>
<rect x="787.97" y="136.30" width="4.18" height="0.90" fill="#EF5B2B"/>
<rect x="792.65" y="139.90" width="4.18" height="6.90" fill="#33A02C"/>
<rect x="792.65" y="139.00" width="4.18" height="0.90" fill="#EF5B2B"/>
<rect x="797.33" y="145.40" width="4.18" height="1.40" fill="#33A02C"/>
<rect x="797.33" y="144.50" width="4.18" height="0.90" fill="#EF5B2B"/>
<rect x="802.01" y="145.20" width="4.18" height="1.60" fill="#33A02C"/>
<rect x="802.01" y="144.30" width="4.18" height="0.90" fill="#EF5B2B"/>
<rect x="806.69" y="146.20" width="4.18" height="0.60" fill="#33A02C"/>
<rect x="806.69" y="145.30" width="4.18" height="0.90" fill="#EF5B2B"/>
<rect x="811.37" y="142.30" width="4.18" height="4.50" fill="#33A02C"/>
<rect x="811.37" y="141.40" width="4.18" height="0.90" fill="#EF5B2B"/>
<rect x="816.05" y="143.70" width="4.18" height="3.10" fill="#33A02C"/>
<rect x="816.05" y="142.80" width="4.18" height="0.90" fill="#EF5B2B"/>
<rect x="820.73" y="144.60" width="4.18" height="2.20" fill="#33A02C"/>
<rect x="820.73" y="143.70" width="4.18" height="0.90" fill="#EF5B2B"/>
<rect x="825.41" y="144.60" width="4.18" height="2.20" fill="#33A02C"/>
<rect x="825.41" y="143.70" width="4.18" height="0.90" fill="#EF5B2B"/>
<rect x="830.09" y="145.80" width="4.18" height="1.00" fill="#33A02C"/>
<rect x="830.09" y="144.90" width="4.18" height="0.90" fill="#EF5B2B"/>
<rect x="839.45" y="142.00" width="4.18" height="4.80" fill="#33A02C"/>
<rect x="839.45" y="141.10" width="4.18" height="0.90" fill="#EF5B2B"/>
<rect x="844.13" y="142.00" width="4.18" height="4.80" fill="#33A02C"/>
<rect x="844.13" y="141.10" width="4.18" height="0.90" fill="#EF5B2B"/>
<rect x="848.81" y="145.20" width="4.18" height="1.60" fill="#33A02C"/>
<rect x="848.81" y="144.30" width="4.18" height="0.90" fill="#EF5B2B"/>
<rect x="853.49" y="143.70" width="4.18" height="3.10" fill="#33A02C"/>
<rect x="853.49" y="142.80" width="4.18" height="0.90" fill="#EF5B2B"/>
<rect x="858.17" y="143.30" width="4.18" height="3.50" fill="#33A02C"/>
<rect x="858.17" y="142.40" width="4.18" height="0.90" fill="#EF5B2B"/>
<rect x="862.85" y="146.60" width="4.18" height="0.20" fill="#33A02C"/>
<rect x="862.85" y="146.40" width="4.18" height="0.20" fill="#EF5B2B"/>
<rect x="867.53" y="146.40" width="4.18" height="0.40" fill="#33A02C"/>
<rect x="867.53" y="146.00" width="4.18" height="0.40" fill="#EF5B2B"/>
<rect x="680.33" y="144.20" width="4.18" height="2.60" fill="#1F78B4"/>
<rect x="680.33" y="141.00" width="4.18" height="3.20" fill="#6A3D9A"/>
<rect x="680.33" y="89.50" width="4.18" height="51.50" fill="#33A02C"/>
<rect x="680.33" y="86.00" width="4.18" height="3.50" fill="#EF5B2B"/>
<rect x="834.77" y="140.30" width="4.18" height="6.50" fill="#1F78B4"/>
<rect x="834.77" y="139.20" width="4.18" height="1.10" fill="#6A3D9A"/>
<rect x="834.77" y="87.20" width="4.18" height="52.00" fill="#33A02C"/>
<rect x="834.77" y="83.70" width="4.18" height="3.50" fill="#EF5B2B"/>
<rect x="652.00" y="533.00" width="219.96" height="7.20" fill="#CB1A2C"/>
<text transform="translate(649.00,541.90) scale(1.000,1.080)" font-size="14.50" text-anchor="end" fill="#000">MHPS</text>
<rect x="121.80" y="556.20" width="4.60" height="4.60" fill="#33A02C"/>
<text transform="translate(130.80,561.41) scale(1.000,1.080)" font-size="7.80" font-weight="bold" fill="#222">Missense_Mutation</text>
<rect x="121.80" y="574.40" width="4.60" height="4.60" fill="#1F78B4"/>
<text transform="translate(130.80,579.61) scale(1.000,1.080)" font-size="7.80" font-weight="bold" fill="#222">Frame_Shift_Del</text>
<rect x="121.80" y="592.30" width="4.60" height="4.60" fill="#FF7F00"/>
<text transform="translate(130.80,597.51) scale(1.000,1.080)" font-size="7.80" font-weight="bold" fill="#222">Splice_Site</text>
<rect x="121.80" y="610.70" width="4.60" height="4.60" fill="#6A3D9A"/>
<text transform="translate(130.80,615.91) scale(1.000,1.080)" font-size="7.80" font-weight="bold" fill="#222">Frame_Shift_Ins</text>
<rect x="216.60" y="556.20" width="4.60" height="4.60" fill="#E31A1C"/>
<text transform="translate(225.60,561.41) scale(1.000,1.080)" font-size="7.80" font-weight="bold" fill="#222">Nonsense_Mutation</text>
<rect x="216.60" y="574.40" width="4.60" height="4.60" fill="#FFFF99"/>
<text transform="translate(225.60,579.61) scale(1.000,1.080)" font-size="7.80" font-weight="bold" fill="#222">In_Frame_Del</text>
<rect x="216.60" y="592.30" width="4.60" height="4.60" fill="#D95F5F"/>
<text transform="translate(225.60,597.51) scale(1.000,1.080)" font-size="7.80" font-weight="bold" fill="#222">In_Frame_Ins</text>
<rect x="216.60" y="610.70" width="4.60" height="4.60" fill="#000000"/>
<text transform="translate(225.60,615.91) scale(1.000,1.080)" font-size="7.80" font-weight="bold" fill="#222">Multi_Hit</text>
<rect x="653.30" y="555.90" width="4.60" height="4.60" fill="#33A02C"/>
<text transform="translate(662.30,561.11) scale(1.000,1.080)" font-size="7.80" font-weight="bold" fill="#222">Missense_Mutation</text>
<rect x="653.30" y="575.10" width="4.60" height="4.60" fill="#E31A1C"/>
<text transform="translate(662.30,580.31) scale(1.000,1.080)" font-size="7.80" font-weight="bold" fill="#222">Nonsense_Mutation</text>
<rect x="653.30" y="594.00" width="4.60" height="4.60" fill="#1F78B4"/>
<text transform="translate(662.30,599.21) scale(1.000,1.080)" font-size="7.80" font-weight="bold" fill="#222">Frame_Shift_Del</text>
<rect x="653.30" y="612.10" width="4.60" height="4.60" fill="#FFFF99"/>
<text transform="translate(662.30,617.31) scale(1.000,1.080)" font-size="7.80" font-weight="bold" fill="#222">In_Frame_Del</text>
<rect x="748.80" y="555.90" width="4.60" height="4.60" fill="#6A3D9A"/>
<text transform="translate(757.80,561.11) scale(1.000,1.080)" font-size="7.80" font-weight="bold" fill="#222">Frame_Shift_Ins</text>
<rect x="748.80" y="575.10" width="4.60" height="4.60" fill="#FF7F00"/>
<text transform="translate(757.80,580.31) scale(1.000,1.080)" font-size="7.80" font-weight="bold" fill="#222">Splice_Site</text>
<rect x="748.80" y="594.00" width="4.60" height="4.60" fill="#000000"/>
<text transform="translate(757.80,599.21) scale(1.000,1.080)" font-size="7.80" font-weight="bold" fill="#222">Multi_Hit</text>
<text x="430.40" y="566.82" font-size="21.22" fill="#000">MHPS</text>
<rect x="430.40" y="579.90" width="12.70" height="12.30" fill="#1B6FC2"/>
<text x="451.10" y="593.41" font-size="17.70" fill="#000">Low-Score</text>
<rect x="430.40" y="603.40" width="12.70" height="12.30" fill="#CB1A2C"/>
<text x="451.10" y="617.30" font-size="17.67" fill="#000">High-Score</text>
<text x="1045.00" y="23.95" font-size="30.00" font-weight="bold" fill="#000">B</text>
<line x1="1126.20" y1="86.50" x2="1126.20" y2="534.80" stroke="#111111" stroke-width="1.6"/>
<line x1="1125.40" y1="534.00" x2="1406.00" y2="534.00" stroke="#111111" stroke-width="1.6"/>
<line x1="1123.20" y1="490.40" x2="1126.20" y2="490.40" stroke="#111111" stroke-width="0.9"/>
<text x="1122.50" y="494.06" font-size="10.60" text-anchor="end" font-weight="bold" fill="#2a2a2a">0</text>
<line x1="1123.20" y1="408.30" x2="1126.20" y2="408.30" stroke="#111111" stroke-width="0.9"/>
<text x="1122.50" y="411.96" font-size="10.60" text-anchor="end" font-weight="bold" fill="#2a2a2a">5</text>
<line x1="1123.20" y1="326.20" x2="1126.20" y2="326.20" stroke="#111111" stroke-width="0.9"/>
<text x="1122.50" y="329.86" font-size="10.60" text-anchor="end" font-weight="bold" fill="#2a2a2a">10</text>
<line x1="1123.20" y1="244.10" x2="1126.20" y2="244.10" stroke="#111111" stroke-width="0.9"/>
<text x="1122.50" y="247.76" font-size="10.60" text-anchor="end" font-weight="bold" fill="#2a2a2a">15</text>
<line x1="1123.20" y1="162.00" x2="1126.20" y2="162.00" stroke="#111111" stroke-width="0.9"/>
<text x="1122.50" y="165.66" font-size="10.60" text-anchor="end" font-weight="bold" fill="#2a2a2a">20</text>
<line x1="1189.50" y1="534.00" x2="1189.50" y2="538.00" stroke="#111111" stroke-width="0.9"/>
<line x1="1342.10" y1="534.00" x2="1342.10" y2="538.00" stroke="#111111" stroke-width="0.9"/>
<text x="1189.50" y="551.50" font-size="14.50" text-anchor="middle" fill="#222">high</text>
<text x="1344.00" y="551.50" font-size="14.50" text-anchor="middle" fill="#222">low</text>
<text x="1256.00" y="595.21" font-size="18.00" text-anchor="middle" fill="#111">MHPS</text>
<text transform="translate(1076.42,313.00) rotate(-90)" font-size="21.50" text-anchor="middle" fill="#111">Tumor Burden Mutation</text>
<polyline points="1189.50,121.50 1189.50,111.20 1342.10,111.20 1342.10,121.50" fill="none" stroke="#666" stroke-width="0.9"/>
<text x="1271.00" y="106.62" font-size="10.50" text-anchor="middle" font-weight="bold" fill="#222">0.019</text>
<text x="1437.00" y="95.54" font-size="17.50" fill="#111">MHPS</text>
<rect x="1436.60" y="106.80" width="21.00" height="17.20" fill="#DB4A35" stroke="#222" stroke-width="0.8"/>
<rect x="1436.60" y="124.60" width="21.00" height="17.20" fill="#4DB1CC" stroke="#222" stroke-width="0.8"/>
<text x="1464.00" y="121.90" font-size="14.20" fill="#222">High-Score</text>
<text x="1464.00" y="141.20" font-size="14.20" fill="#222">Low-Score</text>
<path d="M1189.50,130.00 L1189.56,130.36 L1189.64,130.82 L1189.73,131.36 L1189.83,131.97 L1189.94,132.62 L1190.06,133.31 L1190.18,134.01 L1190.29,134.70 L1190.40,135.37 L1190.50,136.00 L1190.60,136.60 L1190.72,137.20 L1190.83,137.80 L1190.95,138.40 L1191.07,139.00 L1191.17,139.60 L1191.27,140.20 L1191.34,140.80 L1191.38,141.40 L1191.40,142.00 L1191.38,142.61 L1191.34,143.23 L1191.26,143.86 L1191.17,144.50 L1191.06,145.12 L1190.95,145.74 L1190.83,146.35 L1190.71,146.93 L1190.60,147.48 L1190.50,148.00 L1190.41,148.42 L1190.31,148.70 L1190.20,148.91 L1190.10,149.07 L1189.99,149.25 L1189.90,149.49 L1189.80,149.83 L1189.72,150.34 L1189.65,151.04 L1189.60,152.00 L1189.56,152.77 L1189.54,153.07 L1189.53,153.16 L1189.54,153.30 L1189.54,153.75 L1189.56,154.78 L1189.57,156.66 L1189.59,159.65 L1189.60,164.01 L1189.60,170.00 L1189.60,178.37 L1189.59,189.26 L1189.57,202.03 L1189.56,216.03 L1189.54,230.62 L1189.54,245.17 L1189.53,259.02 L1189.54,271.54 L1189.56,282.08 L1189.60,290.00 L1189.65,295.35 L1189.72,298.80 L1189.81,300.70 L1189.90,301.36 L1190.00,301.13 L1190.10,300.33 L1190.21,299.28 L1190.31,298.33 L1190.41,297.79 L1190.50,298.00 L1190.59,298.68 L1190.69,299.33 L1190.80,299.95 L1190.90,300.55 L1191.01,301.13 L1191.10,301.70 L1191.18,302.25 L1191.24,302.80 L1191.29,303.35 L1191.30,303.90 L1191.29,304.44 L1191.24,304.97 L1191.18,305.49 L1191.10,306.00 L1191.01,306.51 L1190.90,307.01 L1190.80,307.50 L1190.69,308.00 L1190.59,308.50 L1190.50,309.00 L1190.41,309.00 L1190.31,308.23 L1190.21,307.01 L1190.10,305.68 L1190.00,304.57 L1189.90,304.01 L1189.81,304.34 L1189.72,305.90 L1189.65,309.00 L1189.60,314.00 L1189.56,321.59 L1189.52,331.82 L1189.50,344.04 L1189.50,357.59 L1189.50,371.81 L1189.50,386.05 L1189.50,399.64 L1189.52,411.94 L1189.55,422.27 L1189.60,430.00 L1189.67,435.20 L1189.75,438.59 L1189.86,440.50 L1189.97,441.22 L1190.09,441.06 L1190.22,440.34 L1190.35,439.37 L1190.48,438.45 L1190.59,437.89 L1190.70,438.00 L1190.80,438.50 L1190.89,438.91 L1190.99,439.24 L1191.08,439.52 L1191.17,439.76 L1191.26,439.98 L1191.34,440.19 L1191.43,440.42 L1191.51,440.69 L1191.60,441.00 L1191.69,441.35 L1191.79,441.72 L1191.90,442.11 L1192.00,442.50 L1192.11,442.90 L1192.20,443.30 L1192.28,443.71 L1192.34,444.11 L1192.39,444.51 L1192.40,444.90 L1192.37,445.28 L1192.29,445.65 L1192.18,446.02 L1192.05,446.38 L1191.91,446.74 L1191.77,447.11 L1191.66,447.49 L1191.59,447.88 L1191.56,448.28 L1191.60,448.70 L1191.67,449.14 L1191.74,449.60 L1191.83,450.07 L1191.95,450.55 L1192.10,451.04 L1192.31,451.53 L1192.58,452.03 L1192.92,452.52 L1193.36,453.02 L1193.90,453.50 L1194.59,453.98 L1195.43,454.45 L1196.39,454.91 L1197.44,455.38 L1198.54,455.84 L1199.66,456.32 L1200.74,456.79 L1201.77,457.28 L1202.70,457.78 L1203.50,458.30 L1204.16,458.83 L1204.71,459.38 L1205.17,459.94 L1205.58,460.51 L1205.96,461.09 L1206.34,461.67 L1206.73,462.25 L1207.17,462.84 L1207.69,463.42 L1208.30,464.00 L1208.98,464.58 L1209.70,465.17 L1210.45,465.76 L1211.24,466.36 L1212.06,466.96 L1212.93,467.55 L1213.85,468.13 L1214.81,468.70 L1215.83,469.26 L1216.90,469.80 L1218.05,470.32 L1219.30,470.82 L1220.61,471.31 L1221.99,471.79 L1223.39,472.26 L1224.82,472.73 L1226.24,473.19 L1227.64,473.66 L1229.00,474.12 L1230.30,474.60 L1231.66,475.08 L1233.16,475.56 L1234.73,476.04 L1236.31,476.52 L1237.83,477.00 L1239.23,477.48 L1240.43,477.96 L1241.37,478.44 L1241.98,478.92 L1242.20,479.40 L1241.99,479.88 L1241.40,480.36 L1240.49,480.84 L1239.32,481.32 L1237.95,481.80 L1236.45,482.28 L1234.87,482.76 L1233.28,483.24 L1231.73,483.72 L1230.30,484.20 L1228.89,484.68 L1227.40,485.16 L1225.84,485.64 L1224.24,486.12 L1222.62,486.60 L1221.01,487.08 L1219.42,487.56 L1217.87,488.04 L1216.39,488.52 L1215.00,489.00 L1213.69,489.48 L1212.44,489.98 L1211.24,490.47 L1210.08,490.97 L1208.96,491.46 L1207.85,491.95 L1206.76,492.43 L1205.68,492.90 L1204.60,493.36 L1203.50,493.80 L1202.37,494.22 L1201.21,494.61 L1200.03,494.98 L1198.85,495.34 L1197.69,495.70 L1196.58,496.06 L1195.52,496.42 L1194.54,496.79 L1193.66,497.18 L1192.90,497.60 L1192.25,498.06 L1191.70,498.57 L1191.24,499.12 L1190.86,499.68 L1190.54,500.24 L1190.27,500.78 L1190.04,501.28 L1189.85,501.73 L1189.67,502.11 L1189.50,502.40 L1189.50,502.40 L1189.33,502.11 L1189.15,501.73 L1188.96,501.28 L1188.73,500.78 L1188.46,500.24 L1188.14,499.68 L1187.76,499.12 L1187.30,498.57 L1186.75,498.06 L1186.10,497.60 L1185.34,497.18 L1184.46,496.79 L1183.48,496.42 L1182.42,496.06 L1181.31,495.70 L1180.15,495.34 L1178.97,494.98 L1177.79,494.61 L1176.63,494.22 L1175.50,493.80 L1174.40,493.36 L1173.32,492.90 L1172.24,492.43 L1171.15,491.95 L1170.04,491.46 L1168.92,490.97 L1167.76,490.47 L1166.56,489.98 L1165.31,489.48 L1164.00,489.00 L1162.61,488.52 L1161.13,488.04 L1159.58,487.56 L1157.99,487.08 L1156.38,486.60 L1154.76,486.12 L1153.16,485.64 L1151.60,485.16 L1150.11,484.68 L1148.70,484.20 L1147.27,483.72 L1145.72,483.24 L1144.13,482.76 L1142.55,482.28 L1141.05,481.80 L1139.68,481.32 L1138.51,480.84 L1137.60,480.36 L1137.01,479.88 L1136.80,479.40 L1137.02,478.92 L1137.63,478.44 L1138.57,477.96 L1139.77,477.48 L1141.17,477.00 L1142.69,476.52 L1144.27,476.04 L1145.84,475.56 L1147.34,475.08 L1148.70,474.60 L1150.00,474.12 L1151.36,473.66 L1152.76,473.19 L1154.18,472.73 L1155.61,472.26 L1157.01,471.79 L1158.39,471.31 L1159.70,470.82 L1160.95,470.32 L1162.10,469.80 L1163.17,469.26 L1164.19,468.70 L1165.15,468.13 L1166.07,467.55 L1166.94,466.96 L1167.76,466.36 L1168.55,465.76 L1169.30,465.17 L1170.02,464.58 L1170.70,464.00 L1171.31,463.42 L1171.83,462.84 L1172.27,462.25 L1172.66,461.67 L1173.04,461.09 L1173.42,460.51 L1173.83,459.94 L1174.29,459.38 L1174.84,458.83 L1175.50,458.30 L1176.30,457.78 L1177.23,457.28 L1178.26,456.79 L1179.34,456.32 L1180.46,455.84 L1181.56,455.38 L1182.61,454.91 L1183.57,454.45 L1184.41,453.98 L1185.10,453.50 L1185.64,453.02 L1186.08,452.52 L1186.42,452.03 L1186.69,451.53 L1186.90,451.04 L1187.05,450.55 L1187.17,450.07 L1187.26,449.60 L1187.33,449.14 L1187.40,448.70 L1187.44,448.28 L1187.41,447.88 L1187.34,447.49 L1187.23,447.11 L1187.09,446.74 L1186.95,446.38 L1186.82,446.02 L1186.71,445.65 L1186.63,445.28 L1186.60,444.90 L1186.61,444.51 L1186.66,444.11 L1186.72,443.71 L1186.80,443.30 L1186.89,442.90 L1187.00,442.50 L1187.10,442.11 L1187.21,441.72 L1187.31,441.35 L1187.40,441.00 L1187.49,440.69 L1187.57,440.42 L1187.66,440.19 L1187.74,439.98 L1187.83,439.76 L1187.92,439.52 L1188.01,439.24 L1188.11,438.91 L1188.20,438.50 L1188.30,438.00 L1188.41,437.89 L1188.52,438.45 L1188.65,439.37 L1188.78,440.34 L1188.91,441.06 L1189.03,441.22 L1189.14,440.50 L1189.25,438.59 L1189.33,435.20 L1189.40,430.00 L1189.45,422.27 L1189.48,411.94 L1189.50,399.64 L1189.50,386.05 L1189.50,371.81 L1189.50,357.59 L1189.50,344.04 L1189.48,331.82 L1189.44,321.59 L1189.40,314.00 L1189.35,309.00 L1189.28,305.90 L1189.19,304.34 L1189.10,304.01 L1189.00,304.57 L1188.90,305.68 L1188.79,307.01 L1188.69,308.23 L1188.59,309.00 L1188.50,309.00 L1188.41,308.50 L1188.31,308.00 L1188.20,307.50 L1188.10,307.01 L1187.99,306.51 L1187.90,306.00 L1187.82,305.49 L1187.76,304.97 L1187.71,304.44 L1187.70,303.90 L1187.71,303.35 L1187.76,302.80 L1187.82,302.25 L1187.90,301.70 L1187.99,301.13 L1188.10,300.55 L1188.20,299.95 L1188.31,299.33 L1188.41,298.68 L1188.50,298.00 L1188.59,297.79 L1188.69,298.33 L1188.79,299.28 L1188.90,300.33 L1189.00,301.13 L1189.10,301.36 L1189.19,300.70 L1189.28,298.80 L1189.35,295.35 L1189.40,290.00 L1189.44,282.08 L1189.46,271.54 L1189.47,259.02 L1189.46,245.17 L1189.46,230.62 L1189.44,216.03 L1189.43,202.03 L1189.41,189.26 L1189.40,178.37 L1189.40,170.00 L1189.40,164.01 L1189.41,159.65 L1189.43,156.66 L1189.44,154.78 L1189.46,153.75 L1189.46,153.30 L1189.47,153.16 L1189.46,153.07 L1189.44,152.77 L1189.40,152.00 L1189.35,151.04 L1189.28,150.34 L1189.20,149.83 L1189.10,149.49 L1189.01,149.25 L1188.90,149.07 L1188.80,148.91 L1188.69,148.70 L1188.59,148.42 L1188.50,148.00 L1188.40,147.48 L1188.29,146.93 L1188.17,146.35 L1188.05,145.74 L1187.94,145.12 L1187.83,144.50 L1187.74,143.86 L1187.66,143.23 L1187.62,142.61 L1187.60,142.00 L1187.62,141.40 L1187.66,140.80 L1187.73,140.20 L1187.83,139.60 L1187.93,139.00 L1188.05,138.40 L1188.17,137.80 L1188.28,137.20 L1188.40,136.60 L1188.50,136.00 L1188.60,135.37 L1188.71,134.70 L1188.82,134.01 L1188.94,133.31 L1189.06,132.62 L1189.17,131.97 L1189.27,131.36 L1189.36,130.82 L1189.44,130.36 L1189.50,130.00 Z" fill="#DB4A35" stroke="#111111" stroke-width="1.1" stroke-linejoin="round"/>
<line x1="1189.50" y1="457.40" x2="1189.50" y2="468.90" stroke="#1a1a1a" stroke-width="0.8"/>
<line x1="1189.50" y1="481.70" x2="1189.50" y2="489.90" stroke="#1a1a1a" stroke-width="0.8"/>
<rect x="1179.10" y="468.90" width="20.80" height="12.80" fill="#ffffff" stroke="#1a1a1a" stroke-width="0.8"/>
<line x1="1179.10" y1="478.00" x2="1199.90" y2="478.00" stroke="#1a1a1a" stroke-width="1.2"/>
<rect x="1187.90" y="141.00" width="3.20" height="2.00" fill="#111"/>
<rect x="1187.90" y="303.00" width="3.20" height="2.00" fill="#111"/>
<rect x="1187.90" y="443.90" width="3.20" height="2.00" fill="#111"/>
<path d="M1342.10,241.30 L1342.16,241.64 L1342.24,242.09 L1342.33,242.61 L1342.43,243.20 L1342.54,243.84 L1342.65,244.50 L1342.77,245.16 L1342.88,245.81 L1343.00,246.43 L1343.10,247.00 L1343.20,247.52 L1343.31,248.03 L1343.42,248.52 L1343.53,249.00 L1343.64,249.48 L1343.74,249.96 L1343.84,250.45 L1343.94,250.95 L1344.02,251.46 L1344.10,252.00 L1344.17,252.56 L1344.23,253.14 L1344.29,253.73 L1344.34,254.33 L1344.39,254.94 L1344.43,255.55 L1344.46,256.17 L1344.48,256.78 L1344.50,257.40 L1344.50,258.00 L1344.50,258.60 L1344.48,259.22 L1344.46,259.83 L1344.43,260.45 L1344.39,261.06 L1344.34,261.67 L1344.29,262.27 L1344.23,262.86 L1344.17,263.44 L1344.10,264.00 L1344.02,264.54 L1343.94,265.06 L1343.84,265.57 L1343.74,266.07 L1343.63,266.56 L1343.52,267.05 L1343.41,267.53 L1343.30,268.02 L1343.20,268.50 L1343.10,269.00 L1343.00,268.82 L1342.90,267.58 L1342.79,265.74 L1342.69,263.75 L1342.59,262.06 L1342.49,261.13 L1342.40,261.40 L1342.32,263.34 L1342.25,267.38 L1342.20,274.00 L1342.16,284.15 L1342.12,297.92 L1342.10,314.39 L1342.10,332.67 L1342.10,351.86 L1342.10,371.07 L1342.10,389.38 L1342.12,405.91 L1342.15,419.75 L1342.20,430.00 L1342.26,436.76 L1342.33,441.02 L1342.40,443.20 L1342.49,443.76 L1342.59,443.11 L1342.70,441.71 L1342.83,439.98 L1342.97,438.36 L1343.12,437.29 L1343.30,437.20 L1343.48,437.70 L1343.64,438.12 L1343.81,438.47 L1343.99,438.78 L1344.19,439.07 L1344.42,439.36 L1344.70,439.68 L1345.03,440.04 L1345.43,440.48 L1345.90,441.00 L1346.49,441.61 L1347.21,442.29 L1348.02,443.02 L1348.89,443.80 L1349.79,444.61 L1350.69,445.43 L1351.56,446.27 L1352.35,447.10 L1353.04,447.91 L1353.60,448.70 L1353.99,449.47 L1354.23,450.24 L1354.35,451.01 L1354.41,451.78 L1354.43,452.56 L1354.46,453.33 L1354.55,454.10 L1354.72,454.87 L1355.02,455.63 L1355.50,456.40 L1356.13,457.17 L1356.87,457.96 L1357.69,458.74 L1358.60,459.53 L1359.58,460.32 L1360.62,461.09 L1361.70,461.86 L1362.81,462.60 L1363.95,463.31 L1365.10,464.00 L1366.30,464.65 L1367.60,465.26 L1368.96,465.84 L1370.37,466.41 L1371.80,466.96 L1373.23,467.50 L1374.64,468.05 L1376.00,468.61 L1377.30,469.19 L1378.50,469.80 L1379.71,470.43 L1381.00,471.08 L1382.32,471.74 L1383.63,472.42 L1384.86,473.09 L1385.96,473.78 L1386.89,474.46 L1387.59,475.15 L1388.01,475.83 L1388.10,476.50 L1387.84,477.17 L1387.27,477.85 L1386.44,478.54 L1385.39,479.22 L1384.15,479.91 L1382.77,480.58 L1381.28,481.26 L1379.73,481.92 L1378.16,482.57 L1376.60,483.20 L1374.96,483.82 L1373.13,484.42 L1371.16,485.01 L1369.10,485.59 L1367.00,486.16 L1364.90,486.73 L1362.84,487.30 L1360.87,487.86 L1359.04,488.43 L1357.40,489.00 L1355.90,489.57 L1354.48,490.14 L1353.14,490.71 L1351.88,491.28 L1350.69,491.85 L1349.58,492.42 L1348.54,492.99 L1347.58,493.56 L1346.70,494.13 L1345.90,494.70 L1345.19,495.30 L1344.59,495.95 L1344.07,496.62 L1343.64,497.29 L1343.28,497.96 L1342.98,498.59 L1342.72,499.18 L1342.49,499.71 L1342.29,500.15 L1342.10,500.50 L1342.10,500.50 L1341.91,500.15 L1341.71,499.71 L1341.48,499.18 L1341.22,498.59 L1340.92,497.96 L1340.56,497.29 L1340.13,496.62 L1339.61,495.95 L1339.01,495.30 L1338.30,494.70 L1337.50,494.13 L1336.62,493.56 L1335.66,492.99 L1334.62,492.42 L1333.51,491.85 L1332.32,491.28 L1331.06,490.71 L1329.72,490.14 L1328.30,489.57 L1326.80,489.00 L1325.16,488.43 L1323.33,487.86 L1321.36,487.30 L1319.30,486.73 L1317.20,486.16 L1315.10,485.59 L1313.04,485.01 L1311.07,484.42 L1309.24,483.82 L1307.60,483.20 L1306.04,482.57 L1304.47,481.92 L1302.92,481.26 L1301.43,480.58 L1300.05,479.91 L1298.81,479.22 L1297.76,478.54 L1296.93,477.85 L1296.36,477.17 L1296.10,476.50 L1296.19,475.83 L1296.61,475.15 L1297.31,474.46 L1298.24,473.78 L1299.34,473.09 L1300.57,472.42 L1301.88,471.74 L1303.20,471.08 L1304.49,470.43 L1305.70,469.80 L1306.90,469.19 L1308.20,468.61 L1309.56,468.05 L1310.97,467.50 L1312.40,466.96 L1313.83,466.41 L1315.24,465.84 L1316.60,465.26 L1317.90,464.65 L1319.10,464.00 L1320.25,463.31 L1321.39,462.60 L1322.50,461.86 L1323.58,461.09 L1324.62,460.32 L1325.60,459.53 L1326.51,458.74 L1327.33,457.96 L1328.07,457.17 L1328.70,456.40 L1329.18,455.63 L1329.48,454.87 L1329.65,454.10 L1329.74,453.33 L1329.77,452.56 L1329.79,451.78 L1329.85,451.01 L1329.97,450.24 L1330.21,449.47 L1330.60,448.70 L1331.16,447.91 L1331.85,447.10 L1332.64,446.27 L1333.51,445.43 L1334.41,444.61 L1335.31,443.80 L1336.18,443.02 L1336.99,442.29 L1337.71,441.61 L1338.30,441.00 L1338.77,440.48 L1339.17,440.04 L1339.50,439.68 L1339.78,439.36 L1340.01,439.07 L1340.21,438.78 L1340.39,438.47 L1340.56,438.12 L1340.72,437.70 L1340.90,437.20 L1341.08,437.29 L1341.23,438.36 L1341.37,439.98 L1341.50,441.71 L1341.61,443.11 L1341.71,443.76 L1341.80,443.20 L1341.87,441.02 L1341.94,436.76 L1342.00,430.00 L1342.05,419.75 L1342.08,405.91 L1342.10,389.38 L1342.10,371.07 L1342.10,351.86 L1342.10,332.67 L1342.10,314.39 L1342.08,297.92 L1342.04,284.15 L1342.00,274.00 L1341.95,267.38 L1341.88,263.34 L1341.80,261.40 L1341.71,261.13 L1341.61,262.06 L1341.51,263.75 L1341.41,265.74 L1341.30,267.58 L1341.20,268.82 L1341.10,269.00 L1341.00,268.50 L1340.90,268.02 L1340.79,267.53 L1340.68,267.05 L1340.57,266.56 L1340.46,266.07 L1340.36,265.57 L1340.26,265.06 L1340.18,264.54 L1340.10,264.00 L1340.03,263.44 L1339.97,262.86 L1339.91,262.27 L1339.86,261.67 L1339.81,261.06 L1339.77,260.45 L1339.74,259.83 L1339.72,259.22 L1339.70,258.60 L1339.70,258.00 L1339.70,257.40 L1339.72,256.78 L1339.74,256.17 L1339.77,255.55 L1339.81,254.94 L1339.86,254.33 L1339.91,253.73 L1339.97,253.14 L1340.03,252.56 L1340.10,252.00 L1340.18,251.46 L1340.26,250.95 L1340.36,250.45 L1340.46,249.96 L1340.56,249.48 L1340.67,249.00 L1340.78,248.52 L1340.89,248.03 L1341.00,247.52 L1341.10,247.00 L1341.20,246.43 L1341.32,245.81 L1341.43,245.16 L1341.55,244.50 L1341.66,243.84 L1341.77,243.20 L1341.87,242.61 L1341.96,242.09 L1342.04,241.64 L1342.10,241.30 Z" fill="#4DB1CC" stroke="#111111" stroke-width="1.1" stroke-linejoin="round"/>
<line x1="1342.10" y1="444.90" x2="1342.10" y2="465.60" stroke="#1a1a1a" stroke-width="0.8"/>
<line x1="1342.10" y1="479.00" x2="1342.10" y2="487.40" stroke="#1a1a1a" stroke-width="0.8"/>
<rect x="1331.60" y="465.60" width="21.00" height="13.40" fill="#ffffff" stroke="#1a1a1a" stroke-width="0.8"/>
<line x1="1331.60" y1="474.20" x2="1352.60" y2="474.20" stroke="#1a1a1a" stroke-width="1.2"/>
<rect x="1340.30" y="253.50" width="3.60" height="1.60" fill="#111"/>
<rect x="1340.30" y="261.50" width="3.60" height="1.60" fill="#111"/>
<text x="-0.80" y="642.95" font-size="30.00" font-weight="bold" fill="#000">C</text>
<line x1="78.00" y1="687.00" x2="78.00" y2="1017.60" stroke="#111111" stroke-width="1.6"/>
<line x1="77.40" y1="1017.00" x2="397.00" y2="1017.00" stroke="#111111" stroke-width="1.6"/>
<line x1="74.50" y1="753.50" x2="78.00" y2="753.50" stroke="#111111" stroke-width="0.9"/>
<text transform="translate(76.00,758.84) scale(1.030,1.090)" font-size="14.20" text-anchor="end" fill="#3A3A3A">10</text>
<line x1="74.50" y1="848.70" x2="78.00" y2="848.70" stroke="#111111" stroke-width="0.9"/>
<text transform="translate(76.00,854.04) scale(1.030,1.090)" font-size="14.20" text-anchor="end" fill="#3A3A3A">8</text>
<line x1="74.50" y1="943.90" x2="78.00" y2="943.90" stroke="#111111" stroke-width="0.9"/>
<text transform="translate(76.00,949.24) scale(1.030,1.090)" font-size="14.20" text-anchor="end" fill="#3A3A3A">6</text>
<line x1="165.10" y1="1017.00" x2="165.10" y2="1021.00" stroke="#111111" stroke-width="0.9"/>
<line x1="309.90" y1="1017.00" x2="309.90" y2="1021.00" stroke="#111111" stroke-width="0.9"/>
<text transform="translate(175.10,1039.14) scale(1.030,1.090)" font-size="14.20" text-anchor="middle" fill="#222">High-Score</text>
<text transform="translate(319.90,1039.14) scale(1.030,1.090)" font-size="14.20" text-anchor="middle" fill="#222">Low-Score</text>
<text transform="translate(243.80,1064.40) scale(1.030,1.090)" font-size="21.00" text-anchor="middle" fill="#111">MHPS</text>
<text transform="translate(56.35,846.00) rotate(-90) scale(1.030,1.090)" font-size="21.40" text-anchor="middle" fill="#111">ips_ctla4_neg_pd1_neg</text>
<text transform="translate(325.00,701.84) scale(1.030,1.090)" font-size="17.40" fill="#000">MHPS</text>
<rect x="325.00" y="708.70" width="12.20" height="11.50" fill="#DB4A35" stroke="#1a1a1a" stroke-width="1.2"/>
<rect x="325.00" y="720.20" width="12.20" height="11.50" fill="#4DB1CC" stroke="#1a1a1a" stroke-width="1.2"/>
<text transform="translate(340.00,718.51) scale(1.030,1.090)" font-size="14.00" fill="#111">High-Score</text>
<text transform="translate(340.00,730.41) scale(1.030,1.090)" font-size="14.00" fill="#111">Low-Score</text>
<path d="M165.10,753.40 L165.19,753.66 L165.30,753.99 L165.43,754.37 L165.58,754.80 L165.74,755.27 L165.91,755.77 L166.10,756.31 L166.29,756.86 L166.49,757.43 L166.70,758.00 L166.91,758.60 L167.10,759.25 L167.31,759.93 L167.51,760.63 L167.74,761.36 L167.98,762.09 L168.25,762.82 L168.56,763.53 L168.91,764.23 L169.30,764.90 L169.74,765.54 L170.23,766.15 L170.75,766.75 L171.30,767.34 L171.89,767.92 L172.50,768.51 L173.13,769.11 L173.77,769.72 L174.43,770.34 L175.10,771.00 L175.79,771.67 L176.53,772.35 L177.29,773.03 L178.08,773.72 L178.88,774.43 L179.67,775.16 L180.47,775.90 L181.24,776.67 L181.99,777.47 L182.70,778.30 L183.40,779.17 L184.12,780.07 L184.84,781.01 L185.55,781.97 L186.24,782.96 L186.90,783.95 L187.50,784.95 L188.05,785.94 L188.52,786.93 L188.90,787.90 L189.20,788.87 L189.42,789.87 L189.57,790.88 L189.67,791.89 L189.71,792.89 L189.71,793.88 L189.67,794.85 L189.60,795.78 L189.51,796.67 L189.40,797.50 L189.25,798.28 L189.04,799.02 L188.78,799.73 L188.48,800.40 L188.16,801.04 L187.82,801.66 L187.49,802.26 L187.16,802.85 L186.86,803.42 L186.60,804.00 L186.35,804.57 L186.08,805.11 L185.80,805.64 L185.53,806.16 L185.27,806.66 L185.04,807.14 L184.84,807.62 L184.70,808.09 L184.61,808.55 L184.60,809.00 L184.66,809.44 L184.77,809.87 L184.93,810.29 L185.15,810.69 L185.40,811.09 L185.69,811.48 L186.01,811.86 L186.36,812.24 L186.72,812.62 L187.10,813.00 L187.45,813.35 L187.74,813.65 L188.02,813.92 L188.31,814.18 L188.66,814.45 L189.08,814.75 L189.63,815.09 L190.32,815.50 L191.20,816.00 L192.30,816.60 L193.67,817.32 L195.31,818.14 L197.15,819.04 L199.16,820.01 L201.27,821.03 L203.43,822.07 L205.59,823.13 L207.69,824.18 L209.67,825.21 L211.50,826.20 L213.23,827.16 L214.96,828.14 L216.67,829.11 L218.34,830.09 L219.97,831.06 L221.53,832.03 L223.01,832.99 L224.39,833.94 L225.66,834.88 L226.80,835.80 L227.83,836.71 L228.77,837.61 L229.63,838.51 L230.40,839.40 L231.07,840.28 L231.64,841.14 L232.12,841.99 L232.49,842.82 L232.75,843.62 L232.90,844.40 L232.96,845.14 L232.93,845.85 L232.81,846.52 L232.59,847.17 L232.26,847.81 L231.81,848.44 L231.24,849.08 L230.54,849.73 L229.69,850.40 L228.70,851.10 L227.48,851.83 L226.00,852.56 L224.32,853.31 L222.48,854.06 L220.56,854.83 L218.59,855.61 L216.65,856.39 L214.78,857.19 L213.05,857.99 L211.50,858.80 L210.03,859.63 L208.53,860.49 L207.03,861.37 L205.57,862.27 L204.20,863.16 L202.95,864.05 L201.87,864.93 L200.99,865.79 L200.35,866.61 L200.00,867.40 L199.94,868.13 L200.14,868.82 L200.57,869.46 L201.20,870.08 L202.00,870.69 L202.94,871.30 L204.01,871.94 L205.15,872.60 L206.36,873.32 L207.60,874.10 L208.99,874.95 L210.64,875.87 L212.47,876.83 L214.42,877.83 L216.43,878.84 L218.41,879.86 L220.32,880.88 L222.08,881.86 L223.63,882.81 L224.90,883.70 L225.93,884.54 L226.81,885.35 L227.56,886.12 L228.18,886.88 L228.68,887.62 L229.07,888.35 L229.36,889.08 L229.55,889.81 L229.67,890.54 L229.70,891.30 L229.67,892.06 L229.58,892.80 L229.42,893.54 L229.16,894.28 L228.80,895.02 L228.32,895.78 L227.70,896.55 L226.94,897.34 L226.01,898.15 L224.90,899.00 L223.57,899.88 L222.01,900.80 L220.26,901.74 L218.35,902.70 L216.32,903.68 L214.21,904.67 L212.05,905.66 L209.89,906.65 L207.76,907.63 L205.70,908.60 L203.60,909.56 L201.37,910.52 L199.06,911.48 L196.71,912.44 L194.37,913.41 L192.09,914.37 L189.93,915.33 L187.93,916.29 L186.14,917.24 L184.60,918.20 L183.32,919.15 L182.23,920.10 L181.32,921.05 L180.56,922.00 L179.93,922.95 L179.41,923.90 L178.96,924.85 L178.58,925.80 L178.23,926.75 L177.90,927.70 L177.64,928.66 L177.52,929.61 L177.50,930.57 L177.55,931.53 L177.66,932.49 L177.78,933.46 L177.89,934.42 L177.97,935.38 L177.98,936.34 L177.90,937.30 L177.74,938.26 L177.55,939.22 L177.33,940.18 L177.08,941.14 L176.80,942.10 L176.50,943.06 L176.18,944.02 L175.83,944.98 L175.47,945.94 L175.10,946.90 L174.69,947.87 L174.23,948.87 L173.73,949.88 L173.20,950.89 L172.66,951.89 L172.13,952.88 L171.61,953.85 L171.13,954.78 L170.68,955.67 L170.30,956.50 L169.97,957.27 L169.69,957.99 L169.43,958.67 L169.21,959.30 L169.01,959.92 L168.82,960.52 L168.64,961.12 L168.47,961.72 L168.29,962.35 L168.10,963.00 L167.91,963.64 L167.72,964.25 L167.54,964.84 L167.36,965.42 L167.19,966.02 L167.03,966.65 L166.86,967.34 L166.71,968.10 L166.55,968.94 L166.40,969.90 L166.25,971.04 L166.09,972.38 L165.94,973.86 L165.79,975.44 L165.64,977.03 L165.51,978.59 L165.38,980.06 L165.27,981.37 L165.18,982.47 L165.10,983.30 L165.10,983.30 L165.02,982.47 L164.93,981.37 L164.82,980.06 L164.69,978.59 L164.56,977.03 L164.41,975.44 L164.26,973.86 L164.11,972.38 L163.95,971.04 L163.80,969.90 L163.65,968.94 L163.49,968.10 L163.34,967.34 L163.17,966.65 L163.01,966.02 L162.84,965.42 L162.66,964.84 L162.48,964.25 L162.29,963.64 L162.10,963.00 L161.91,962.35 L161.73,961.72 L161.56,961.12 L161.38,960.52 L161.19,959.92 L160.99,959.30 L160.77,958.67 L160.51,957.99 L160.23,957.27 L159.90,956.50 L159.52,955.67 L159.07,954.78 L158.59,953.85 L158.07,952.88 L157.54,951.89 L157.00,950.89 L156.47,949.88 L155.97,948.87 L155.51,947.87 L155.10,946.90 L154.73,945.94 L154.37,944.98 L154.02,944.02 L153.70,943.06 L153.40,942.10 L153.12,941.14 L152.87,940.18 L152.65,939.22 L152.46,938.26 L152.30,937.30 L152.22,936.34 L152.23,935.38 L152.31,934.42 L152.42,933.46 L152.54,932.49 L152.65,931.53 L152.70,930.57 L152.68,929.61 L152.56,928.66 L152.30,927.70 L151.97,926.75 L151.62,925.80 L151.24,924.85 L150.79,923.90 L150.27,922.95 L149.64,922.00 L148.88,921.05 L147.97,920.10 L146.88,919.15 L145.60,918.20 L144.06,917.24 L142.27,916.29 L140.27,915.33 L138.11,914.37 L135.83,913.41 L133.49,912.44 L131.14,911.48 L128.83,910.52 L126.60,909.56 L124.50,908.60 L122.44,907.63 L120.31,906.65 L118.15,905.66 L115.99,904.67 L113.88,903.68 L111.85,902.70 L109.94,901.74 L108.19,900.80 L106.63,899.88 L105.30,899.00 L104.19,898.15 L103.26,897.34 L102.50,896.55 L101.88,895.78 L101.40,895.02 L101.04,894.28 L100.78,893.54 L100.62,892.80 L100.53,892.06 L100.50,891.30 L100.53,890.54 L100.65,889.81 L100.84,889.08 L101.13,888.35 L101.52,887.62 L102.02,886.88 L102.64,886.12 L103.39,885.35 L104.27,884.54 L105.30,883.70 L106.57,882.81 L108.12,881.86 L109.88,880.88 L111.79,879.86 L113.77,878.84 L115.78,877.83 L117.73,876.83 L119.56,875.87 L121.21,874.95 L122.60,874.10 L123.84,873.32 L125.05,872.60 L126.19,871.94 L127.26,871.30 L128.20,870.69 L129.00,870.08 L129.63,869.46 L130.06,868.82 L130.26,868.13 L130.20,867.40 L129.85,866.61 L129.21,865.79 L128.33,864.93 L127.25,864.05 L126.00,863.16 L124.63,862.27 L123.17,861.37 L121.67,860.49 L120.17,859.63 L118.70,858.80 L117.15,857.99 L115.42,857.19 L113.55,856.39 L111.61,855.61 L109.64,854.83 L107.72,854.06 L105.88,853.31 L104.20,852.56 L102.72,851.83 L101.50,851.10 L100.51,850.40 L99.66,849.73 L98.96,849.08 L98.39,848.44 L97.94,847.81 L97.61,847.17 L97.39,846.52 L97.27,845.85 L97.24,845.14 L97.30,844.40 L97.45,843.62 L97.71,842.82 L98.08,841.99 L98.56,841.14 L99.13,840.28 L99.80,839.40 L100.57,838.51 L101.43,837.61 L102.37,836.71 L103.40,835.80 L104.54,834.88 L105.81,833.94 L107.19,832.99 L108.67,832.03 L110.23,831.06 L111.86,830.09 L113.53,829.11 L115.24,828.14 L116.97,827.16 L118.70,826.20 L120.53,825.21 L122.51,824.18 L124.61,823.13 L126.77,822.07 L128.93,821.03 L131.04,820.01 L133.05,819.04 L134.89,818.14 L136.53,817.32 L137.90,816.60 L139.00,816.00 L139.88,815.50 L140.57,815.09 L141.12,814.75 L141.54,814.45 L141.89,814.18 L142.18,813.92 L142.46,813.65 L142.75,813.35 L143.10,813.00 L143.48,812.62 L143.84,812.24 L144.19,811.86 L144.51,811.48 L144.80,811.09 L145.05,810.69 L145.27,810.29 L145.43,809.87 L145.54,809.44 L145.60,809.00 L145.59,808.55 L145.50,808.09 L145.36,807.62 L145.16,807.14 L144.93,806.66 L144.67,806.16 L144.40,805.64 L144.12,805.11 L143.85,804.57 L143.60,804.00 L143.34,803.42 L143.04,802.85 L142.71,802.26 L142.38,801.66 L142.04,801.04 L141.72,800.40 L141.42,799.73 L141.16,799.02 L140.95,798.28 L140.80,797.50 L140.69,796.67 L140.60,795.78 L140.53,794.85 L140.49,793.88 L140.49,792.89 L140.53,791.89 L140.63,790.88 L140.78,789.87 L141.00,788.87 L141.30,787.90 L141.68,786.93 L142.15,785.94 L142.70,784.95 L143.30,783.95 L143.96,782.96 L144.65,781.97 L145.36,781.01 L146.08,780.07 L146.80,779.17 L147.50,778.30 L148.21,777.47 L148.96,776.67 L149.73,775.90 L150.53,775.16 L151.32,774.43 L152.12,773.72 L152.91,773.03 L153.67,772.35 L154.41,771.67 L155.10,771.00 L155.77,770.34 L156.43,769.72 L157.07,769.11 L157.70,768.51 L158.31,767.92 L158.90,767.34 L159.45,766.75 L159.97,766.15 L160.46,765.54 L160.90,764.90 L161.29,764.23 L161.64,763.53 L161.95,762.82 L162.22,762.09 L162.46,761.36 L162.69,760.63 L162.89,759.93 L163.10,759.25 L163.29,758.60 L163.50,758.00 L163.71,757.43 L163.91,756.86 L164.10,756.31 L164.29,755.77 L164.46,755.27 L164.62,754.80 L164.77,754.37 L164.90,753.99 L165.01,753.66 L165.10,753.40 Z" fill="#DB4A35" stroke="#111111" stroke-width="1.3" stroke-linejoin="round"/>
<path d="M309.90,738.70 L309.96,739.01 L310.03,739.42 L310.11,739.89 L310.20,740.42 L310.31,741.00 L310.42,741.60 L310.53,742.22 L310.65,742.84 L310.78,743.43 L310.90,744.00 L311.03,744.54 L311.15,745.09 L311.28,745.63 L311.42,746.18 L311.56,746.73 L311.70,747.29 L311.86,747.85 L312.03,748.42 L312.21,749.01 L312.40,749.60 L312.61,750.20 L312.82,750.82 L313.05,751.44 L313.29,752.07 L313.54,752.71 L313.80,753.36 L314.07,754.01 L314.34,754.67 L314.62,755.33 L314.90,756.00 L315.19,756.66 L315.50,757.29 L315.82,757.91 L316.14,758.54 L316.47,759.18 L316.81,759.85 L317.14,760.55 L317.47,761.30 L317.79,762.12 L318.10,763.00 L318.42,763.98 L318.76,765.04 L319.11,766.18 L319.46,767.37 L319.81,768.59 L320.13,769.83 L320.42,771.06 L320.67,772.26 L320.87,773.41 L321.00,774.50 L321.06,775.53 L321.06,776.53 L321.01,777.49 L320.92,778.44 L320.79,779.37 L320.65,780.29 L320.50,781.21 L320.35,782.13 L320.21,783.05 L320.10,784.00 L319.95,784.96 L319.71,785.94 L319.41,786.93 L319.11,787.92 L318.82,788.91 L318.60,789.89 L318.48,790.86 L318.50,791.80 L318.69,792.72 L319.10,793.60 L319.67,794.43 L320.36,795.20 L321.15,795.93 L322.07,796.63 L323.11,797.33 L324.30,798.04 L325.63,798.77 L327.12,799.55 L328.77,800.38 L330.60,801.30 L332.73,802.31 L335.24,803.42 L338.03,804.59 L341.00,805.81 L344.06,807.05 L347.12,808.29 L350.08,809.51 L352.84,810.68 L355.31,811.79 L357.40,812.80 L359.15,813.73 L360.70,814.62 L362.05,815.45 L363.23,816.25 L364.26,817.01 L365.17,817.75 L365.96,818.46 L366.67,819.15 L367.31,819.83 L367.90,820.50 L368.42,821.14 L368.85,821.74 L369.17,822.29 L369.40,822.83 L369.54,823.35 L369.58,823.87 L369.54,824.41 L369.41,824.96 L369.20,825.56 L368.90,826.20 L368.54,826.88 L368.13,827.58 L367.65,828.31 L367.08,829.05 L366.42,829.81 L365.66,830.59 L364.76,831.39 L363.73,832.21 L362.55,833.05 L361.20,833.90 L359.55,834.79 L357.55,835.71 L355.28,836.67 L352.84,837.66 L350.34,838.65 L347.86,839.64 L345.52,840.63 L343.39,841.59 L341.59,842.51 L340.20,843.40 L339.12,844.23 L338.20,845.02 L337.44,845.78 L336.87,846.52 L336.51,847.24 L336.36,847.97 L336.45,848.71 L336.79,849.47 L337.40,850.26 L338.30,851.10 L339.59,851.97 L341.32,852.85 L343.40,853.75 L345.75,854.67 L348.30,855.61 L350.96,856.57 L353.67,857.55 L356.33,858.57 L358.86,859.62 L361.20,860.70 L363.54,861.84 L366.09,863.06 L368.75,864.33 L371.42,865.64 L374.01,866.96 L376.43,868.27 L378.59,869.56 L380.38,870.81 L381.71,872.00 L382.50,873.10 L382.76,874.11 L382.60,875.03 L382.07,875.89 L381.19,876.71 L380.01,877.51 L378.56,878.30 L376.88,879.10 L375.00,879.94 L372.96,880.83 L370.80,881.80 L368.27,882.84 L365.20,883.92 L361.74,885.04 L358.02,886.20 L354.18,887.37 L350.38,888.57 L346.74,889.76 L343.42,890.96 L340.56,892.14 L338.30,893.30 L336.56,894.45 L335.15,895.60 L334.05,896.75 L333.23,897.90 L332.65,899.06 L332.29,900.21 L332.13,901.36 L332.13,902.51 L332.26,903.65 L332.50,904.80 L333.00,905.96 L333.86,907.15 L335.01,908.34 L336.36,909.54 L337.83,910.74 L339.33,911.91 L340.78,913.06 L342.10,914.16 L343.20,915.21 L344.00,916.20 L344.55,917.12 L344.98,917.98 L345.29,918.78 L345.48,919.55 L345.58,920.28 L345.59,921.00 L345.52,921.71 L345.37,922.42 L345.16,923.15 L344.90,923.90 L344.59,924.65 L344.23,925.38 L343.81,926.09 L343.31,926.80 L342.74,927.51 L342.07,928.25 L341.30,929.01 L340.42,929.82 L339.43,930.68 L338.30,931.60 L336.95,932.61 L335.34,933.72 L333.53,934.89 L331.59,936.11 L329.59,937.36 L327.60,938.60 L325.67,939.82 L323.89,940.99 L322.31,942.09 L321.00,943.10 L319.94,944.01 L319.04,944.84 L318.29,945.60 L317.66,946.32 L317.13,947.02 L316.68,947.70 L316.30,948.40 L315.95,949.11 L315.63,949.88 L315.30,950.70 L315.01,951.58 L314.79,952.49 L314.64,953.43 L314.54,954.40 L314.48,955.38 L314.45,956.36 L314.42,957.36 L314.40,958.35 L314.36,959.33 L314.30,960.30 L314.23,961.26 L314.18,962.22 L314.13,963.18 L314.09,964.14 L314.06,965.10 L314.01,966.06 L313.96,967.02 L313.90,967.98 L313.81,968.94 L313.70,969.90 L313.56,970.86 L313.40,971.81 L313.22,972.75 L313.03,973.70 L312.82,974.64 L312.62,975.60 L312.40,976.55 L312.19,977.52 L311.99,978.50 L311.80,979.50 L311.61,980.52 L311.41,981.57 L311.20,982.64 L310.99,983.73 L310.79,984.81 L310.59,985.89 L310.41,986.96 L310.25,988.01 L310.11,989.02 L310.00,990.00 L309.92,990.98 L309.90,991.98 L309.90,992.99 L309.90,993.99 L309.90,994.96 L309.90,995.87 L309.90,996.71 L309.90,997.46 L309.90,998.10 L309.90,998.60 L309.90,998.60 L309.90,998.10 L309.90,997.46 L309.90,996.71 L309.90,995.87 L309.90,994.96 L309.90,993.99 L309.90,992.99 L309.90,991.98 L309.88,990.98 L309.80,990.00 L309.69,989.02 L309.55,988.01 L309.39,986.96 L309.21,985.89 L309.01,984.81 L308.81,983.73 L308.60,982.64 L308.39,981.57 L308.19,980.52 L308.00,979.50 L307.81,978.50 L307.61,977.52 L307.40,976.55 L307.18,975.60 L306.97,974.64 L306.77,973.70 L306.58,972.75 L306.40,971.81 L306.24,970.86 L306.10,969.90 L305.99,968.94 L305.90,967.98 L305.84,967.02 L305.79,966.06 L305.74,965.10 L305.71,964.14 L305.67,963.18 L305.62,962.22 L305.57,961.26 L305.50,960.30 L305.44,959.33 L305.40,958.35 L305.38,957.36 L305.35,956.36 L305.32,955.38 L305.26,954.40 L305.16,953.43 L305.01,952.49 L304.79,951.58 L304.50,950.70 L304.17,949.88 L303.85,949.11 L303.50,948.40 L303.12,947.70 L302.67,947.02 L302.14,946.32 L301.51,945.60 L300.76,944.84 L299.86,944.01 L298.80,943.10 L297.49,942.09 L295.91,940.99 L294.13,939.82 L292.20,938.60 L290.21,937.36 L288.21,936.11 L286.27,934.89 L284.46,933.72 L282.85,932.61 L281.50,931.60 L280.37,930.68 L279.38,929.82 L278.50,929.01 L277.73,928.25 L277.06,927.51 L276.49,926.80 L275.99,926.09 L275.57,925.38 L275.21,924.65 L274.90,923.90 L274.64,923.15 L274.43,922.42 L274.28,921.71 L274.21,921.00 L274.22,920.28 L274.32,919.55 L274.51,918.78 L274.82,917.98 L275.25,917.12 L275.80,916.20 L276.60,915.21 L277.70,914.16 L279.02,913.06 L280.47,911.91 L281.97,910.74 L283.44,909.54 L284.79,908.34 L285.94,907.15 L286.80,905.96 L287.30,904.80 L287.54,903.65 L287.67,902.51 L287.67,901.36 L287.51,900.21 L287.15,899.06 L286.57,897.90 L285.75,896.75 L284.65,895.60 L283.24,894.45 L281.50,893.30 L279.24,892.14 L276.38,890.96 L273.06,889.76 L269.42,888.57 L265.62,887.37 L261.78,886.20 L258.06,885.04 L254.60,883.92 L251.53,882.84 L249.00,881.80 L246.84,880.83 L244.80,879.94 L242.92,879.10 L241.24,878.30 L239.79,877.51 L238.61,876.71 L237.73,875.89 L237.20,875.03 L237.04,874.11 L237.30,873.10 L238.09,872.00 L239.42,870.81 L241.21,869.56 L243.37,868.27 L245.79,866.96 L248.38,865.64 L251.05,864.33 L253.71,863.06 L256.26,861.84 L258.60,860.70 L260.94,859.62 L263.47,858.57 L266.13,857.55 L268.84,856.57 L271.50,855.61 L274.05,854.67 L276.40,853.75 L278.48,852.85 L280.21,851.97 L281.50,851.10 L282.40,850.26 L283.01,849.47 L283.35,848.71 L283.44,847.97 L283.29,847.24 L282.93,846.52 L282.36,845.78 L281.60,845.02 L280.68,844.23 L279.60,843.40 L278.21,842.51 L276.41,841.59 L274.28,840.63 L271.94,839.64 L269.46,838.65 L266.96,837.66 L264.52,836.67 L262.25,835.71 L260.25,834.79 L258.60,833.90 L257.25,833.05 L256.07,832.21 L255.04,831.39 L254.14,830.59 L253.37,829.81 L252.72,829.05 L252.15,828.31 L251.67,827.58 L251.26,826.88 L250.90,826.20 L250.60,825.56 L250.39,824.96 L250.26,824.41 L250.22,823.87 L250.26,823.35 L250.40,822.83 L250.63,822.29 L250.95,821.74 L251.38,821.14 L251.90,820.50 L252.49,819.83 L253.13,819.15 L253.84,818.46 L254.63,817.75 L255.54,817.01 L256.57,816.25 L257.75,815.45 L259.10,814.62 L260.65,813.73 L262.40,812.80 L264.49,811.79 L266.96,810.68 L269.72,809.51 L272.68,808.29 L275.74,807.05 L278.80,805.81 L281.77,804.59 L284.56,803.42 L287.07,802.31 L289.20,801.30 L291.03,800.38 L292.68,799.55 L294.17,798.77 L295.50,798.04 L296.69,797.33 L297.73,796.63 L298.65,795.93 L299.44,795.20 L300.13,794.43 L300.70,793.60 L301.11,792.72 L301.30,791.80 L301.32,790.86 L301.20,789.89 L300.97,788.91 L300.69,787.92 L300.39,786.93 L300.09,785.94 L299.85,784.96 L299.70,784.00 L299.59,783.05 L299.45,782.13 L299.30,781.21 L299.15,780.29 L299.01,779.37 L298.88,778.44 L298.79,777.49 L298.74,776.53 L298.74,775.53 L298.80,774.50 L298.93,773.41 L299.13,772.26 L299.38,771.06 L299.67,769.83 L299.99,768.59 L300.34,767.37 L300.69,766.18 L301.04,765.04 L301.38,763.98 L301.70,763.00 L302.01,762.12 L302.33,761.30 L302.66,760.55 L302.99,759.85 L303.32,759.18 L303.66,758.54 L303.98,757.91 L304.30,757.29 L304.61,756.66 L304.90,756.00 L305.18,755.33 L305.46,754.67 L305.73,754.01 L306.00,753.36 L306.26,752.71 L306.51,752.07 L306.75,751.44 L306.98,750.82 L307.19,750.20 L307.40,749.60 L307.59,749.01 L307.77,748.42 L307.94,747.85 L308.10,747.29 L308.24,746.73 L308.38,746.18 L308.52,745.63 L308.65,745.09 L308.77,744.54 L308.90,744.00 L309.02,743.43 L309.15,742.84 L309.27,742.22 L309.38,741.60 L309.49,741.00 L309.60,740.42 L309.69,739.89 L309.77,739.42 L309.84,739.01 L309.90,738.70 Z" fill="#4DB1CC" stroke="#111111" stroke-width="1.3" stroke-linejoin="round"/>
<line x1="165.10" y1="796.50" x2="165.10" y2="844.40" stroke="#1a1a1a" stroke-width="1.0"/>
<line x1="165.10" y1="892.30" x2="165.10" y2="940.20" stroke="#1a1a1a" stroke-width="1.0"/>
<rect x="150.80" y="844.40" width="28.60" height="47.90" fill="#ffffff" stroke="#1a1a1a" stroke-width="1.0"/>
<line x1="150.80" y1="844.40" x2="179.40" y2="844.40" stroke="#1a1a1a" stroke-width="1.6"/>
<line x1="309.90" y1="778.30" x2="309.90" y2="825.80" stroke="#1a1a1a" stroke-width="1.0"/>
<line x1="309.90" y1="873.10" x2="309.90" y2="921.00" stroke="#1a1a1a" stroke-width="1.0"/>
<rect x="295.80" y="825.80" width="28.20" height="47.30" fill="#ffffff" stroke="#1a1a1a" stroke-width="1.0"/>
<line x1="295.80" y1="873.10" x2="324.00" y2="873.10" stroke="#1a1a1a" stroke-width="1.6"/>
<circle cx="309.90" cy="968.90" r="2.10" fill="#111"/>
<polyline points="165.10,749.60 165.10,744.60 309.90,744.60 309.90,749.60" fill="none" stroke="#555" stroke-width="1.0"/>
<text transform="translate(241.40,742.16) scale(1.030,1.090)" font-size="10.80" text-anchor="middle" font-weight="bold" fill="#222">0.07895</text>
<line x1="459.30" y1="687.00" x2="459.30" y2="1016.40" stroke="#111111" stroke-width="1.6"/>
<line x1="458.70" y1="1015.80" x2="770.40" y2="1015.80" stroke="#111111" stroke-width="1.6"/>
<line x1="455.80" y1="755.80" x2="459.30" y2="755.80" stroke="#111111" stroke-width="0.9"/>
<text transform="translate(457.30,761.14) scale(1.030,1.090)" font-size="14.20" text-anchor="end" fill="#3A3A3A">10.0</text>
<line x1="455.80" y1="833.70" x2="459.30" y2="833.70" stroke="#111111" stroke-width="0.9"/>
<text transform="translate(457.30,839.04) scale(1.030,1.090)" font-size="14.20" text-anchor="end" fill="#3A3A3A">7.5</text>
<line x1="455.80" y1="911.60" x2="459.30" y2="911.60" stroke="#111111" stroke-width="0.9"/>
<text transform="translate(457.30,916.94) scale(1.030,1.090)" font-size="14.20" text-anchor="end" fill="#3A3A3A">5.0</text>
<line x1="455.80" y1="989.50" x2="459.30" y2="989.50" stroke="#111111" stroke-width="0.9"/>
<text transform="translate(457.30,994.84) scale(1.030,1.090)" font-size="14.20" text-anchor="end" fill="#3A3A3A">2.5</text>
<line x1="544.40" y1="1015.80" x2="544.40" y2="1019.80" stroke="#111111" stroke-width="0.9"/>
<line x1="686.00" y1="1015.80" x2="686.00" y2="1019.80" stroke="#111111" stroke-width="0.9"/>
<text transform="translate(554.40,1038.34) scale(1.030,1.090)" font-size="14.20" text-anchor="middle" fill="#222">High-Score</text>
<text transform="translate(696.00,1038.34) scale(1.030,1.090)" font-size="14.20" text-anchor="middle" fill="#222">Low-Score</text>
<text transform="translate(624.80,1063.90) scale(1.030,1.090)" font-size="21.00" text-anchor="middle" fill="#111">MHPS</text>
<text transform="translate(428.45,849.00) rotate(-90) scale(1.030,1.090)" font-size="21.40" text-anchor="middle" fill="#111">ips_ctla4_pos_pd1_pos</text>
<text transform="translate(709.60,701.64) scale(1.030,1.090)" font-size="17.40" fill="#000">MHPS</text>
<rect x="709.60" y="708.50" width="12.20" height="11.00" fill="#DB4A35" stroke="#1a1a1a" stroke-width="1.2"/>
<rect x="709.60" y="719.50" width="12.20" height="11.00" fill="#4DB1CC" stroke="#1a1a1a" stroke-width="1.2"/>
<text transform="translate(725.00,718.06) scale(1.030,1.090)" font-size="14.00" fill="#111">High-Score</text>
<text transform="translate(725.00,729.46) scale(1.030,1.090)" font-size="14.00" fill="#111">Low-Score</text>
<path d="M544.40,715.20 L544.40,715.78 L544.40,716.52 L544.40,717.39 L544.40,718.37 L544.40,719.43 L544.40,720.54 L544.41,721.68 L544.43,722.82 L544.46,723.94 L544.50,725.00 L544.56,726.05 L544.62,727.12 L544.70,728.22 L544.79,729.32 L544.88,730.44 L544.98,731.55 L545.08,732.65 L545.19,733.73 L545.29,734.78 L545.40,735.80 L545.51,736.79 L545.62,737.75 L545.73,738.70 L545.85,739.62 L545.97,740.54 L546.09,741.44 L546.22,742.33 L546.34,743.22 L546.47,744.11 L546.60,745.00 L546.71,745.84 L546.79,746.61 L546.85,747.33 L546.92,748.04 L546.99,748.76 L547.08,749.52 L547.22,750.36 L547.41,751.29 L547.66,752.37 L548.00,753.60 L548.42,755.01 L548.92,756.58 L549.48,758.29 L550.09,760.09 L550.74,761.97 L551.42,763.89 L552.12,765.84 L552.82,767.77 L553.52,769.67 L554.20,771.50 L554.88,773.29 L555.56,775.08 L556.26,776.87 L556.97,778.66 L557.69,780.45 L558.41,782.24 L559.15,784.03 L559.89,785.82 L560.64,787.61 L561.40,789.40 L562.15,791.19 L562.88,792.98 L563.60,794.77 L564.33,796.56 L565.07,798.35 L565.84,800.14 L566.64,801.93 L567.50,803.72 L568.41,805.51 L569.40,807.30 L570.46,809.11 L571.60,810.94 L572.79,812.78 L574.03,814.63 L575.31,816.48 L576.61,818.30 L577.93,820.09 L579.26,821.85 L580.59,823.56 L581.90,825.20 L583.25,826.78 L584.67,828.32 L586.13,829.81 L587.62,831.27 L589.10,832.69 L590.54,834.08 L591.92,835.46 L593.21,836.81 L594.38,838.16 L595.40,839.50 L596.30,840.84 L597.11,842.17 L597.84,843.50 L598.49,844.80 L599.06,846.09 L599.55,847.35 L599.96,848.57 L600.28,849.76 L600.53,850.90 L600.70,852.00 L600.75,853.05 L600.66,854.07 L600.46,855.05 L600.16,856.00 L599.81,856.91 L599.41,857.79 L599.01,858.62 L598.62,859.42 L598.28,860.18 L598.00,860.90 L597.76,861.56 L597.52,862.16 L597.28,862.69 L597.04,863.19 L596.81,863.66 L596.60,864.11 L596.41,864.55 L596.24,865.01 L596.10,865.49 L596.00,866.00 L595.93,866.54 L595.90,867.09 L595.89,867.65 L595.91,868.21 L595.94,868.78 L596.00,869.35 L596.06,869.92 L596.14,870.48 L596.22,871.05 L596.30,871.60 L596.39,872.15 L596.51,872.69 L596.64,873.23 L596.79,873.77 L596.94,874.31 L597.10,874.85 L597.24,875.39 L597.38,875.92 L597.50,876.46 L597.60,877.00 L597.71,877.52 L597.84,878.00 L597.99,878.45 L598.14,878.91 L598.27,879.37 L598.36,879.86 L598.39,880.39 L598.36,880.98 L598.23,881.65 L598.00,882.40 L597.63,883.28 L597.13,884.28 L596.51,885.37 L595.83,886.53 L595.09,887.72 L594.34,888.91 L593.61,890.08 L592.92,891.18 L592.31,892.20 L591.80,893.10 L591.38,893.88 L590.99,894.58 L590.65,895.20 L590.34,895.77 L590.06,896.31 L589.82,896.82 L589.60,897.33 L589.41,897.85 L589.24,898.40 L589.10,899.00 L589.01,899.62 L588.98,900.24 L589.01,900.85 L589.08,901.47 L589.16,902.11 L589.23,902.75 L589.28,903.42 L589.29,904.12 L589.23,904.84 L589.10,905.60 L588.91,906.40 L588.71,907.22 L588.48,908.07 L588.22,908.95 L587.91,909.84 L587.56,910.76 L587.15,911.70 L586.67,912.65 L586.13,913.62 L585.50,914.60 L584.77,915.60 L583.94,916.63 L583.02,917.69 L582.03,918.76 L580.99,919.84 L579.92,920.94 L578.84,922.04 L577.76,923.13 L576.71,924.22 L575.70,925.30 L574.71,926.35 L573.70,927.38 L572.68,928.40 L571.66,929.41 L570.64,930.42 L569.63,931.46 L568.65,932.53 L567.69,933.63 L566.77,934.78 L565.90,936.00 L565.07,937.28 L564.29,938.63 L563.55,940.03 L562.83,941.46 L562.13,942.92 L561.45,944.41 L560.77,945.90 L560.09,947.38 L559.40,948.85 L558.70,950.30 L557.97,951.75 L557.23,953.22 L556.48,954.70 L555.73,956.19 L554.98,957.67 L554.25,959.14 L553.54,960.57 L552.85,961.97 L552.20,963.32 L551.60,964.60 L551.03,965.84 L550.49,967.07 L549.97,968.26 L549.48,969.43 L549.01,970.55 L548.57,971.62 L548.16,972.64 L547.78,973.60 L547.42,974.49 L547.10,975.30 L546.81,976.01 L546.57,976.60 L546.36,977.11 L546.18,977.54 L546.03,977.94 L545.90,978.31 L545.77,978.68 L545.65,979.07 L545.53,979.50 L545.40,980.00 L545.27,980.58 L545.14,981.23 L545.02,981.92 L544.90,982.63 L544.79,983.34 L544.69,984.03 L544.60,984.67 L544.52,985.25 L544.46,985.73 L544.40,986.10 L544.40,986.10 L544.34,985.73 L544.28,985.25 L544.20,984.67 L544.11,984.03 L544.01,983.34 L543.90,982.63 L543.78,981.92 L543.66,981.23 L543.53,980.58 L543.40,980.00 L543.27,979.50 L543.15,979.07 L543.03,978.68 L542.90,978.31 L542.77,977.94 L542.62,977.54 L542.44,977.11 L542.23,976.60 L541.99,976.01 L541.70,975.30 L541.38,974.49 L541.02,973.60 L540.64,972.64 L540.23,971.62 L539.79,970.55 L539.32,969.43 L538.83,968.26 L538.31,967.07 L537.77,965.84 L537.20,964.60 L536.60,963.32 L535.95,961.97 L535.26,960.57 L534.55,959.14 L533.82,957.67 L533.07,956.19 L532.32,954.70 L531.57,953.22 L530.83,951.75 L530.10,950.30 L529.40,948.85 L528.71,947.38 L528.03,945.90 L527.35,944.41 L526.67,942.92 L525.97,941.46 L525.25,940.03 L524.51,938.63 L523.73,937.28 L522.90,936.00 L522.03,934.78 L521.11,933.63 L520.15,932.53 L519.17,931.46 L518.16,930.42 L517.14,929.41 L516.12,928.40 L515.10,927.38 L514.09,926.35 L513.10,925.30 L512.09,924.22 L511.04,923.13 L509.96,922.04 L508.88,920.94 L507.81,919.84 L506.77,918.76 L505.78,917.69 L504.86,916.63 L504.03,915.60 L503.30,914.60 L502.67,913.62 L502.13,912.65 L501.65,911.70 L501.24,910.76 L500.89,909.84 L500.58,908.95 L500.32,908.07 L500.09,907.22 L499.89,906.40 L499.70,905.60 L499.57,904.84 L499.51,904.12 L499.52,903.42 L499.57,902.75 L499.64,902.11 L499.72,901.47 L499.79,900.85 L499.82,900.24 L499.79,899.62 L499.70,899.00 L499.56,898.40 L499.39,897.85 L499.20,897.33 L498.98,896.82 L498.74,896.31 L498.46,895.77 L498.15,895.20 L497.81,894.58 L497.42,893.88 L497.00,893.10 L496.49,892.20 L495.88,891.18 L495.19,890.08 L494.46,888.91 L493.71,887.72 L492.97,886.53 L492.29,885.37 L491.67,884.28 L491.17,883.28 L490.80,882.40 L490.57,881.65 L490.44,880.98 L490.41,880.39 L490.44,879.86 L490.53,879.37 L490.66,878.91 L490.81,878.45 L490.96,878.00 L491.09,877.52 L491.20,877.00 L491.30,876.46 L491.42,875.92 L491.56,875.39 L491.70,874.85 L491.86,874.31 L492.01,873.77 L492.16,873.23 L492.29,872.69 L492.41,872.15 L492.50,871.60 L492.58,871.05 L492.66,870.48 L492.74,869.92 L492.80,869.35 L492.86,868.78 L492.89,868.21 L492.91,867.65 L492.90,867.09 L492.87,866.54 L492.80,866.00 L492.70,865.49 L492.56,865.01 L492.39,864.55 L492.20,864.11 L491.99,863.66 L491.76,863.19 L491.52,862.69 L491.28,862.16 L491.04,861.56 L490.80,860.90 L490.52,860.18 L490.18,859.42 L489.79,858.62 L489.39,857.79 L488.99,856.91 L488.64,856.00 L488.34,855.05 L488.14,854.07 L488.05,853.05 L488.10,852.00 L488.27,850.90 L488.52,849.76 L488.84,848.57 L489.25,847.35 L489.74,846.09 L490.31,844.80 L490.96,843.50 L491.69,842.17 L492.50,840.84 L493.40,839.50 L494.42,838.16 L495.59,836.81 L496.88,835.46 L498.26,834.08 L499.70,832.69 L501.18,831.27 L502.67,829.81 L504.13,828.32 L505.55,826.78 L506.90,825.20 L508.21,823.56 L509.54,821.85 L510.87,820.09 L512.19,818.30 L513.49,816.48 L514.77,814.63 L516.01,812.78 L517.20,810.94 L518.34,809.11 L519.40,807.30 L520.39,805.51 L521.30,803.72 L522.16,801.93 L522.96,800.14 L523.73,798.35 L524.47,796.56 L525.20,794.77 L525.92,792.98 L526.65,791.19 L527.40,789.40 L528.16,787.61 L528.91,785.82 L529.65,784.03 L530.39,782.24 L531.11,780.45 L531.83,778.66 L532.54,776.87 L533.24,775.08 L533.92,773.29 L534.60,771.50 L535.28,769.67 L535.98,767.77 L536.68,765.84 L537.38,763.89 L538.06,761.97 L538.71,760.09 L539.32,758.29 L539.88,756.58 L540.38,755.01 L540.80,753.60 L541.14,752.37 L541.39,751.29 L541.58,750.36 L541.72,749.52 L541.81,748.76 L541.88,748.04 L541.95,747.33 L542.01,746.61 L542.09,745.84 L542.20,745.00 L542.33,744.11 L542.46,743.22 L542.58,742.33 L542.71,741.44 L542.83,740.54 L542.95,739.62 L543.07,738.70 L543.18,737.75 L543.29,736.79 L543.40,735.80 L543.51,734.78 L543.61,733.73 L543.72,732.65 L543.82,731.55 L543.92,730.44 L544.01,729.32 L544.10,728.22 L544.18,727.12 L544.24,726.05 L544.30,725.00 L544.34,723.94 L544.37,722.82 L544.39,721.68 L544.40,720.54 L544.40,719.43 L544.40,718.37 L544.40,717.39 L544.40,716.52 L544.40,715.78 L544.40,715.20 Z" fill="#DB4A35" stroke="#111111" stroke-width="1.3" stroke-linejoin="round"/>
<path d="M686.00,715.20 L686.00,715.78 L686.00,716.52 L686.00,717.39 L686.00,718.37 L686.00,719.43 L686.00,720.54 L686.00,721.68 L686.00,722.82 L686.04,723.94 L686.10,725.00 L686.18,726.01 L686.28,726.98 L686.39,727.95 L686.52,728.91 L686.66,729.90 L686.81,730.93 L686.97,732.01 L687.14,733.18 L687.31,734.43 L687.50,735.80 L687.67,737.30 L687.81,738.91 L687.94,740.62 L688.07,742.41 L688.23,744.26 L688.42,746.14 L688.66,748.03 L688.98,749.92 L689.39,751.78 L689.90,753.60 L690.53,755.40 L691.25,757.23 L692.06,759.08 L692.94,760.93 L693.88,762.77 L694.86,764.59 L695.87,766.39 L696.89,768.15 L697.90,769.86 L698.90,771.50 L699.87,773.08 L700.82,774.59 L701.76,776.05 L702.71,777.48 L703.69,778.87 L704.72,780.25 L705.81,781.62 L706.97,783.00 L708.23,784.39 L709.60,785.80 L711.08,787.25 L712.66,788.72 L714.33,790.20 L716.07,791.69 L717.88,793.17 L719.74,794.63 L721.65,796.07 L723.58,797.46 L725.54,798.81 L727.50,800.10 L729.56,801.32 L731.78,802.49 L734.10,803.60 L736.48,804.68 L738.85,805.72 L741.17,806.76 L743.39,807.78 L745.45,808.80 L747.31,809.84 L748.90,810.90 L750.27,811.98 L751.50,813.08 L752.59,814.17 L753.53,815.27 L754.34,816.37 L755.02,817.45 L755.56,818.53 L755.97,819.58 L756.25,820.60 L756.40,821.60 L756.40,822.55 L756.21,823.44 L755.87,824.29 L755.40,825.12 L754.80,825.94 L754.10,826.77 L753.33,827.62 L752.49,828.52 L751.60,829.47 L750.70,830.50 L749.71,831.60 L748.58,832.74 L747.34,833.93 L746.02,835.15 L744.65,836.41 L743.27,837.70 L741.90,839.00 L740.58,840.33 L739.33,841.66 L738.20,843.00 L737.15,844.36 L736.13,845.74 L735.16,847.16 L734.21,848.59 L733.31,850.04 L732.44,851.49 L731.60,852.95 L730.80,854.41 L730.03,855.86 L729.30,857.30 L728.61,858.73 L727.97,860.16 L727.37,861.59 L726.80,863.02 L726.27,864.44 L725.76,865.87 L725.28,867.30 L724.81,868.73 L724.35,870.17 L723.90,871.60 L723.48,873.04 L723.12,874.48 L722.80,875.92 L722.50,877.36 L722.21,878.80 L721.91,880.24 L721.58,881.68 L721.22,883.12 L720.79,884.56 L720.30,886.00 L719.73,887.43 L719.11,888.87 L718.43,890.30 L717.72,891.73 L716.98,893.16 L716.22,894.58 L715.45,896.01 L714.68,897.44 L713.93,898.87 L713.20,900.30 L712.48,901.73 L711.76,903.16 L711.04,904.59 L710.32,906.02 L709.60,907.45 L708.88,908.88 L708.16,910.31 L707.44,911.74 L706.72,913.17 L706.00,914.60 L705.29,916.03 L704.59,917.46 L703.89,918.89 L703.20,920.32 L702.51,921.75 L701.81,923.18 L701.10,924.61 L700.38,926.04 L699.65,927.47 L698.90,928.90 L698.11,930.36 L697.27,931.88 L696.39,933.43 L695.50,934.98 L694.61,936.52 L693.74,938.02 L692.91,939.46 L692.13,940.82 L691.42,942.07 L690.80,943.20 L690.27,944.18 L689.80,945.03 L689.40,945.77 L689.05,946.43 L688.74,947.03 L688.46,947.59 L688.21,948.14 L687.97,948.72 L687.74,949.33 L687.50,950.00 L687.27,950.76 L687.06,951.58 L686.87,952.43 L686.70,953.31 L686.54,954.17 L686.41,955.01 L686.28,955.78 L686.18,956.47 L686.08,957.05 L686.00,957.50 L686.00,957.50 L685.92,957.05 L685.82,956.47 L685.72,955.78 L685.59,955.01 L685.46,954.17 L685.30,953.31 L685.13,952.43 L684.94,951.58 L684.73,950.76 L684.50,950.00 L684.26,949.33 L684.03,948.72 L683.79,948.14 L683.54,947.59 L683.26,947.03 L682.95,946.43 L682.60,945.77 L682.20,945.03 L681.73,944.18 L681.20,943.20 L680.58,942.07 L679.87,940.82 L679.09,939.46 L678.26,938.02 L677.39,936.52 L676.50,934.98 L675.61,933.43 L674.73,931.88 L673.89,930.36 L673.10,928.90 L672.35,927.47 L671.62,926.04 L670.90,924.61 L670.19,923.18 L669.49,921.75 L668.80,920.32 L668.11,918.89 L667.41,917.46 L666.71,916.03 L666.00,914.60 L665.28,913.17 L664.56,911.74 L663.84,910.31 L663.12,908.88 L662.40,907.45 L661.68,906.02 L660.96,904.59 L660.24,903.16 L659.52,901.73 L658.80,900.30 L658.07,898.87 L657.32,897.44 L656.55,896.01 L655.78,894.58 L655.02,893.16 L654.28,891.73 L653.57,890.30 L652.89,888.87 L652.27,887.43 L651.70,886.00 L651.21,884.56 L650.78,883.12 L650.42,881.68 L650.09,880.24 L649.79,878.80 L649.50,877.36 L649.20,875.92 L648.88,874.48 L648.52,873.04 L648.10,871.60 L647.65,870.17 L647.19,868.73 L646.72,867.30 L646.24,865.87 L645.73,864.44 L645.20,863.02 L644.63,861.59 L644.03,860.16 L643.39,858.73 L642.70,857.30 L641.97,855.86 L641.20,854.41 L640.40,852.95 L639.56,851.49 L638.69,850.04 L637.79,848.59 L636.84,847.16 L635.87,845.74 L634.85,844.36 L633.80,843.00 L632.67,841.66 L631.42,840.33 L630.10,839.00 L628.73,837.70 L627.35,836.41 L625.98,835.15 L624.66,833.93 L623.42,832.74 L622.29,831.60 L621.30,830.50 L620.40,829.47 L619.51,828.52 L618.67,827.62 L617.90,826.77 L617.20,825.94 L616.60,825.12 L616.13,824.29 L615.79,823.44 L615.60,822.55 L615.60,821.60 L615.75,820.60 L616.03,819.58 L616.44,818.53 L616.98,817.45 L617.66,816.37 L618.47,815.27 L619.41,814.17 L620.50,813.08 L621.73,811.98 L623.10,810.90 L624.69,809.84 L626.55,808.80 L628.61,807.78 L630.83,806.76 L633.15,805.72 L635.52,804.68 L637.90,803.60 L640.22,802.49 L642.44,801.32 L644.50,800.10 L646.46,798.81 L648.42,797.46 L650.35,796.07 L652.26,794.63 L654.12,793.17 L655.93,791.69 L657.67,790.20 L659.34,788.72 L660.92,787.25 L662.40,785.80 L663.77,784.39 L665.03,783.00 L666.19,781.62 L667.28,780.25 L668.31,778.87 L669.29,777.48 L670.24,776.05 L671.18,774.59 L672.13,773.08 L673.10,771.50 L674.10,769.86 L675.11,768.15 L676.13,766.39 L677.14,764.59 L678.12,762.77 L679.06,760.93 L679.94,759.08 L680.75,757.23 L681.47,755.40 L682.10,753.60 L682.61,751.78 L683.02,749.92 L683.34,748.03 L683.58,746.14 L683.77,744.26 L683.93,742.41 L684.06,740.62 L684.19,738.91 L684.33,737.30 L684.50,735.80 L684.69,734.43 L684.86,733.18 L685.03,732.01 L685.19,730.93 L685.34,729.90 L685.48,728.91 L685.61,727.95 L685.72,726.98 L685.82,726.01 L685.90,725.00 L685.96,723.94 L686.00,722.82 L686.00,721.68 L686.00,720.54 L686.00,719.43 L686.00,718.37 L686.00,717.39 L686.00,716.52 L686.00,715.78 L686.00,715.20 Z" fill="#4DB1CC" stroke="#111111" stroke-width="1.3" stroke-linejoin="round"/>
<line x1="544.40" y1="789.40" x2="544.40" y2="852.00" stroke="#1a1a1a" stroke-width="1.0"/>
<line x1="544.40" y1="898.50" x2="544.40" y2="945.00" stroke="#1a1a1a" stroke-width="1.0"/>
<rect x="530.10" y="852.00" width="28.60" height="46.50" fill="#ffffff" stroke="#1a1a1a" stroke-width="1.0"/>
<line x1="530.10" y1="882.90" x2="558.70" y2="882.90" stroke="#1a1a1a" stroke-width="1.6"/>
<line x1="686.00" y1="757.20" x2="686.00" y2="820.70" stroke="#1a1a1a" stroke-width="1.0"/>
<line x1="686.00" y1="882.90" x2="686.00" y2="914.60" stroke="#1a1a1a" stroke-width="1.0"/>
<rect x="672.00" y="820.70" width="28.00" height="62.20" fill="#ffffff" stroke="#1a1a1a" stroke-width="1.0"/>
<line x1="672.00" y1="851.60" x2="700.00" y2="851.60" stroke="#1a1a1a" stroke-width="1.6"/>
<circle cx="544.00" cy="757.60" r="2.10" fill="#111"/>
<polyline points="544.40,752.60 544.40,747.60 686.00,747.60 686.00,752.60" fill="none" stroke="#555" stroke-width="1.0"/>
<text transform="translate(617.00,745.16) scale(1.030,1.090)" font-size="10.80" text-anchor="middle" font-weight="bold" fill="#222">0.0011</text>
<line x1="843.30" y1="685.50" x2="843.30" y2="1015.60" stroke="#111111" stroke-width="1.6"/>
<line x1="842.70" y1="1015.00" x2="1155.50" y2="1015.00" stroke="#111111" stroke-width="1.6"/>
<line x1="839.80" y1="760.10" x2="843.30" y2="760.10" stroke="#111111" stroke-width="0.9"/>
<text transform="translate(841.30,765.44) scale(1.030,1.090)" font-size="14.20" text-anchor="end" fill="#3A3A3A">10.0</text>
<line x1="839.80" y1="836.20" x2="843.30" y2="836.20" stroke="#111111" stroke-width="0.9"/>
<text transform="translate(841.30,841.54) scale(1.030,1.090)" font-size="14.20" text-anchor="end" fill="#3A3A3A">7.5</text>
<line x1="839.80" y1="912.40" x2="843.30" y2="912.40" stroke="#111111" stroke-width="0.9"/>
<text transform="translate(841.30,917.74) scale(1.030,1.090)" font-size="14.20" text-anchor="end" fill="#3A3A3A">5.0</text>
<line x1="839.80" y1="988.20" x2="843.30" y2="988.20" stroke="#111111" stroke-width="0.9"/>
<text transform="translate(841.30,993.54) scale(1.030,1.090)" font-size="14.20" text-anchor="end" fill="#3A3A3A">2.5</text>
<line x1="928.70" y1="1015.00" x2="928.70" y2="1019.00" stroke="#111111" stroke-width="0.9"/>
<line x1="1070.60" y1="1015.00" x2="1070.60" y2="1019.00" stroke="#111111" stroke-width="0.9"/>
<text transform="translate(938.70,1036.94) scale(1.030,1.090)" font-size="14.20" text-anchor="middle" fill="#222">High-Score</text>
<text transform="translate(1080.60,1036.94) scale(1.030,1.090)" font-size="14.20" text-anchor="middle" fill="#222">Low-Score</text>
<text transform="translate(1007.30,1067.60) scale(1.030,1.090)" font-size="21.00" text-anchor="middle" fill="#111">MHPS</text>
<text transform="translate(812.35,847.70) rotate(-90) scale(1.030,1.090)" font-size="21.40" text-anchor="middle" fill="#111">ips_ctla4_neg_pd1_pos</text>
<text transform="translate(1094.20,701.64) scale(1.030,1.090)" font-size="17.40" fill="#000">MHPS</text>
<rect x="1094.20" y="707.20" width="12.20" height="11.00" fill="#DB4A35" stroke="#1a1a1a" stroke-width="1.2"/>
<rect x="1094.20" y="718.20" width="12.20" height="11.00" fill="#4DB1CC" stroke="#1a1a1a" stroke-width="1.2"/>
<text transform="translate(1109.50,716.76) scale(1.030,1.090)" font-size="14.00" fill="#111">High-Score</text>
<text transform="translate(1109.50,728.16) scale(1.030,1.090)" font-size="14.00" fill="#111">Low-Score</text>
<path d="M928.70,698.00 L928.70,698.71 L928.70,699.63 L928.70,700.71 L928.70,701.93 L928.70,703.24 L928.70,704.61 L928.71,706.01 L928.73,707.40 L928.76,708.74 L928.80,710.00 L928.86,711.17 L928.93,712.28 L929.01,713.36 L929.11,714.42 L929.21,715.51 L929.31,716.65 L929.41,717.86 L929.51,719.17 L929.61,720.61 L929.70,722.20 L929.77,723.98 L929.81,725.95 L929.83,728.05 L929.85,730.27 L929.88,732.54 L929.92,734.85 L929.99,737.15 L930.10,739.40 L930.27,741.56 L930.50,743.60 L930.79,745.53 L931.14,747.40 L931.52,749.23 L931.95,751.01 L932.41,752.77 L932.90,754.51 L933.41,756.24 L933.93,757.98 L934.46,759.73 L935.00,761.50 L935.54,763.29 L936.09,765.08 L936.65,766.87 L937.22,768.66 L937.82,770.45 L938.44,772.24 L939.08,774.03 L939.75,775.82 L940.46,777.61 L941.20,779.40 L942.00,781.19 L942.85,782.98 L943.75,784.77 L944.69,786.56 L945.64,788.35 L946.60,790.14 L947.55,791.93 L948.48,793.72 L949.36,795.51 L950.20,797.30 L950.99,799.09 L951.77,800.88 L952.52,802.67 L953.26,804.46 L953.98,806.26 L954.67,808.05 L955.35,809.84 L956.02,811.63 L956.67,813.41 L957.30,815.20 L957.93,816.98 L958.55,818.76 L959.16,820.54 L959.76,822.32 L960.33,824.10 L960.88,825.88 L961.40,827.66 L961.88,829.44 L962.31,831.22 L962.70,833.00 L963.04,834.79 L963.35,836.57 L963.62,838.36 L963.85,840.15 L964.05,841.94 L964.21,843.74 L964.34,845.53 L964.43,847.32 L964.48,849.11 L964.50,850.90 L964.50,852.69 L964.50,854.48 L964.48,856.27 L964.43,858.06 L964.33,859.85 L964.18,861.64 L963.95,863.43 L963.64,865.22 L963.22,867.01 L962.70,868.80 L962.03,870.59 L961.22,872.38 L960.29,874.17 L959.28,875.96 L958.19,877.75 L957.08,879.54 L955.95,881.33 L954.85,883.12 L953.79,884.91 L952.80,886.70 L951.87,888.49 L950.94,890.28 L950.03,892.07 L949.12,893.86 L948.23,895.66 L947.35,897.45 L946.47,899.24 L945.61,901.03 L944.75,902.81 L943.90,904.60 L943.05,906.38 L942.20,908.16 L941.35,909.94 L940.51,911.72 L939.68,913.50 L938.87,915.28 L938.08,917.06 L937.32,918.84 L936.59,920.62 L935.90,922.40 L935.24,924.23 L934.59,926.12 L933.97,928.04 L933.38,929.98 L932.81,931.90 L932.27,933.78 L931.77,935.58 L931.30,937.29 L930.88,938.87 L930.50,940.30 L930.17,941.55 L929.90,942.64 L929.66,943.60 L929.47,944.46 L929.31,945.25 L929.18,946.00 L929.07,946.76 L928.97,947.53 L928.88,948.37 L928.80,949.30 L928.73,950.29 L928.70,951.30 L928.70,952.33 L928.70,953.37 L928.70,954.43 L928.73,955.51 L928.75,956.60 L928.78,957.72 L928.80,958.85 L928.80,960.00 L928.79,961.23 L928.78,962.58 L928.77,964.01 L928.76,965.47 L928.75,966.92 L928.74,968.31 L928.73,969.61 L928.72,970.77 L928.71,971.75 L928.70,972.50 L928.70,972.50 L928.69,971.75 L928.68,970.77 L928.67,969.61 L928.66,968.31 L928.65,966.92 L928.64,965.47 L928.63,964.01 L928.62,962.58 L928.61,961.23 L928.60,960.00 L928.60,958.85 L928.62,957.72 L928.65,956.60 L928.67,955.51 L928.70,954.43 L928.70,953.37 L928.70,952.33 L928.70,951.30 L928.67,950.29 L928.60,949.30 L928.52,948.37 L928.43,947.53 L928.33,946.76 L928.22,946.00 L928.09,945.25 L927.93,944.46 L927.74,943.60 L927.50,942.64 L927.23,941.55 L926.90,940.30 L926.52,938.87 L926.10,937.29 L925.63,935.58 L925.13,933.78 L924.59,931.90 L924.02,929.98 L923.43,928.04 L922.81,926.12 L922.16,924.23 L921.50,922.40 L920.81,920.62 L920.08,918.84 L919.32,917.06 L918.53,915.28 L917.72,913.50 L916.89,911.72 L916.05,909.94 L915.20,908.16 L914.35,906.38 L913.50,904.60 L912.65,902.81 L911.79,901.03 L910.93,899.24 L910.05,897.45 L909.17,895.66 L908.28,893.86 L907.37,892.07 L906.46,890.28 L905.53,888.49 L904.60,886.70 L903.61,884.91 L902.55,883.12 L901.45,881.33 L900.32,879.54 L899.21,877.75 L898.12,875.96 L897.11,874.17 L896.18,872.38 L895.37,870.59 L894.70,868.80 L894.18,867.01 L893.76,865.22 L893.45,863.43 L893.22,861.64 L893.07,859.85 L892.97,858.06 L892.92,856.27 L892.90,854.48 L892.90,852.69 L892.90,850.90 L892.92,849.11 L892.97,847.32 L893.06,845.53 L893.19,843.74 L893.35,841.94 L893.55,840.15 L893.78,838.36 L894.05,836.57 L894.36,834.79 L894.70,833.00 L895.09,831.22 L895.52,829.44 L896.00,827.66 L896.52,825.88 L897.07,824.10 L897.64,822.32 L898.24,820.54 L898.85,818.76 L899.47,816.98 L900.10,815.20 L900.73,813.41 L901.38,811.63 L902.05,809.84 L902.73,808.05 L903.43,806.26 L904.14,804.46 L904.88,802.67 L905.63,800.88 L906.41,799.09 L907.20,797.30 L908.04,795.51 L908.92,793.72 L909.85,791.93 L910.80,790.14 L911.76,788.35 L912.71,786.56 L913.65,784.77 L914.55,782.98 L915.40,781.19 L916.20,779.40 L916.94,777.61 L917.65,775.82 L918.32,774.03 L918.96,772.24 L919.58,770.45 L920.18,768.66 L920.75,766.87 L921.31,765.08 L921.86,763.29 L922.40,761.50 L922.94,759.73 L923.47,757.98 L923.99,756.24 L924.50,754.51 L924.99,752.77 L925.45,751.01 L925.88,749.23 L926.26,747.40 L926.61,745.53 L926.90,743.60 L927.13,741.56 L927.30,739.40 L927.41,737.15 L927.48,734.85 L927.53,732.54 L927.55,730.27 L927.57,728.05 L927.59,725.95 L927.63,723.98 L927.70,722.20 L927.79,720.61 L927.89,719.17 L927.99,717.86 L928.09,716.65 L928.19,715.51 L928.29,714.42 L928.39,713.36 L928.47,712.28 L928.54,711.17 L928.60,710.00 L928.64,708.74 L928.67,707.40 L928.69,706.01 L928.70,704.61 L928.70,703.24 L928.70,701.93 L928.70,700.71 L928.70,699.63 L928.70,698.71 L928.70,698.00 Z" fill="#DB4A35" stroke="#111111" stroke-width="1.3" stroke-linejoin="round"/>
<path d="M1070.60,733.80 L1070.65,734.39 L1070.72,735.15 L1070.79,736.04 L1070.87,737.05 L1070.96,738.14 L1071.07,739.27 L1071.18,740.41 L1071.31,741.53 L1071.45,742.61 L1071.60,743.60 L1071.78,744.53 L1071.98,745.45 L1072.21,746.36 L1072.46,747.26 L1072.71,748.16 L1072.96,749.05 L1073.20,749.93 L1073.42,750.82 L1073.63,751.71 L1073.80,752.60 L1073.93,753.49 L1074.03,754.36 L1074.11,755.22 L1074.17,756.08 L1074.22,756.94 L1074.27,757.82 L1074.34,758.70 L1074.43,759.61 L1074.54,760.54 L1074.70,761.50 L1074.88,762.50 L1075.05,763.55 L1075.24,764.63 L1075.44,765.73 L1075.66,766.84 L1075.92,767.96 L1076.21,769.06 L1076.55,770.14 L1076.94,771.19 L1077.40,772.20 L1077.94,773.17 L1078.56,774.11 L1079.25,775.03 L1079.99,775.93 L1080.76,776.81 L1081.54,777.69 L1082.33,778.56 L1083.09,779.43 L1083.82,780.31 L1084.50,781.20 L1085.18,782.09 L1085.90,782.98 L1086.64,783.87 L1087.38,784.76 L1088.09,785.65 L1088.75,786.54 L1089.32,787.43 L1089.79,788.32 L1090.12,789.21 L1090.30,790.10 L1090.21,791.00 L1089.81,791.90 L1089.19,792.80 L1088.44,793.70 L1087.66,794.60 L1086.92,795.50 L1086.33,796.40 L1085.97,797.30 L1085.93,798.20 L1086.30,799.10 L1087.03,799.99 L1088.00,800.88 L1089.20,801.77 L1090.61,802.66 L1092.20,803.55 L1093.97,804.44 L1095.89,805.33 L1097.94,806.22 L1100.12,807.11 L1102.40,808.00 L1104.96,808.92 L1107.92,809.88 L1111.17,810.87 L1114.60,811.86 L1118.10,812.84 L1121.56,813.79 L1124.87,814.70 L1127.92,815.55 L1130.60,816.32 L1132.80,817.00 L1134.59,817.56 L1136.11,818.02 L1137.38,818.39 L1138.42,818.70 L1139.26,818.98 L1139.90,819.23 L1140.36,819.48 L1140.67,819.77 L1140.85,820.10 L1140.90,820.50 L1140.85,820.95 L1140.67,821.40 L1140.36,821.87 L1139.90,822.36 L1139.26,822.86 L1138.42,823.40 L1137.38,823.96 L1136.11,824.57 L1134.59,825.21 L1132.80,825.90 L1130.53,826.66 L1127.69,827.48 L1124.42,828.37 L1120.87,829.29 L1117.21,830.24 L1113.57,831.19 L1110.12,832.14 L1107.01,833.07 L1104.38,833.96 L1102.40,834.80 L1100.97,835.58 L1099.88,836.32 L1099.11,837.03 L1098.63,837.72 L1098.42,838.40 L1098.46,839.08 L1098.72,839.77 L1099.18,840.48 L1099.82,841.22 L1100.60,842.00 L1101.78,842.83 L1103.53,843.70 L1105.68,844.60 L1108.10,845.52 L1110.61,846.45 L1113.08,847.38 L1115.35,848.30 L1117.26,849.20 L1118.66,850.07 L1119.40,850.90 L1119.49,851.68 L1119.10,852.42 L1118.30,853.13 L1117.16,853.82 L1115.78,854.50 L1114.22,855.18 L1112.57,855.87 L1110.89,856.58 L1109.28,857.32 L1107.80,858.10 L1106.29,858.93 L1104.58,859.80 L1102.73,860.70 L1100.82,861.62 L1098.91,862.55 L1097.06,863.48 L1095.35,864.40 L1093.84,865.30 L1092.60,866.17 L1091.70,867.00 L1091.12,867.79 L1090.77,868.55 L1090.64,869.29 L1090.70,870.01 L1090.92,870.71 L1091.28,871.41 L1091.76,872.10 L1092.32,872.79 L1092.94,873.49 L1093.60,874.20 L1094.46,874.91 L1095.63,875.62 L1097.02,876.33 L1098.53,877.04 L1100.08,877.75 L1101.57,878.46 L1102.91,879.17 L1104.01,879.88 L1104.77,880.59 L1105.10,881.30 L1105.02,882.02 L1104.63,882.74 L1103.98,883.46 L1103.10,884.18 L1102.04,884.90 L1100.83,885.62 L1099.51,886.34 L1098.12,887.06 L1096.70,887.78 L1095.30,888.50 L1093.78,889.21 L1092.02,889.90 L1090.09,890.58 L1088.06,891.26 L1085.99,891.94 L1083.96,892.63 L1082.01,893.33 L1080.23,894.06 L1078.67,894.81 L1077.40,895.60 L1076.41,896.42 L1075.64,897.28 L1075.04,898.16 L1074.59,899.07 L1074.26,899.99 L1074.01,900.92 L1073.82,901.85 L1073.66,902.78 L1073.50,903.70 L1073.30,904.60 L1073.11,905.49 L1072.99,906.39 L1072.92,907.28 L1072.90,908.17 L1072.90,909.06 L1072.92,909.94 L1072.94,910.83 L1072.95,911.72 L1072.94,912.61 L1072.90,913.50 L1072.83,914.37 L1072.76,915.19 L1072.68,916.00 L1072.60,916.80 L1072.51,917.61 L1072.42,918.45 L1072.32,919.33 L1072.22,920.27 L1072.11,921.29 L1072.00,922.40 L1071.87,923.68 L1071.73,925.14 L1071.57,926.74 L1071.41,928.42 L1071.24,930.11 L1071.08,931.75 L1070.93,933.29 L1070.80,934.67 L1070.69,935.82 L1070.60,936.70 L1070.60,936.70 L1070.51,935.82 L1070.40,934.67 L1070.27,933.29 L1070.12,931.75 L1069.96,930.11 L1069.79,928.42 L1069.63,926.74 L1069.47,925.14 L1069.33,923.68 L1069.20,922.40 L1069.09,921.29 L1068.98,920.27 L1068.88,919.33 L1068.78,918.45 L1068.69,917.61 L1068.60,916.80 L1068.52,916.00 L1068.44,915.19 L1068.37,914.37 L1068.30,913.50 L1068.26,912.61 L1068.25,911.72 L1068.26,910.83 L1068.28,909.94 L1068.30,909.06 L1068.30,908.17 L1068.28,907.28 L1068.21,906.39 L1068.09,905.49 L1067.90,904.60 L1067.70,903.70 L1067.54,902.78 L1067.38,901.85 L1067.19,900.92 L1066.94,899.99 L1066.61,899.07 L1066.16,898.16 L1065.56,897.28 L1064.79,896.42 L1063.80,895.60 L1062.53,894.81 L1060.97,894.06 L1059.19,893.33 L1057.24,892.63 L1055.21,891.94 L1053.14,891.26 L1051.11,890.58 L1049.18,889.90 L1047.42,889.21 L1045.90,888.50 L1044.50,887.78 L1043.08,887.06 L1041.69,886.34 L1040.37,885.62 L1039.16,884.90 L1038.10,884.18 L1037.22,883.46 L1036.57,882.74 L1036.18,882.02 L1036.10,881.30 L1036.43,880.59 L1037.19,879.88 L1038.29,879.17 L1039.63,878.46 L1041.12,877.75 L1042.67,877.04 L1044.18,876.33 L1045.57,875.62 L1046.74,874.91 L1047.60,874.20 L1048.26,873.49 L1048.88,872.79 L1049.44,872.10 L1049.92,871.41 L1050.27,870.71 L1050.50,870.01 L1050.56,869.29 L1050.43,868.55 L1050.08,867.79 L1049.50,867.00 L1048.60,866.17 L1047.36,865.30 L1045.85,864.40 L1044.14,863.48 L1042.29,862.55 L1040.38,861.62 L1038.47,860.70 L1036.62,859.80 L1034.91,858.93 L1033.40,858.10 L1031.92,857.32 L1030.31,856.58 L1028.63,855.87 L1026.98,855.18 L1025.42,854.50 L1024.04,853.82 L1022.90,853.13 L1022.10,852.42 L1021.71,851.68 L1021.80,850.90 L1022.54,850.07 L1023.94,849.20 L1025.85,848.30 L1028.12,847.38 L1030.59,846.45 L1033.10,845.52 L1035.52,844.60 L1037.67,843.70 L1039.42,842.83 L1040.60,842.00 L1041.38,841.22 L1042.02,840.48 L1042.47,839.77 L1042.74,839.08 L1042.77,838.40 L1042.57,837.72 L1042.09,837.03 L1041.32,836.32 L1040.23,835.58 L1038.80,834.80 L1036.82,833.96 L1034.19,833.07 L1031.08,832.14 L1027.63,831.19 L1023.99,830.24 L1020.33,829.29 L1016.78,828.37 L1013.51,827.48 L1010.67,826.66 L1008.40,825.90 L1006.61,825.21 L1005.09,824.57 L1003.82,823.96 L1002.78,823.40 L1001.94,822.86 L1001.30,822.36 L1000.84,821.87 L1000.53,821.40 L1000.35,820.95 L1000.30,820.50 L1000.35,820.10 L1000.53,819.77 L1000.84,819.48 L1001.30,819.23 L1001.94,818.98 L1002.78,818.70 L1003.82,818.39 L1005.09,818.02 L1006.61,817.56 L1008.40,817.00 L1010.60,816.32 L1013.28,815.55 L1016.33,814.70 L1019.64,813.79 L1023.10,812.84 L1026.60,811.86 L1030.03,810.87 L1033.28,809.88 L1036.24,808.92 L1038.80,808.00 L1041.08,807.11 L1043.26,806.22 L1045.31,805.33 L1047.23,804.44 L1049.00,803.55 L1050.59,802.66 L1052.00,801.77 L1053.20,800.88 L1054.17,799.99 L1054.90,799.10 L1055.27,798.20 L1055.23,797.30 L1054.87,796.40 L1054.28,795.50 L1053.54,794.60 L1052.76,793.70 L1052.01,792.80 L1051.39,791.90 L1050.99,791.00 L1050.90,790.10 L1051.08,789.21 L1051.41,788.32 L1051.88,787.43 L1052.45,786.54 L1053.11,785.65 L1053.82,784.76 L1054.56,783.87 L1055.30,782.98 L1056.02,782.09 L1056.70,781.20 L1057.38,780.31 L1058.11,779.43 L1058.87,778.56 L1059.66,777.69 L1060.44,776.81 L1061.21,775.93 L1061.95,775.03 L1062.64,774.11 L1063.26,773.17 L1063.80,772.20 L1064.26,771.19 L1064.65,770.14 L1064.99,769.06 L1065.28,767.96 L1065.54,766.84 L1065.76,765.73 L1065.96,764.63 L1066.15,763.55 L1066.32,762.50 L1066.50,761.50 L1066.66,760.54 L1066.77,759.61 L1066.86,758.70 L1066.93,757.82 L1066.98,756.94 L1067.03,756.08 L1067.09,755.22 L1067.17,754.36 L1067.27,753.49 L1067.40,752.60 L1067.57,751.71 L1067.78,750.82 L1068.00,749.93 L1068.24,749.05 L1068.49,748.16 L1068.74,747.26 L1068.99,746.36 L1069.22,745.45 L1069.42,744.53 L1069.60,743.60 L1069.75,742.61 L1069.89,741.53 L1070.02,740.41 L1070.13,739.27 L1070.24,738.14 L1070.33,737.05 L1070.41,736.04 L1070.48,735.15 L1070.55,734.39 L1070.60,733.80 Z" fill="#4DB1CC" stroke="#111111" stroke-width="1.3" stroke-linejoin="round"/>
<line x1="928.70" y1="745.00" x2="928.70" y2="805.90" stroke="#1a1a1a" stroke-width="1.0"/>
<line x1="928.70" y1="866.10" x2="928.70" y2="926.90" stroke="#1a1a1a" stroke-width="1.0"/>
<rect x="914.40" y="805.90" width="28.60" height="60.20" fill="#ffffff" stroke="#1a1a1a" stroke-width="1.0"/>
<line x1="914.40" y1="836.10" x2="943.00" y2="836.10" stroke="#1a1a1a" stroke-width="1.6"/>
<line x1="1070.60" y1="790.10" x2="1070.60" y2="820.50" stroke="#1a1a1a" stroke-width="1.0"/>
<line x1="1070.60" y1="850.00" x2="1070.60" y2="880.40" stroke="#1a1a1a" stroke-width="1.0"/>
<rect x="1056.70" y="820.50" width="27.80" height="29.50" fill="#ffffff" stroke="#1a1a1a" stroke-width="1.0"/>
<line x1="1056.70" y1="820.50" x2="1084.50" y2="820.50" stroke="#1a1a1a" stroke-width="1.6"/>
<circle cx="1070.60" cy="759.40" r="2.10" fill="#111"/>
<circle cx="1070.60" cy="911.20" r="2.10" fill="#111"/>
<polyline points="928.70,755.00 928.70,750.00 1070.60,750.00 1070.60,755.00" fill="none" stroke="#555" stroke-width="1.0"/>
<text transform="translate(995.80,747.56) scale(1.030,1.090)" font-size="10.80" text-anchor="middle" font-weight="bold" fill="#222">0.051</text>
<line x1="1222.70" y1="686.80" x2="1222.70" y2="1016.90" stroke="#111111" stroke-width="1.6"/>
<line x1="1222.10" y1="1016.30" x2="1542.00" y2="1016.30" stroke="#111111" stroke-width="1.6"/>
<line x1="1219.20" y1="758.30" x2="1222.70" y2="758.30" stroke="#111111" stroke-width="0.9"/>
<text transform="translate(1220.70,763.64) scale(1.030,1.090)" font-size="14.20" text-anchor="end" fill="#3A3A3A">10</text>
<line x1="1219.20" y1="836.20" x2="1222.70" y2="836.20" stroke="#111111" stroke-width="0.9"/>
<text transform="translate(1220.70,841.54) scale(1.030,1.090)" font-size="14.20" text-anchor="end" fill="#3A3A3A">8</text>
<line x1="1219.20" y1="914.70" x2="1222.70" y2="914.70" stroke="#111111" stroke-width="0.9"/>
<text transform="translate(1220.70,920.04) scale(1.030,1.090)" font-size="14.20" text-anchor="end" fill="#3A3A3A">6</text>
<line x1="1219.20" y1="993.30" x2="1222.70" y2="993.30" stroke="#111111" stroke-width="0.9"/>
<text transform="translate(1220.70,998.64) scale(1.030,1.090)" font-size="14.20" text-anchor="end" fill="#3A3A3A">4</text>
<line x1="1309.70" y1="1016.30" x2="1309.70" y2="1020.30" stroke="#111111" stroke-width="0.9"/>
<line x1="1454.70" y1="1016.30" x2="1454.70" y2="1020.30" stroke="#111111" stroke-width="0.9"/>
<text transform="translate(1319.70,1039.04) scale(1.030,1.090)" font-size="14.20" text-anchor="middle" fill="#222">High-Score</text>
<text transform="translate(1464.70,1039.04) scale(1.030,1.090)" font-size="14.20" text-anchor="middle" fill="#222">Low-Score</text>
<text transform="translate(1395.90,1072.80) scale(1.030,1.090)" font-size="21.00" text-anchor="middle" fill="#111">MHPS</text>
<text transform="translate(1198.35,848.00) rotate(-90) scale(1.030,1.090)" font-size="21.40" text-anchor="middle" fill="#111">ips_ctla4_pos_pd1_neg</text>
<text transform="translate(1479.70,701.64) scale(1.030,1.090)" font-size="17.40" fill="#000">MHPS</text>
<rect x="1479.70" y="708.50" width="12.20" height="11.30" fill="#DB4A35" stroke="#1a1a1a" stroke-width="1.2"/>
<rect x="1479.70" y="719.80" width="12.20" height="11.30" fill="#4DB1CC" stroke="#1a1a1a" stroke-width="1.2"/>
<text transform="translate(1495.00,718.21) scale(1.030,1.090)" font-size="14.00" fill="#111">High-Score</text>
<text transform="translate(1495.00,729.91) scale(1.030,1.090)" font-size="14.00" fill="#111">Low-Score</text>
<path d="M1309.70,761.30 L1309.80,761.74 L1309.91,762.29 L1310.03,762.92 L1310.17,763.64 L1310.33,764.43 L1310.53,765.28 L1310.77,766.17 L1311.05,767.09 L1311.39,768.04 L1311.80,769.00 L1312.28,770.00 L1312.83,771.06 L1313.44,772.17 L1314.10,773.33 L1314.80,774.51 L1315.53,775.72 L1316.27,776.93 L1317.02,778.14 L1317.77,779.33 L1318.50,780.50 L1319.26,781.66 L1320.08,782.83 L1320.95,784.01 L1321.83,785.20 L1322.71,786.38 L1323.56,787.54 L1324.36,788.70 L1325.08,789.83 L1325.70,790.93 L1326.20,792.00 L1326.58,793.02 L1326.87,794.00 L1327.09,794.93 L1327.23,795.85 L1327.31,796.75 L1327.33,797.65 L1327.32,798.57 L1327.27,799.50 L1327.19,800.48 L1327.10,801.50 L1326.88,802.58 L1326.46,803.70 L1325.90,804.86 L1325.29,806.05 L1324.68,807.24 L1324.16,808.44 L1323.79,809.63 L1323.64,810.79 L1323.79,811.92 L1324.30,813.00 L1325.20,814.03 L1326.43,815.01 L1327.93,815.96 L1329.64,816.89 L1331.53,817.80 L1333.52,818.71 L1335.56,819.64 L1337.61,820.59 L1339.61,821.57 L1341.50,822.60 L1343.43,823.70 L1345.52,824.87 L1347.72,826.09 L1349.96,827.34 L1352.17,828.59 L1354.31,829.83 L1356.29,831.02 L1358.06,832.14 L1359.55,833.18 L1360.70,834.10 L1361.56,834.89 L1362.21,835.55 L1362.66,836.11 L1362.91,836.61 L1362.98,837.07 L1362.87,837.52 L1362.58,837.99 L1362.11,838.50 L1361.49,839.10 L1360.70,839.80 L1359.61,840.62 L1358.12,841.53 L1356.33,842.51 L1354.33,843.54 L1352.23,844.59 L1350.11,845.65 L1348.08,846.68 L1346.22,847.66 L1344.62,848.58 L1343.40,849.40 L1342.41,850.12 L1341.50,850.74 L1340.68,851.30 L1340.00,851.81 L1339.49,852.30 L1339.17,852.79 L1339.08,853.30 L1339.25,853.86 L1339.71,854.48 L1340.50,855.20 L1341.71,856.01 L1343.36,856.88 L1345.37,857.80 L1347.66,858.77 L1350.15,859.77 L1352.75,860.78 L1355.37,861.81 L1357.95,862.83 L1360.38,863.83 L1362.60,864.80 L1364.82,865.75 L1367.26,866.70 L1369.81,867.65 L1372.37,868.60 L1374.83,869.55 L1377.10,870.50 L1379.06,871.45 L1380.62,872.40 L1381.66,873.35 L1382.10,874.30 L1381.91,875.25 L1381.19,876.18 L1380.02,877.11 L1378.45,878.04 L1376.56,878.97 L1374.40,879.92 L1372.05,880.88 L1369.57,881.86 L1367.03,882.86 L1364.50,883.90 L1361.72,884.99 L1358.48,886.14 L1354.92,887.33 L1351.16,888.55 L1347.34,889.77 L1343.59,890.98 L1340.04,892.17 L1336.82,893.31 L1334.06,894.40 L1331.90,895.40 L1330.32,896.32 L1329.19,897.15 L1328.43,897.93 L1327.98,898.67 L1327.78,899.38 L1327.76,900.07 L1327.84,900.78 L1327.97,901.51 L1328.08,902.27 L1328.10,903.10 L1328.15,903.98 L1328.37,904.88 L1328.72,905.81 L1329.15,906.77 L1329.61,907.73 L1330.07,908.71 L1330.48,909.69 L1330.81,910.66 L1330.99,911.64 L1331.00,912.60 L1330.86,913.56 L1330.63,914.51 L1330.31,915.47 L1329.91,916.43 L1329.44,917.39 L1328.91,918.36 L1328.31,919.32 L1327.65,920.28 L1326.95,921.24 L1326.20,922.20 L1325.34,923.16 L1324.32,924.12 L1323.19,925.08 L1321.99,926.04 L1320.76,927.00 L1319.54,927.96 L1318.37,928.92 L1317.29,929.88 L1316.36,930.84 L1315.60,931.80 L1315.01,932.75 L1314.55,933.69 L1314.19,934.62 L1313.91,935.55 L1313.71,936.48 L1313.55,937.42 L1313.43,938.38 L1313.33,939.36 L1313.22,940.36 L1313.10,941.40 L1312.98,942.47 L1312.91,943.58 L1312.87,944.71 L1312.86,945.86 L1312.86,947.03 L1312.86,948.21 L1312.87,949.39 L1312.87,950.57 L1312.85,951.74 L1312.80,952.90 L1312.73,954.06 L1312.65,955.23 L1312.55,956.41 L1312.46,957.59 L1312.35,958.77 L1312.24,959.94 L1312.13,961.09 L1312.02,962.22 L1311.91,963.33 L1311.80,964.40 L1311.69,965.42 L1311.58,966.37 L1311.47,967.27 L1311.36,968.15 L1311.25,969.02 L1311.14,969.91 L1311.03,970.83 L1310.92,971.81 L1310.81,972.86 L1310.70,974.00 L1310.59,975.30 L1310.48,976.79 L1310.36,978.40 L1310.24,980.07 L1310.13,981.75 L1310.02,983.38 L1309.92,984.91 L1309.83,986.28 L1309.76,987.43 L1309.70,988.30 L1309.70,988.30 L1309.64,987.43 L1309.57,986.28 L1309.48,984.91 L1309.38,983.38 L1309.27,981.75 L1309.16,980.07 L1309.04,978.40 L1308.92,976.79 L1308.81,975.30 L1308.70,974.00 L1308.59,972.86 L1308.48,971.81 L1308.37,970.83 L1308.26,969.91 L1308.15,969.02 L1308.04,968.15 L1307.93,967.27 L1307.82,966.37 L1307.71,965.42 L1307.60,964.40 L1307.49,963.33 L1307.38,962.22 L1307.27,961.09 L1307.16,959.94 L1307.05,958.77 L1306.94,957.59 L1306.85,956.41 L1306.75,955.23 L1306.67,954.06 L1306.60,952.90 L1306.55,951.74 L1306.53,950.57 L1306.53,949.39 L1306.54,948.21 L1306.54,947.03 L1306.54,945.86 L1306.53,944.71 L1306.49,943.58 L1306.42,942.47 L1306.30,941.40 L1306.18,940.36 L1306.07,939.36 L1305.97,938.38 L1305.85,937.42 L1305.69,936.48 L1305.49,935.55 L1305.21,934.62 L1304.85,933.69 L1304.39,932.75 L1303.80,931.80 L1303.04,930.84 L1302.11,929.88 L1301.03,928.92 L1299.86,927.96 L1298.64,927.00 L1297.41,926.04 L1296.21,925.08 L1295.08,924.12 L1294.06,923.16 L1293.20,922.20 L1292.45,921.24 L1291.75,920.28 L1291.09,919.32 L1290.49,918.36 L1289.96,917.39 L1289.49,916.43 L1289.09,915.47 L1288.77,914.51 L1288.54,913.56 L1288.40,912.60 L1288.41,911.64 L1288.59,910.66 L1288.92,909.69 L1289.33,908.71 L1289.79,907.73 L1290.25,906.77 L1290.68,905.81 L1291.03,904.88 L1291.25,903.98 L1291.30,903.10 L1291.32,902.27 L1291.43,901.51 L1291.56,900.78 L1291.64,900.07 L1291.62,899.38 L1291.42,898.67 L1290.97,897.93 L1290.21,897.15 L1289.08,896.32 L1287.50,895.40 L1285.34,894.40 L1282.58,893.31 L1279.36,892.17 L1275.81,890.98 L1272.06,889.77 L1268.24,888.55 L1264.48,887.33 L1260.92,886.14 L1257.68,884.99 L1254.90,883.90 L1252.37,882.86 L1249.83,881.86 L1247.35,880.88 L1245.00,879.92 L1242.84,878.97 L1240.95,878.04 L1239.38,877.11 L1238.21,876.18 L1237.49,875.25 L1237.30,874.30 L1237.74,873.35 L1238.78,872.40 L1240.34,871.45 L1242.30,870.50 L1244.57,869.55 L1247.03,868.60 L1249.59,867.65 L1252.14,866.70 L1254.58,865.75 L1256.80,864.80 L1259.02,863.83 L1261.45,862.83 L1264.03,861.81 L1266.65,860.78 L1269.25,859.77 L1271.74,858.77 L1274.03,857.80 L1276.04,856.88 L1277.69,856.01 L1278.90,855.20 L1279.69,854.48 L1280.15,853.86 L1280.32,853.30 L1280.23,852.79 L1279.91,852.30 L1279.40,851.81 L1278.72,851.30 L1277.90,850.74 L1276.99,850.12 L1276.00,849.40 L1274.78,848.58 L1273.18,847.66 L1271.32,846.68 L1269.29,845.65 L1267.17,844.59 L1265.07,843.54 L1263.07,842.51 L1261.28,841.53 L1259.79,840.62 L1258.70,839.80 L1257.91,839.10 L1257.29,838.50 L1256.82,837.99 L1256.53,837.52 L1256.42,837.07 L1256.49,836.61 L1256.74,836.11 L1257.19,835.55 L1257.84,834.89 L1258.70,834.10 L1259.85,833.18 L1261.34,832.14 L1263.11,831.02 L1265.09,829.83 L1267.23,828.59 L1269.44,827.34 L1271.68,826.09 L1273.88,824.87 L1275.97,823.70 L1277.90,822.60 L1279.79,821.57 L1281.79,820.59 L1283.84,819.64 L1285.88,818.71 L1287.88,817.80 L1289.76,816.89 L1291.47,815.96 L1292.97,815.01 L1294.20,814.03 L1295.10,813.00 L1295.61,811.92 L1295.76,810.79 L1295.61,809.63 L1295.24,808.44 L1294.72,807.24 L1294.11,806.05 L1293.50,804.86 L1292.94,803.70 L1292.52,802.58 L1292.30,801.50 L1292.21,800.48 L1292.13,799.50 L1292.08,798.57 L1292.07,797.65 L1292.09,796.75 L1292.17,795.85 L1292.31,794.93 L1292.53,794.00 L1292.82,793.02 L1293.20,792.00 L1293.70,790.93 L1294.32,789.83 L1295.04,788.70 L1295.84,787.54 L1296.69,786.38 L1297.57,785.20 L1298.45,784.01 L1299.32,782.83 L1300.14,781.66 L1300.90,780.50 L1301.63,779.33 L1302.38,778.14 L1303.13,776.93 L1303.87,775.72 L1304.60,774.51 L1305.30,773.33 L1305.96,772.17 L1306.57,771.06 L1307.12,770.00 L1307.60,769.00 L1308.01,768.04 L1308.35,767.09 L1308.63,766.17 L1308.87,765.28 L1309.07,764.43 L1309.23,763.64 L1309.37,762.92 L1309.49,762.29 L1309.60,761.74 L1309.70,761.30 Z" fill="#DB4A35" stroke="#111111" stroke-width="1.3" stroke-linejoin="round"/>
<path d="M1454.70,714.40 L1454.76,715.25 L1454.83,716.36 L1454.91,717.67 L1455.00,719.13 L1455.11,720.71 L1455.22,722.36 L1455.33,724.03 L1455.45,725.67 L1455.58,727.24 L1455.70,728.70 L1455.81,730.07 L1455.92,731.41 L1456.01,732.72 L1456.11,734.03 L1456.21,735.33 L1456.34,736.64 L1456.49,737.96 L1456.68,739.31 L1456.91,740.68 L1457.20,742.10 L1457.53,743.56 L1457.89,745.05 L1458.28,746.58 L1458.70,748.12 L1459.16,749.68 L1459.65,751.25 L1460.18,752.82 L1460.74,754.39 L1461.35,755.96 L1462.00,757.50 L1462.68,759.05 L1463.40,760.63 L1464.15,762.22 L1464.94,763.81 L1465.76,765.39 L1466.63,766.96 L1467.55,768.49 L1468.51,769.98 L1469.53,771.42 L1470.60,772.80 L1471.76,774.10 L1473.02,775.31 L1474.36,776.47 L1475.75,777.58 L1477.18,778.67 L1478.62,779.75 L1480.04,780.83 L1481.43,781.94 L1482.76,783.09 L1484.00,784.30 L1485.24,785.56 L1486.53,786.86 L1487.85,788.18 L1489.14,789.52 L1490.39,790.88 L1491.54,792.25 L1492.57,793.62 L1493.43,794.99 L1494.08,796.35 L1494.50,797.70 L1494.57,799.05 L1494.29,800.41 L1493.73,801.78 L1492.99,803.15 L1492.16,804.52 L1491.32,805.88 L1490.56,807.22 L1489.98,808.54 L1489.67,809.84 L1489.70,811.10 L1490.08,812.33 L1490.71,813.52 L1491.55,814.69 L1492.54,815.84 L1493.65,816.97 L1494.83,818.09 L1496.03,819.21 L1497.20,820.33 L1498.31,821.46 L1499.30,822.60 L1500.29,823.75 L1501.39,824.90 L1502.55,826.05 L1503.72,827.20 L1504.85,828.35 L1505.89,829.50 L1506.78,830.65 L1507.48,831.80 L1507.94,832.95 L1508.10,834.10 L1507.95,835.25 L1507.54,836.40 L1506.90,837.55 L1506.07,838.70 L1505.09,839.85 L1504.00,841.00 L1502.83,842.15 L1501.64,843.30 L1500.45,844.45 L1499.30,845.60 L1498.09,846.75 L1496.71,847.90 L1495.22,849.05 L1493.67,850.20 L1492.11,851.35 L1490.58,852.50 L1489.15,853.65 L1487.85,854.80 L1486.75,855.95 L1485.90,857.10 L1485.30,858.25 L1484.89,859.40 L1484.65,860.55 L1484.55,861.70 L1484.56,862.85 L1484.63,864.00 L1484.74,865.15 L1484.86,866.30 L1484.96,867.45 L1485.00,868.60 L1485.06,869.75 L1485.20,870.90 L1485.41,872.05 L1485.64,873.20 L1485.87,874.35 L1486.07,875.50 L1486.20,876.65 L1486.24,877.80 L1486.15,878.95 L1485.90,880.10 L1485.50,881.25 L1484.97,882.40 L1484.34,883.55 L1483.62,884.70 L1482.82,885.85 L1481.96,887.00 L1481.07,888.15 L1480.15,889.30 L1479.22,890.45 L1478.30,891.60 L1477.33,892.75 L1476.25,893.90 L1475.09,895.05 L1473.90,896.20 L1472.70,897.35 L1471.52,898.50 L1470.40,899.65 L1469.37,900.80 L1468.46,901.95 L1467.70,903.10 L1467.10,904.25 L1466.63,905.40 L1466.26,906.55 L1465.98,907.70 L1465.76,908.85 L1465.59,910.00 L1465.44,911.15 L1465.28,912.30 L1465.11,913.45 L1464.90,914.60 L1464.68,915.75 L1464.49,916.90 L1464.33,918.05 L1464.18,919.20 L1464.03,920.36 L1463.86,921.51 L1463.68,922.66 L1463.47,923.81 L1463.21,924.95 L1462.90,926.10 L1462.52,927.24 L1462.08,928.38 L1461.59,929.52 L1461.07,930.66 L1460.53,931.80 L1459.98,932.94 L1459.45,934.08 L1458.95,935.22 L1458.50,936.36 L1458.10,937.50 L1457.76,938.66 L1457.44,939.84 L1457.16,941.03 L1456.90,942.23 L1456.66,943.42 L1456.44,944.60 L1456.24,945.75 L1456.05,946.88 L1455.87,947.96 L1455.70,949.00 L1455.54,950.02 L1455.39,951.06 L1455.27,952.09 L1455.15,953.10 L1455.05,954.07 L1454.96,954.98 L1454.88,955.82 L1454.81,956.56 L1454.75,957.19 L1454.70,957.70 L1454.70,957.70 L1454.65,957.19 L1454.59,956.56 L1454.52,955.82 L1454.44,954.98 L1454.35,954.07 L1454.25,953.10 L1454.13,952.09 L1454.01,951.06 L1453.86,950.02 L1453.70,949.00 L1453.53,947.96 L1453.35,946.88 L1453.16,945.75 L1452.96,944.60 L1452.74,943.42 L1452.50,942.23 L1452.24,941.03 L1451.96,939.84 L1451.64,938.66 L1451.30,937.50 L1450.90,936.36 L1450.45,935.22 L1449.95,934.08 L1449.42,932.94 L1448.88,931.80 L1448.33,930.66 L1447.81,929.52 L1447.32,928.38 L1446.88,927.24 L1446.50,926.10 L1446.19,924.95 L1445.93,923.81 L1445.72,922.66 L1445.54,921.51 L1445.38,920.36 L1445.22,919.20 L1445.07,918.05 L1444.91,916.90 L1444.72,915.75 L1444.50,914.60 L1444.29,913.45 L1444.12,912.30 L1443.96,911.15 L1443.81,910.00 L1443.64,908.85 L1443.42,907.70 L1443.14,906.55 L1442.77,905.40 L1442.30,904.25 L1441.70,903.10 L1440.94,901.95 L1440.03,900.80 L1439.00,899.65 L1437.88,898.50 L1436.70,897.35 L1435.50,896.20 L1434.31,895.05 L1433.15,893.90 L1432.07,892.75 L1431.10,891.60 L1430.18,890.45 L1429.25,889.30 L1428.33,888.15 L1427.44,887.00 L1426.58,885.85 L1425.78,884.70 L1425.06,883.55 L1424.43,882.40 L1423.90,881.25 L1423.50,880.10 L1423.25,878.95 L1423.16,877.80 L1423.20,876.65 L1423.33,875.50 L1423.53,874.35 L1423.76,873.20 L1423.99,872.05 L1424.20,870.90 L1424.34,869.75 L1424.40,868.60 L1424.44,867.45 L1424.54,866.30 L1424.66,865.15 L1424.77,864.00 L1424.84,862.85 L1424.85,861.70 L1424.75,860.55 L1424.51,859.40 L1424.10,858.25 L1423.50,857.10 L1422.65,855.95 L1421.55,854.80 L1420.25,853.65 L1418.82,852.50 L1417.29,851.35 L1415.73,850.20 L1414.18,849.05 L1412.69,847.90 L1411.31,846.75 L1410.10,845.60 L1408.95,844.45 L1407.76,843.30 L1406.57,842.15 L1405.40,841.00 L1404.31,839.85 L1403.33,838.70 L1402.50,837.55 L1401.86,836.40 L1401.45,835.25 L1401.30,834.10 L1401.46,832.95 L1401.92,831.80 L1402.62,830.65 L1403.51,829.50 L1404.55,828.35 L1405.68,827.20 L1406.85,826.05 L1408.01,824.90 L1409.11,823.75 L1410.10,822.60 L1411.09,821.46 L1412.20,820.33 L1413.37,819.21 L1414.57,818.09 L1415.75,816.97 L1416.86,815.84 L1417.85,814.69 L1418.69,813.52 L1419.32,812.33 L1419.70,811.10 L1419.73,809.84 L1419.42,808.54 L1418.84,807.22 L1418.08,805.88 L1417.24,804.52 L1416.41,803.15 L1415.67,801.78 L1415.11,800.41 L1414.83,799.05 L1414.90,797.70 L1415.32,796.35 L1415.97,794.99 L1416.83,793.62 L1417.86,792.25 L1419.01,790.88 L1420.26,789.52 L1421.55,788.18 L1422.87,786.86 L1424.16,785.56 L1425.40,784.30 L1426.64,783.09 L1427.97,781.94 L1429.36,780.83 L1430.78,779.75 L1432.22,778.67 L1433.65,777.58 L1435.04,776.47 L1436.38,775.31 L1437.64,774.10 L1438.80,772.80 L1439.87,771.42 L1440.89,769.98 L1441.85,768.49 L1442.77,766.96 L1443.64,765.39 L1444.46,763.81 L1445.25,762.22 L1446.00,760.63 L1446.72,759.05 L1447.40,757.50 L1448.05,755.96 L1448.66,754.39 L1449.22,752.82 L1449.75,751.25 L1450.24,749.68 L1450.70,748.12 L1451.12,746.58 L1451.51,745.05 L1451.87,743.56 L1452.20,742.10 L1452.49,740.68 L1452.72,739.31 L1452.91,737.96 L1453.06,736.64 L1453.19,735.33 L1453.29,734.03 L1453.39,732.72 L1453.48,731.41 L1453.59,730.07 L1453.70,728.70 L1453.82,727.24 L1453.95,725.67 L1454.07,724.03 L1454.18,722.36 L1454.29,720.71 L1454.40,719.13 L1454.49,717.67 L1454.57,716.36 L1454.64,715.25 L1454.70,714.40 Z" fill="#4DB1CC" stroke="#111111" stroke-width="1.3" stroke-linejoin="round"/>
<line x1="1309.70" y1="797.70" x2="1309.70" y2="836.60" stroke="#1a1a1a" stroke-width="1.0"/>
<line x1="1309.70" y1="874.90" x2="1309.70" y2="914.20" stroke="#1a1a1a" stroke-width="1.0"/>
<rect x="1295.30" y="836.60" width="28.80" height="38.30" fill="#ffffff" stroke="#1a1a1a" stroke-width="1.0"/>
<line x1="1295.30" y1="874.90" x2="1324.10" y2="874.90" stroke="#1a1a1a" stroke-width="1.6"/>
<line x1="1454.70" y1="757.50" x2="1454.70" y2="797.70" stroke="#1a1a1a" stroke-width="1.0"/>
<line x1="1454.70" y1="874.90" x2="1454.70" y2="913.60" stroke="#1a1a1a" stroke-width="1.0"/>
<rect x="1440.60" y="797.70" width="28.20" height="77.20" fill="#ffffff" stroke="#1a1a1a" stroke-width="1.0"/>
<line x1="1440.60" y1="836.00" x2="1468.80" y2="836.00" stroke="#1a1a1a" stroke-width="1.6"/>
<circle cx="1309.30" cy="953.80" r="2.10" fill="#111"/>
<polyline points="1309.70,753.10 1309.70,748.10 1454.70,748.10 1454.70,753.10" fill="none" stroke="#555" stroke-width="1.0"/>
<text transform="translate(1384.40,745.66) scale(1.030,1.090)" font-size="10.80" text-anchor="middle" font-weight="bold" fill="#222">0.00016</text>
<text x="0.20" y="1167.85" font-size="30.00" font-weight="bold" fill="#000">D</text>
<line x1="93.00" y1="1243.90" x2="93.00" y2="1579.90" stroke="#111111" stroke-width="1.6"/>
<line x1="92.40" y1="1579.30" x2="459.20" y2="1579.30" stroke="#111111" stroke-width="1.6"/>
<line x1="89.50" y1="1290.00" x2="93.00" y2="1290.00" stroke="#111111" stroke-width="0.9"/>
<text transform="translate(89.00,1294.06) scale(1.030,1.090)" font-size="10.80" text-anchor="end" font-weight="bold" fill="#333333">12.5</text>
<line x1="89.50" y1="1362.40" x2="93.00" y2="1362.40" stroke="#111111" stroke-width="0.9"/>
<text transform="translate(89.00,1366.46) scale(1.030,1.090)" font-size="10.80" text-anchor="end" font-weight="bold" fill="#333333">10.0</text>
<line x1="89.50" y1="1434.50" x2="93.00" y2="1434.50" stroke="#111111" stroke-width="0.9"/>
<text transform="translate(89.00,1438.56) scale(1.030,1.090)" font-size="10.80" text-anchor="end" font-weight="bold" fill="#333333">7.5</text>
<line x1="89.50" y1="1506.90" x2="93.00" y2="1506.90" stroke="#111111" stroke-width="0.9"/>
<text transform="translate(89.00,1510.96) scale(1.030,1.090)" font-size="10.80" text-anchor="end" font-weight="bold" fill="#333333">5.0</text>
<line x1="89.50" y1="1579.00" x2="93.00" y2="1579.00" stroke="#111111" stroke-width="0.9"/>
<text transform="translate(89.00,1583.06) scale(1.030,1.090)" font-size="10.80" text-anchor="end" font-weight="bold" fill="#333333">2.5</text>
<line x1="197.90" y1="1579.30" x2="197.90" y2="1583.80" stroke="#111111" stroke-width="0.9"/>
<line x1="373.20" y1="1579.30" x2="373.20" y2="1583.80" stroke="#111111" stroke-width="0.9"/>
<text transform="translate(203.90,1604.54) scale(1.030,1.090)" font-size="14.20" text-anchor="middle" fill="#333">Low-Score</text>
<text transform="translate(379.20,1604.54) scale(1.030,1.090)" font-size="14.20" text-anchor="middle" fill="#333">High-Score</text>
<text transform="translate(267.30,1635.82) scale(1.030,1.090)" font-size="20.80" text-anchor="middle" fill="#111">MHPS</text>
<text transform="translate(46.72,1407.30) rotate(-90) scale(1.030,1.090)" font-size="20.80" text-anchor="middle" fill="#111">PD-L1</text>
<text transform="translate(391.20,1197.31) scale(1.030,1.090)" font-size="17.30" fill="#111">MHPS</text>
<line x1="403.30" y1="1209.00" x2="403.30" y2="1226.60" stroke="#555" stroke-width="0.7"/>
<rect x="391.20" y="1212.00" width="24.20" height="11.60" fill="#34A884" stroke="#2b2222" stroke-width="1.0"/>
<line x1="391.20" y1="1217.80" x2="415.40" y2="1217.80" stroke="#2b2222" stroke-width="0.9"/>
<circle cx="403.30" cy="1217.80" r="2.40" fill="#34A884" stroke="#2b2222" stroke-width="1.0"/>
<line x1="403.30" y1="1232.00" x2="403.30" y2="1249.60" stroke="#555" stroke-width="0.7"/>
<rect x="391.20" y="1235.00" width="24.20" height="11.60" fill="#EE5A22" stroke="#2b2222" stroke-width="1.0"/>
<line x1="391.20" y1="1240.80" x2="415.40" y2="1240.80" stroke="#2b2222" stroke-width="0.9"/>
<circle cx="403.30" cy="1240.80" r="2.40" fill="#EE5A22" stroke="#2b2222" stroke-width="1.0"/>
<text transform="translate(420.20,1223.14) scale(1.030,1.090)" font-size="14.20" fill="#222">Low-Score</text>
<text transform="translate(420.20,1246.14) scale(1.030,1.090)" font-size="14.20" fill="#222">High-Score</text>
<polyline points="197.90,1279.40 197.90,1271.80 373.20,1271.80 373.20,1279.40" fill="none" stroke="#666" stroke-width="1.0"/>
<text transform="translate(277.30,1268.64) scale(1.030,1.090)" font-size="14.20" text-anchor="middle" fill="#333">6.6e-10</text>
<line x1="197.90" y1="1343.50" x2="197.90" y2="1380.00" stroke="#2b2222" stroke-width="1.1"/>
<line x1="197.90" y1="1413.30" x2="197.90" y2="1463.70" stroke="#2b2222" stroke-width="1.1"/>
<rect x="136.80" y="1380.00" width="122.90" height="33.30" fill="#83B89E" stroke="#2b2222" stroke-width="1.3"/>
<line x1="136.80" y1="1395.00" x2="259.70" y2="1395.00" stroke="#2b2222" stroke-width="1.3"/>
<line x1="373.20" y1="1340.90" x2="373.20" y2="1413.30" stroke="#2b2222" stroke-width="1.1"/>
<line x1="373.20" y1="1464.40" x2="373.20" y2="1511.90" stroke="#2b2222" stroke-width="1.1"/>
<rect x="312.10" y="1413.30" width="122.90" height="51.10" fill="#DD4C14" stroke="#2b2222" stroke-width="1.3"/>
<line x1="312.10" y1="1434.80" x2="435.00" y2="1434.80" stroke="#2b2222" stroke-width="1.3"/>
<circle cx="174.33" cy="1285.07" r="2.20" fill="#3F9B7C" stroke="#2b2222" stroke-width="0.8"/>
<circle cx="211.52" cy="1289.72" r="2.20" fill="#3F9B7C" stroke="#2b2222" stroke-width="0.8"/>
<circle cx="173.00" cy="1342.85" r="2.20" fill="#3F9B7C" stroke="#2b2222" stroke-width="0.8"/>
<circle cx="170.35" cy="1357.46" r="2.20" fill="#3F9B7C" stroke="#2b2222" stroke-width="0.8"/>
<circle cx="175.00" cy="1356.80" r="2.20" fill="#3F9B7C" stroke="#2b2222" stroke-width="0.8"/>
<circle cx="182.63" cy="1357.46" r="2.20" fill="#3F9B7C" stroke="#2b2222" stroke-width="0.8"/>
<circle cx="183.63" cy="1360.12" r="2.20" fill="#3F9B7C" stroke="#2b2222" stroke-width="0.8"/>
<circle cx="190.27" cy="1350.82" r="2.20" fill="#3F9B7C" stroke="#2b2222" stroke-width="0.8"/>
<circle cx="193.92" cy="1348.16" r="2.20" fill="#3F9B7C" stroke="#2b2222" stroke-width="0.8"/>
<circle cx="203.89" cy="1345.51" r="2.20" fill="#3F9B7C" stroke="#2b2222" stroke-width="0.8"/>
<circle cx="207.87" cy="1346.17" r="2.20" fill="#3F9B7C" stroke="#2b2222" stroke-width="0.8"/>
<circle cx="215.84" cy="1369.08" r="2.20" fill="#3F9B7C" stroke="#2b2222" stroke-width="0.8"/>
<circle cx="223.14" cy="1371.41" r="2.20" fill="#3F9B7C" stroke="#2b2222" stroke-width="0.8"/>
<circle cx="230.45" cy="1371.41" r="2.20" fill="#3F9B7C" stroke="#2b2222" stroke-width="0.8"/>
<circle cx="186.62" cy="1373.40" r="2.20" fill="#3F9B7C" stroke="#2b2222" stroke-width="0.8"/>
<circle cx="190.60" cy="1373.40" r="2.20" fill="#3F9B7C" stroke="#2b2222" stroke-width="0.8"/>
<circle cx="175.33" cy="1376.39" r="2.20" fill="#3F9B7C" stroke="#2b2222" stroke-width="0.8"/>
<circle cx="205.88" cy="1375.72" r="2.20" fill="#3F9B7C" stroke="#2b2222" stroke-width="0.8"/>
<circle cx="219.16" cy="1380.04" r="2.20" fill="#3F9B7C" stroke="#2b2222" stroke-width="0.8"/>
<circle cx="228.46" cy="1378.38" r="2.20" fill="#3F9B7C" stroke="#2b2222" stroke-width="0.8"/>
<circle cx="163.71" cy="1382.37" r="2.20" fill="#3F9B7C" stroke="#2b2222" stroke-width="0.8"/>
<circle cx="170.35" cy="1384.36" r="2.20" fill="#3F9B7C" stroke="#2b2222" stroke-width="0.8"/>
<circle cx="162.71" cy="1386.68" r="2.20" fill="#3F9B7C" stroke="#2b2222" stroke-width="0.8"/>
<circle cx="185.95" cy="1379.71" r="2.20" fill="#3F9B7C" stroke="#2b2222" stroke-width="0.8"/>
<circle cx="192.60" cy="1381.04" r="2.20" fill="#3F9B7C" stroke="#2b2222" stroke-width="0.8"/>
<circle cx="206.54" cy="1380.71" r="2.20" fill="#3F9B7C" stroke="#2b2222" stroke-width="0.8"/>
<circle cx="216.50" cy="1383.03" r="2.20" fill="#3F9B7C" stroke="#2b2222" stroke-width="0.8"/>
<circle cx="223.14" cy="1386.68" r="2.20" fill="#3F9B7C" stroke="#2b2222" stroke-width="0.8"/>
<circle cx="233.11" cy="1387.35" r="2.20" fill="#3F9B7C" stroke="#2b2222" stroke-width="0.8"/>
<circle cx="230.78" cy="1391.33" r="2.20" fill="#3F9B7C" stroke="#2b2222" stroke-width="0.8"/>
<circle cx="179.31" cy="1389.67" r="2.20" fill="#3F9B7C" stroke="#2b2222" stroke-width="0.8"/>
<circle cx="184.29" cy="1390.67" r="2.20" fill="#3F9B7C" stroke="#2b2222" stroke-width="0.8"/>
<circle cx="188.61" cy="1395.65" r="2.20" fill="#3F9B7C" stroke="#2b2222" stroke-width="0.8"/>
<circle cx="191.93" cy="1392.99" r="2.20" fill="#3F9B7C" stroke="#2b2222" stroke-width="0.8"/>
<circle cx="200.23" cy="1389.01" r="2.20" fill="#3F9B7C" stroke="#2b2222" stroke-width="0.8"/>
<circle cx="166.69" cy="1394.98" r="2.20" fill="#3F9B7C" stroke="#2b2222" stroke-width="0.8"/>
<circle cx="201.89" cy="1397.31" r="2.20" fill="#3F9B7C" stroke="#2b2222" stroke-width="0.8"/>
<circle cx="179.31" cy="1398.97" r="2.20" fill="#3F9B7C" stroke="#2b2222" stroke-width="0.8"/>
<circle cx="193.26" cy="1400.63" r="2.20" fill="#3F9B7C" stroke="#2b2222" stroke-width="0.8"/>
<circle cx="208.53" cy="1401.63" r="2.20" fill="#3F9B7C" stroke="#2b2222" stroke-width="0.8"/>
<circle cx="219.16" cy="1400.63" r="2.20" fill="#3F9B7C" stroke="#2b2222" stroke-width="0.8"/>
<circle cx="225.14" cy="1403.95" r="2.20" fill="#3F9B7C" stroke="#2b2222" stroke-width="0.8"/>
<circle cx="172.67" cy="1405.61" r="2.20" fill="#3F9B7C" stroke="#2b2222" stroke-width="0.8"/>
<circle cx="198.57" cy="1407.27" r="2.20" fill="#3F9B7C" stroke="#2b2222" stroke-width="0.8"/>
<circle cx="209.20" cy="1410.59" r="2.20" fill="#3F9B7C" stroke="#2b2222" stroke-width="0.8"/>
<circle cx="215.18" cy="1408.27" r="2.20" fill="#3F9B7C" stroke="#2b2222" stroke-width="0.8"/>
<circle cx="223.48" cy="1411.59" r="2.20" fill="#3F9B7C" stroke="#2b2222" stroke-width="0.8"/>
<circle cx="171.01" cy="1410.59" r="2.20" fill="#3F9B7C" stroke="#2b2222" stroke-width="0.8"/>
<circle cx="193.59" cy="1412.92" r="2.20" fill="#3F9B7C" stroke="#2b2222" stroke-width="0.8"/>
<circle cx="199.24" cy="1412.25" r="2.20" fill="#3F9B7C" stroke="#2b2222" stroke-width="0.8"/>
<circle cx="212.52" cy="1413.91" r="2.20" fill="#3F9B7C" stroke="#2b2222" stroke-width="0.8"/>
<circle cx="162.71" cy="1418.89" r="2.20" fill="#3F9B7C" stroke="#2b2222" stroke-width="0.8"/>
<circle cx="189.27" cy="1417.23" r="2.20" fill="#3F9B7C" stroke="#2b2222" stroke-width="0.8"/>
<circle cx="211.19" cy="1416.24" r="2.20" fill="#3F9B7C" stroke="#2b2222" stroke-width="0.8"/>
<circle cx="217.50" cy="1423.21" r="2.20" fill="#3F9B7C" stroke="#2b2222" stroke-width="0.8"/>
<circle cx="194.26" cy="1422.88" r="2.20" fill="#3F9B7C" stroke="#2b2222" stroke-width="0.8"/>
<circle cx="187.95" cy="1427.86" r="2.20" fill="#3F9B7C" stroke="#2b2222" stroke-width="0.8"/>
<circle cx="200.23" cy="1426.20" r="2.20" fill="#3F9B7C" stroke="#2b2222" stroke-width="0.8"/>
<circle cx="191.93" cy="1433.84" r="2.20" fill="#3F9B7C" stroke="#2b2222" stroke-width="0.8"/>
<circle cx="198.24" cy="1432.17" r="2.20" fill="#3F9B7C" stroke="#2b2222" stroke-width="0.8"/>
<circle cx="206.54" cy="1433.84" r="2.20" fill="#3F9B7C" stroke="#2b2222" stroke-width="0.8"/>
<circle cx="221.48" cy="1437.16" r="2.20" fill="#3F9B7C" stroke="#2b2222" stroke-width="0.8"/>
<circle cx="186.95" cy="1436.49" r="2.20" fill="#3F9B7C" stroke="#2b2222" stroke-width="0.8"/>
<circle cx="183.63" cy="1439.48" r="2.20" fill="#3F9B7C" stroke="#2b2222" stroke-width="0.8"/>
<circle cx="176.66" cy="1449.44" r="2.20" fill="#3F9B7C" stroke="#2b2222" stroke-width="0.8"/>
<circle cx="182.63" cy="1448.78" r="2.20" fill="#3F9B7C" stroke="#2b2222" stroke-width="0.8"/>
<circle cx="192.60" cy="1450.77" r="2.20" fill="#3F9B7C" stroke="#2b2222" stroke-width="0.8"/>
<circle cx="198.24" cy="1461.40" r="2.20" fill="#3F9B7C" stroke="#2b2222" stroke-width="0.8"/>
<circle cx="214.84" cy="1455.42" r="2.20" fill="#3F9B7C" stroke="#2b2222" stroke-width="0.8"/>
<circle cx="186.95" cy="1469.70" r="2.20" fill="#3F9B7C" stroke="#2b2222" stroke-width="0.8"/>
<circle cx="195.25" cy="1478.00" r="2.20" fill="#3F9B7C" stroke="#2b2222" stroke-width="0.8"/>
<circle cx="391.83" cy="1328.57" r="2.20" fill="#E35A2A" stroke="#2b2222" stroke-width="0.8"/>
<circle cx="402.13" cy="1340.86" r="2.20" fill="#E35A2A" stroke="#2b2222" stroke-width="0.8"/>
<circle cx="397.14" cy="1356.13" r="2.20" fill="#E35A2A" stroke="#2b2222" stroke-width="0.8"/>
<circle cx="340.69" cy="1395.98" r="2.20" fill="#E35A2A" stroke="#2b2222" stroke-width="0.8"/>
<circle cx="371.91" cy="1393.99" r="2.20" fill="#E35A2A" stroke="#2b2222" stroke-width="0.8"/>
<circle cx="368.59" cy="1405.94" r="2.20" fill="#E35A2A" stroke="#2b2222" stroke-width="0.8"/>
<circle cx="372.57" cy="1404.28" r="2.20" fill="#E35A2A" stroke="#2b2222" stroke-width="0.8"/>
<circle cx="378.55" cy="1404.28" r="2.20" fill="#E35A2A" stroke="#2b2222" stroke-width="0.8"/>
<circle cx="385.19" cy="1401.29" r="2.20" fill="#E35A2A" stroke="#2b2222" stroke-width="0.8"/>
<circle cx="393.82" cy="1402.29" r="2.20" fill="#E35A2A" stroke="#2b2222" stroke-width="0.8"/>
<circle cx="377.88" cy="1410.92" r="2.20" fill="#E35A2A" stroke="#2b2222" stroke-width="0.8"/>
<circle cx="386.85" cy="1412.25" r="2.20" fill="#E35A2A" stroke="#2b2222" stroke-width="0.8"/>
<circle cx="358.63" cy="1414.58" r="2.20" fill="#E35A2A" stroke="#2b2222" stroke-width="0.8"/>
<circle cx="359.95" cy="1420.88" r="2.20" fill="#E35A2A" stroke="#2b2222" stroke-width="0.8"/>
<circle cx="348.00" cy="1422.88" r="2.20" fill="#E35A2A" stroke="#2b2222" stroke-width="0.8"/>
<circle cx="366.93" cy="1426.53" r="2.20" fill="#E35A2A" stroke="#2b2222" stroke-width="0.8"/>
<circle cx="380.54" cy="1421.22" r="2.20" fill="#E35A2A" stroke="#2b2222" stroke-width="0.8"/>
<circle cx="392.83" cy="1419.56" r="2.20" fill="#E35A2A" stroke="#2b2222" stroke-width="0.8"/>
<circle cx="341.36" cy="1428.85" r="2.20" fill="#E35A2A" stroke="#2b2222" stroke-width="0.8"/>
<circle cx="349.33" cy="1427.19" r="2.20" fill="#E35A2A" stroke="#2b2222" stroke-width="0.8"/>
<circle cx="382.20" cy="1428.85" r="2.20" fill="#E35A2A" stroke="#2b2222" stroke-width="0.8"/>
<circle cx="403.45" cy="1428.19" r="2.20" fill="#E35A2A" stroke="#2b2222" stroke-width="0.8"/>
<circle cx="407.77" cy="1431.51" r="2.20" fill="#E35A2A" stroke="#2b2222" stroke-width="0.8"/>
<circle cx="340.36" cy="1434.50" r="2.20" fill="#E35A2A" stroke="#2b2222" stroke-width="0.8"/>
<circle cx="350.99" cy="1433.84" r="2.20" fill="#E35A2A" stroke="#2b2222" stroke-width="0.8"/>
<circle cx="376.89" cy="1435.83" r="2.20" fill="#E35A2A" stroke="#2b2222" stroke-width="0.8"/>
<circle cx="346.34" cy="1439.81" r="2.20" fill="#E35A2A" stroke="#2b2222" stroke-width="0.8"/>
<circle cx="374.56" cy="1439.81" r="2.20" fill="#E35A2A" stroke="#2b2222" stroke-width="0.8"/>
<circle cx="401.79" cy="1437.82" r="2.20" fill="#E35A2A" stroke="#2b2222" stroke-width="0.8"/>
<circle cx="371.91" cy="1447.78" r="2.20" fill="#E35A2A" stroke="#2b2222" stroke-width="0.8"/>
<circle cx="363.61" cy="1451.43" r="2.20" fill="#E35A2A" stroke="#2b2222" stroke-width="0.8"/>
<circle cx="369.58" cy="1450.11" r="2.20" fill="#E35A2A" stroke="#2b2222" stroke-width="0.8"/>
<circle cx="401.79" cy="1447.78" r="2.20" fill="#E35A2A" stroke="#2b2222" stroke-width="0.8"/>
<circle cx="352.65" cy="1456.75" r="2.20" fill="#E35A2A" stroke="#2b2222" stroke-width="0.8"/>
<circle cx="367.92" cy="1455.09" r="2.20" fill="#E35A2A" stroke="#2b2222" stroke-width="0.8"/>
<circle cx="376.22" cy="1456.08" r="2.20" fill="#E35A2A" stroke="#2b2222" stroke-width="0.8"/>
<circle cx="386.19" cy="1463.06" r="2.20" fill="#E35A2A" stroke="#2b2222" stroke-width="0.8"/>
<circle cx="379.55" cy="1466.71" r="2.20" fill="#E35A2A" stroke="#2b2222" stroke-width="0.8"/>
<circle cx="339.70" cy="1473.68" r="2.20" fill="#E35A2A" stroke="#2b2222" stroke-width="0.8"/>
<circle cx="400.13" cy="1471.03" r="2.20" fill="#E35A2A" stroke="#2b2222" stroke-width="0.8"/>
<circle cx="390.17" cy="1477.34" r="2.20" fill="#E35A2A" stroke="#2b2222" stroke-width="0.8"/>
<circle cx="344.35" cy="1483.98" r="2.20" fill="#E35A2A" stroke="#2b2222" stroke-width="0.8"/>
<circle cx="354.64" cy="1487.63" r="2.20" fill="#E35A2A" stroke="#2b2222" stroke-width="0.8"/>
<circle cx="374.56" cy="1486.96" r="2.20" fill="#E35A2A" stroke="#2b2222" stroke-width="0.8"/>
<circle cx="396.81" cy="1489.62" r="2.20" fill="#E35A2A" stroke="#2b2222" stroke-width="0.8"/>
<circle cx="342.02" cy="1494.60" r="2.20" fill="#E35A2A" stroke="#2b2222" stroke-width="0.8"/>
<circle cx="355.30" cy="1499.25" r="2.20" fill="#E35A2A" stroke="#2b2222" stroke-width="0.8"/>
<circle cx="382.87" cy="1505.56" r="2.20" fill="#E35A2A" stroke="#2b2222" stroke-width="0.8"/>
<circle cx="393.49" cy="1512.20" r="2.20" fill="#E35A2A" stroke="#2b2222" stroke-width="0.8"/>
<circle cx="369.25" cy="1544.08" r="2.20" fill="#E35A2A" stroke="#2b2222" stroke-width="0.8"/>
<circle cx="370.58" cy="1551.38" r="2.20" fill="#E35A2A" stroke="#2b2222" stroke-width="0.8"/>
<text x="526.10" y="1167.85" font-size="30.00" font-weight="bold" fill="#000">E</text>
<line x1="610.30" y1="1243.90" x2="610.30" y2="1579.90" stroke="#111111" stroke-width="1.6"/>
<line x1="609.70" y1="1579.30" x2="964.00" y2="1579.30" stroke="#111111" stroke-width="1.6"/>
<line x1="606.80" y1="1254.90" x2="610.30" y2="1254.90" stroke="#111111" stroke-width="0.9"/>
<text transform="translate(606.30,1258.96) scale(1.030,1.090)" font-size="10.80" text-anchor="end" font-weight="bold" fill="#333333">12.5</text>
<line x1="606.80" y1="1329.60" x2="610.30" y2="1329.60" stroke="#111111" stroke-width="0.9"/>
<text transform="translate(606.30,1333.66) scale(1.030,1.090)" font-size="10.80" text-anchor="end" font-weight="bold" fill="#333333">10.0</text>
<line x1="606.80" y1="1404.30" x2="610.30" y2="1404.30" stroke="#111111" stroke-width="0.9"/>
<text transform="translate(606.30,1408.36) scale(1.030,1.090)" font-size="10.80" text-anchor="end" font-weight="bold" fill="#333333">7.5</text>
<line x1="606.80" y1="1479.00" x2="610.30" y2="1479.00" stroke="#111111" stroke-width="0.9"/>
<text transform="translate(606.30,1483.06) scale(1.030,1.090)" font-size="10.80" text-anchor="end" font-weight="bold" fill="#333333">5.0</text>
<line x1="606.80" y1="1553.40" x2="610.30" y2="1553.40" stroke="#111111" stroke-width="0.9"/>
<text transform="translate(606.30,1557.46) scale(1.030,1.090)" font-size="10.80" text-anchor="end" font-weight="bold" fill="#333333">2.5</text>
<line x1="715.60" y1="1579.30" x2="715.60" y2="1583.80" stroke="#111111" stroke-width="0.9"/>
<line x1="890.90" y1="1579.30" x2="890.90" y2="1583.80" stroke="#111111" stroke-width="0.9"/>
<text transform="translate(721.60,1604.54) scale(1.030,1.090)" font-size="14.20" text-anchor="middle" fill="#333">Low-Score</text>
<text transform="translate(896.90,1604.54) scale(1.030,1.090)" font-size="14.20" text-anchor="middle" fill="#333">High-Score</text>
<text transform="translate(789.60,1635.82) scale(1.030,1.090)" font-size="20.80" text-anchor="middle" fill="#111">MHPS</text>
<text transform="translate(567.02,1410.60) rotate(-90) scale(1.030,1.090)" font-size="20.80" text-anchor="middle" fill="#111">PD-1</text>
<text transform="translate(918.50,1193.61) scale(1.030,1.090)" font-size="17.30" fill="#111">MHPS</text>
<line x1="930.60" y1="1204.40" x2="930.60" y2="1222.00" stroke="#555" stroke-width="0.7"/>
<rect x="918.50" y="1207.40" width="24.20" height="11.60" fill="#34A884" stroke="#2b2222" stroke-width="1.0"/>
<line x1="918.50" y1="1213.20" x2="942.70" y2="1213.20" stroke="#2b2222" stroke-width="0.9"/>
<circle cx="930.60" cy="1213.20" r="2.40" fill="#34A884" stroke="#2b2222" stroke-width="1.0"/>
<line x1="930.60" y1="1226.60" x2="930.60" y2="1244.20" stroke="#555" stroke-width="0.7"/>
<rect x="918.50" y="1229.60" width="24.20" height="11.60" fill="#EE5A22" stroke="#2b2222" stroke-width="1.0"/>
<line x1="918.50" y1="1235.40" x2="942.70" y2="1235.40" stroke="#2b2222" stroke-width="0.9"/>
<circle cx="930.60" cy="1235.40" r="2.40" fill="#EE5A22" stroke="#2b2222" stroke-width="1.0"/>
<text transform="translate(947.50,1218.54) scale(1.030,1.090)" font-size="14.20" fill="#222">Low-Score</text>
<text transform="translate(947.50,1240.74) scale(1.030,1.090)" font-size="14.20" fill="#222">High-Score</text>
<polyline points="715.60,1279.40 715.60,1271.80 890.90,1271.80 890.90,1279.40" fill="none" stroke="#666" stroke-width="1.0"/>
<text transform="translate(793.30,1268.64) scale(1.030,1.090)" font-size="14.20" text-anchor="middle" fill="#333">0.065</text>
<line x1="715.60" y1="1302.70" x2="715.60" y2="1364.00" stroke="#2b2222" stroke-width="1.1"/>
<line x1="715.60" y1="1433.80" x2="715.60" y2="1524.20" stroke="#2b2222" stroke-width="1.1"/>
<rect x="654.50" y="1364.00" width="122.80" height="69.80" fill="#83B89E" stroke="#2b2222" stroke-width="1.3"/>
<line x1="654.50" y1="1391.70" x2="777.30" y2="1391.70" stroke="#2b2222" stroke-width="1.3"/>
<line x1="890.90" y1="1289.40" x2="890.90" y2="1359.10" stroke="#2b2222" stroke-width="1.1"/>
<line x1="890.90" y1="1467.70" x2="890.90" y2="1551.00" stroke="#2b2222" stroke-width="1.1"/>
<rect x="829.50" y="1359.10" width="122.80" height="108.60" fill="#DD4C14" stroke="#2b2222" stroke-width="1.3"/>
<line x1="829.50" y1="1403.00" x2="952.30" y2="1403.00" stroke="#2b2222" stroke-width="1.3"/>
<circle cx="712.60" cy="1302.67" r="2.20" fill="#3F9B7C" stroke="#2b2222" stroke-width="0.8"/>
<circle cx="738.50" cy="1325.25" r="2.20" fill="#3F9B7C" stroke="#2b2222" stroke-width="0.8"/>
<circle cx="712.93" cy="1330.56" r="2.20" fill="#3F9B7C" stroke="#2b2222" stroke-width="0.8"/>
<circle cx="698.98" cy="1338.53" r="2.20" fill="#3F9B7C" stroke="#2b2222" stroke-width="0.8"/>
<circle cx="706.95" cy="1338.53" r="2.20" fill="#3F9B7C" stroke="#2b2222" stroke-width="0.8"/>
<circle cx="709.94" cy="1336.87" r="2.20" fill="#3F9B7C" stroke="#2b2222" stroke-width="0.8"/>
<circle cx="724.22" cy="1340.19" r="2.20" fill="#3F9B7C" stroke="#2b2222" stroke-width="0.8"/>
<circle cx="734.51" cy="1336.21" r="2.20" fill="#3F9B7C" stroke="#2b2222" stroke-width="0.8"/>
<circle cx="704.63" cy="1344.51" r="2.20" fill="#3F9B7C" stroke="#2b2222" stroke-width="0.8"/>
<circle cx="725.21" cy="1343.51" r="2.20" fill="#3F9B7C" stroke="#2b2222" stroke-width="0.8"/>
<circle cx="732.85" cy="1345.18" r="2.20" fill="#3F9B7C" stroke="#2b2222" stroke-width="0.8"/>
<circle cx="735.84" cy="1349.49" r="2.20" fill="#3F9B7C" stroke="#2b2222" stroke-width="0.8"/>
<circle cx="687.36" cy="1353.14" r="2.20" fill="#3F9B7C" stroke="#2b2222" stroke-width="0.8"/>
<circle cx="704.63" cy="1350.16" r="2.20" fill="#3F9B7C" stroke="#2b2222" stroke-width="0.8"/>
<circle cx="692.67" cy="1357.79" r="2.20" fill="#3F9B7C" stroke="#2b2222" stroke-width="0.8"/>
<circle cx="696.32" cy="1356.80" r="2.20" fill="#3F9B7C" stroke="#2b2222" stroke-width="0.8"/>
<circle cx="709.27" cy="1359.12" r="2.20" fill="#3F9B7C" stroke="#2b2222" stroke-width="0.8"/>
<circle cx="732.52" cy="1356.80" r="2.20" fill="#3F9B7C" stroke="#2b2222" stroke-width="0.8"/>
<circle cx="740.82" cy="1361.78" r="2.20" fill="#3F9B7C" stroke="#2b2222" stroke-width="0.8"/>
<circle cx="748.13" cy="1364.43" r="2.20" fill="#3F9B7C" stroke="#2b2222" stroke-width="0.8"/>
<circle cx="682.38" cy="1366.43" r="2.20" fill="#3F9B7C" stroke="#2b2222" stroke-width="0.8"/>
<circle cx="716.25" cy="1368.42" r="2.20" fill="#3F9B7C" stroke="#2b2222" stroke-width="0.8"/>
<circle cx="719.57" cy="1373.40" r="2.20" fill="#3F9B7C" stroke="#2b2222" stroke-width="0.8"/>
<circle cx="705.62" cy="1380.71" r="2.20" fill="#3F9B7C" stroke="#2b2222" stroke-width="0.8"/>
<circle cx="711.27" cy="1379.05" r="2.20" fill="#3F9B7C" stroke="#2b2222" stroke-width="0.8"/>
<circle cx="715.25" cy="1378.38" r="2.20" fill="#3F9B7C" stroke="#2b2222" stroke-width="0.8"/>
<circle cx="727.54" cy="1379.05" r="2.20" fill="#3F9B7C" stroke="#2b2222" stroke-width="0.8"/>
<circle cx="735.18" cy="1376.06" r="2.20" fill="#3F9B7C" stroke="#2b2222" stroke-width="0.8"/>
<circle cx="746.13" cy="1378.05" r="2.20" fill="#3F9B7C" stroke="#2b2222" stroke-width="0.8"/>
<circle cx="684.04" cy="1385.02" r="2.20" fill="#3F9B7C" stroke="#2b2222" stroke-width="0.8"/>
<circle cx="694.00" cy="1386.35" r="2.20" fill="#3F9B7C" stroke="#2b2222" stroke-width="0.8"/>
<circle cx="704.63" cy="1385.02" r="2.20" fill="#3F9B7C" stroke="#2b2222" stroke-width="0.8"/>
<circle cx="718.57" cy="1384.03" r="2.20" fill="#3F9B7C" stroke="#2b2222" stroke-width="0.8"/>
<circle cx="729.20" cy="1387.35" r="2.20" fill="#3F9B7C" stroke="#2b2222" stroke-width="0.8"/>
<circle cx="733.85" cy="1382.37" r="2.20" fill="#3F9B7C" stroke="#2b2222" stroke-width="0.8"/>
<circle cx="749.45" cy="1383.36" r="2.20" fill="#3F9B7C" stroke="#2b2222" stroke-width="0.8"/>
<circle cx="691.34" cy="1389.67" r="2.20" fill="#3F9B7C" stroke="#2b2222" stroke-width="0.8"/>
<circle cx="703.30" cy="1387.35" r="2.20" fill="#3F9B7C" stroke="#2b2222" stroke-width="0.8"/>
<circle cx="709.27" cy="1391.33" r="2.20" fill="#3F9B7C" stroke="#2b2222" stroke-width="0.8"/>
<circle cx="717.91" cy="1389.01" r="2.20" fill="#3F9B7C" stroke="#2b2222" stroke-width="0.8"/>
<circle cx="741.82" cy="1392.00" r="2.20" fill="#3F9B7C" stroke="#2b2222" stroke-width="0.8"/>
<circle cx="711.27" cy="1393.32" r="2.20" fill="#3F9B7C" stroke="#2b2222" stroke-width="0.8"/>
<circle cx="701.97" cy="1397.64" r="2.20" fill="#3F9B7C" stroke="#2b2222" stroke-width="0.8"/>
<circle cx="710.27" cy="1399.63" r="2.20" fill="#3F9B7C" stroke="#2b2222" stroke-width="0.8"/>
<circle cx="737.50" cy="1398.30" r="2.20" fill="#3F9B7C" stroke="#2b2222" stroke-width="0.8"/>
<circle cx="739.82" cy="1397.31" r="2.20" fill="#3F9B7C" stroke="#2b2222" stroke-width="0.8"/>
<circle cx="749.45" cy="1400.30" r="2.20" fill="#3F9B7C" stroke="#2b2222" stroke-width="0.8"/>
<circle cx="688.69" cy="1404.61" r="2.20" fill="#3F9B7C" stroke="#2b2222" stroke-width="0.8"/>
<circle cx="724.22" cy="1406.61" r="2.20" fill="#3F9B7C" stroke="#2b2222" stroke-width="0.8"/>
<circle cx="726.54" cy="1407.60" r="2.20" fill="#3F9B7C" stroke="#2b2222" stroke-width="0.8"/>
<circle cx="750.45" cy="1410.26" r="2.20" fill="#3F9B7C" stroke="#2b2222" stroke-width="0.8"/>
<circle cx="688.69" cy="1415.90" r="2.20" fill="#3F9B7C" stroke="#2b2222" stroke-width="0.8"/>
<circle cx="700.31" cy="1414.91" r="2.20" fill="#3F9B7C" stroke="#2b2222" stroke-width="0.8"/>
<circle cx="701.30" cy="1420.88" r="2.20" fill="#3F9B7C" stroke="#2b2222" stroke-width="0.8"/>
<circle cx="717.91" cy="1424.21" r="2.20" fill="#3F9B7C" stroke="#2b2222" stroke-width="0.8"/>
<circle cx="718.57" cy="1428.85" r="2.20" fill="#3F9B7C" stroke="#2b2222" stroke-width="0.8"/>
<circle cx="722.22" cy="1430.51" r="2.20" fill="#3F9B7C" stroke="#2b2222" stroke-width="0.8"/>
<circle cx="735.18" cy="1428.85" r="2.20" fill="#3F9B7C" stroke="#2b2222" stroke-width="0.8"/>
<circle cx="743.14" cy="1431.18" r="2.20" fill="#3F9B7C" stroke="#2b2222" stroke-width="0.8"/>
<circle cx="700.31" cy="1432.84" r="2.20" fill="#3F9B7C" stroke="#2b2222" stroke-width="0.8"/>
<circle cx="706.95" cy="1434.83" r="2.20" fill="#3F9B7C" stroke="#2b2222" stroke-width="0.8"/>
<circle cx="709.61" cy="1437.49" r="2.20" fill="#3F9B7C" stroke="#2b2222" stroke-width="0.8"/>
<circle cx="711.27" cy="1439.48" r="2.20" fill="#3F9B7C" stroke="#2b2222" stroke-width="0.8"/>
<circle cx="681.05" cy="1444.13" r="2.20" fill="#3F9B7C" stroke="#2b2222" stroke-width="0.8"/>
<circle cx="692.67" cy="1442.14" r="2.20" fill="#3F9B7C" stroke="#2b2222" stroke-width="0.8"/>
<circle cx="692.34" cy="1444.79" r="2.20" fill="#3F9B7C" stroke="#2b2222" stroke-width="0.8"/>
<circle cx="718.24" cy="1443.13" r="2.20" fill="#3F9B7C" stroke="#2b2222" stroke-width="0.8"/>
<circle cx="723.55" cy="1443.13" r="2.20" fill="#3F9B7C" stroke="#2b2222" stroke-width="0.8"/>
<circle cx="711.27" cy="1446.45" r="2.20" fill="#3F9B7C" stroke="#2b2222" stroke-width="0.8"/>
<circle cx="703.96" cy="1461.73" r="2.20" fill="#3F9B7C" stroke="#2b2222" stroke-width="0.8"/>
<circle cx="725.55" cy="1459.74" r="2.20" fill="#3F9B7C" stroke="#2b2222" stroke-width="0.8"/>
<circle cx="716.25" cy="1464.38" r="2.20" fill="#3F9B7C" stroke="#2b2222" stroke-width="0.8"/>
<circle cx="691.01" cy="1470.36" r="2.20" fill="#3F9B7C" stroke="#2b2222" stroke-width="0.8"/>
<circle cx="707.61" cy="1475.34" r="2.20" fill="#3F9B7C" stroke="#2b2222" stroke-width="0.8"/>
<circle cx="711.60" cy="1480.32" r="2.20" fill="#3F9B7C" stroke="#2b2222" stroke-width="0.8"/>
<circle cx="728.20" cy="1474.01" r="2.20" fill="#3F9B7C" stroke="#2b2222" stroke-width="0.8"/>
<circle cx="735.18" cy="1473.68" r="2.20" fill="#3F9B7C" stroke="#2b2222" stroke-width="0.8"/>
<circle cx="680.72" cy="1498.26" r="2.20" fill="#3F9B7C" stroke="#2b2222" stroke-width="0.8"/>
<circle cx="692.34" cy="1510.87" r="2.20" fill="#3F9B7C" stroke="#2b2222" stroke-width="0.8"/>
<circle cx="710.93" cy="1517.18" r="2.20" fill="#3F9B7C" stroke="#2b2222" stroke-width="0.8"/>
<circle cx="700.64" cy="1524.16" r="2.20" fill="#3F9B7C" stroke="#2b2222" stroke-width="0.8"/>
<circle cx="903.53" cy="1288.72" r="2.20" fill="#E35A2A" stroke="#2b2222" stroke-width="0.8"/>
<circle cx="914.82" cy="1293.71" r="2.20" fill="#E35A2A" stroke="#2b2222" stroke-width="0.8"/>
<circle cx="920.13" cy="1293.04" r="2.20" fill="#E35A2A" stroke="#2b2222" stroke-width="0.8"/>
<circle cx="888.26" cy="1304.33" r="2.20" fill="#E35A2A" stroke="#2b2222" stroke-width="0.8"/>
<circle cx="886.26" cy="1315.62" r="2.20" fill="#E35A2A" stroke="#2b2222" stroke-width="0.8"/>
<circle cx="868.33" cy="1323.92" r="2.20" fill="#E35A2A" stroke="#2b2222" stroke-width="0.8"/>
<circle cx="900.21" cy="1319.27" r="2.20" fill="#E35A2A" stroke="#2b2222" stroke-width="0.8"/>
<circle cx="914.49" cy="1321.60" r="2.20" fill="#E35A2A" stroke="#2b2222" stroke-width="0.8"/>
<circle cx="896.22" cy="1330.23" r="2.20" fill="#E35A2A" stroke="#2b2222" stroke-width="0.8"/>
<circle cx="892.57" cy="1336.21" r="2.20" fill="#E35A2A" stroke="#2b2222" stroke-width="0.8"/>
<circle cx="886.93" cy="1351.15" r="2.20" fill="#E35A2A" stroke="#2b2222" stroke-width="0.8"/>
<circle cx="910.50" cy="1348.16" r="2.20" fill="#E35A2A" stroke="#2b2222" stroke-width="0.8"/>
<circle cx="871.32" cy="1359.12" r="2.20" fill="#E35A2A" stroke="#2b2222" stroke-width="0.8"/>
<circle cx="885.27" cy="1359.12" r="2.20" fill="#E35A2A" stroke="#2b2222" stroke-width="0.8"/>
<circle cx="920.46" cy="1357.79" r="2.20" fill="#E35A2A" stroke="#2b2222" stroke-width="0.8"/>
<circle cx="919.80" cy="1364.43" r="2.20" fill="#E35A2A" stroke="#2b2222" stroke-width="0.8"/>
<circle cx="859.37" cy="1370.74" r="2.20" fill="#E35A2A" stroke="#2b2222" stroke-width="0.8"/>
<circle cx="870.32" cy="1373.40" r="2.20" fill="#E35A2A" stroke="#2b2222" stroke-width="0.8"/>
<circle cx="892.24" cy="1369.75" r="2.20" fill="#E35A2A" stroke="#2b2222" stroke-width="0.8"/>
<circle cx="857.37" cy="1381.37" r="2.20" fill="#E35A2A" stroke="#2b2222" stroke-width="0.8"/>
<circle cx="867.00" cy="1381.37" r="2.20" fill="#E35A2A" stroke="#2b2222" stroke-width="0.8"/>
<circle cx="877.63" cy="1385.69" r="2.20" fill="#E35A2A" stroke="#2b2222" stroke-width="0.8"/>
<circle cx="881.95" cy="1387.35" r="2.20" fill="#E35A2A" stroke="#2b2222" stroke-width="0.8"/>
<circle cx="904.53" cy="1384.03" r="2.20" fill="#E35A2A" stroke="#2b2222" stroke-width="0.8"/>
<circle cx="911.83" cy="1382.37" r="2.20" fill="#E35A2A" stroke="#2b2222" stroke-width="0.8"/>
<circle cx="911.17" cy="1385.69" r="2.20" fill="#E35A2A" stroke="#2b2222" stroke-width="0.8"/>
<circle cx="859.03" cy="1388.68" r="2.20" fill="#E35A2A" stroke="#2b2222" stroke-width="0.8"/>
<circle cx="889.58" cy="1403.62" r="2.20" fill="#E35A2A" stroke="#2b2222" stroke-width="0.8"/>
<circle cx="918.47" cy="1409.93" r="2.20" fill="#E35A2A" stroke="#2b2222" stroke-width="0.8"/>
<circle cx="925.45" cy="1411.26" r="2.20" fill="#E35A2A" stroke="#2b2222" stroke-width="0.8"/>
<circle cx="893.57" cy="1416.90" r="2.20" fill="#E35A2A" stroke="#2b2222" stroke-width="0.8"/>
<circle cx="907.85" cy="1416.90" r="2.20" fill="#E35A2A" stroke="#2b2222" stroke-width="0.8"/>
<circle cx="896.22" cy="1422.88" r="2.20" fill="#E35A2A" stroke="#2b2222" stroke-width="0.8"/>
<circle cx="859.37" cy="1423.87" r="2.20" fill="#E35A2A" stroke="#2b2222" stroke-width="0.8"/>
<circle cx="858.70" cy="1428.85" r="2.20" fill="#E35A2A" stroke="#2b2222" stroke-width="0.8"/>
<circle cx="900.54" cy="1444.13" r="2.20" fill="#E35A2A" stroke="#2b2222" stroke-width="0.8"/>
<circle cx="905.19" cy="1447.12" r="2.20" fill="#E35A2A" stroke="#2b2222" stroke-width="0.8"/>
<circle cx="897.22" cy="1451.10" r="2.20" fill="#E35A2A" stroke="#2b2222" stroke-width="0.8"/>
<circle cx="918.14" cy="1450.44" r="2.20" fill="#E35A2A" stroke="#2b2222" stroke-width="0.8"/>
<circle cx="887.26" cy="1457.74" r="2.20" fill="#E35A2A" stroke="#2b2222" stroke-width="0.8"/>
<circle cx="863.68" cy="1465.38" r="2.20" fill="#E35A2A" stroke="#2b2222" stroke-width="0.8"/>
<circle cx="897.88" cy="1469.03" r="2.20" fill="#E35A2A" stroke="#2b2222" stroke-width="0.8"/>
<circle cx="872.98" cy="1474.01" r="2.20" fill="#E35A2A" stroke="#2b2222" stroke-width="0.8"/>
<circle cx="885.93" cy="1479.66" r="2.20" fill="#E35A2A" stroke="#2b2222" stroke-width="0.8"/>
<circle cx="909.51" cy="1476.34" r="2.20" fill="#E35A2A" stroke="#2b2222" stroke-width="0.8"/>
<circle cx="865.67" cy="1484.64" r="2.20" fill="#E35A2A" stroke="#2b2222" stroke-width="0.8"/>
<circle cx="876.30" cy="1487.96" r="2.20" fill="#E35A2A" stroke="#2b2222" stroke-width="0.8"/>
<circle cx="891.58" cy="1487.96" r="2.20" fill="#E35A2A" stroke="#2b2222" stroke-width="0.8"/>
<circle cx="921.79" cy="1486.30" r="2.20" fill="#E35A2A" stroke="#2b2222" stroke-width="0.8"/>
<circle cx="861.36" cy="1499.25" r="2.20" fill="#E35A2A" stroke="#2b2222" stroke-width="0.8"/>
<circle cx="888.92" cy="1508.55" r="2.20" fill="#E35A2A" stroke="#2b2222" stroke-width="0.8"/>
<circle cx="895.23" cy="1533.79" r="2.20" fill="#E35A2A" stroke="#2b2222" stroke-width="0.8"/>
<circle cx="904.19" cy="1532.13" r="2.20" fill="#E35A2A" stroke="#2b2222" stroke-width="0.8"/>
<circle cx="866.67" cy="1551.05" r="2.20" fill="#E35A2A" stroke="#2b2222" stroke-width="0.8"/>
<text x="1045.00" y="1167.85" font-size="30.00" font-weight="bold" fill="#000">F</text>
<line x1="1123.00" y1="1244.20" x2="1123.00" y2="1579.70" stroke="#111111" stroke-width="1.6"/>
<line x1="1122.40" y1="1579.10" x2="1503.50" y2="1579.10" stroke="#111111" stroke-width="1.6"/>
<line x1="1119.50" y1="1254.60" x2="1123.00" y2="1254.60" stroke="#111111" stroke-width="0.9"/>
<text transform="translate(1119.00,1258.66) scale(1.030,1.090)" font-size="10.80" text-anchor="end" font-weight="bold" fill="#333333">12</text>
<line x1="1119.50" y1="1343.60" x2="1123.00" y2="1343.60" stroke="#111111" stroke-width="0.9"/>
<text transform="translate(1119.00,1347.66) scale(1.030,1.090)" font-size="10.80" text-anchor="end" font-weight="bold" fill="#333333">9</text>
<line x1="1119.50" y1="1432.70" x2="1123.00" y2="1432.70" stroke="#111111" stroke-width="0.9"/>
<text transform="translate(1119.00,1436.76) scale(1.030,1.090)" font-size="10.80" text-anchor="end" font-weight="bold" fill="#333333">6</text>
<line x1="1119.50" y1="1521.30" x2="1123.00" y2="1521.30" stroke="#111111" stroke-width="0.9"/>
<text transform="translate(1119.00,1525.36) scale(1.030,1.090)" font-size="10.80" text-anchor="end" font-weight="bold" fill="#333333">3</text>
<line x1="1230.50" y1="1579.10" x2="1230.50" y2="1583.60" stroke="#111111" stroke-width="0.9"/>
<line x1="1409.50" y1="1579.10" x2="1409.50" y2="1583.60" stroke="#111111" stroke-width="0.9"/>
<text transform="translate(1236.50,1604.94) scale(1.030,1.090)" font-size="14.20" text-anchor="middle" fill="#333">Low-Score</text>
<text transform="translate(1415.50,1604.94) scale(1.030,1.090)" font-size="14.20" text-anchor="middle" fill="#333">High-Score</text>
<text transform="translate(1312.80,1638.32) scale(1.030,1.090)" font-size="20.80" text-anchor="middle" fill="#111">MHPS</text>
<text transform="translate(1093.12,1403.80) rotate(-90) scale(1.030,1.090)" font-size="20.80" text-anchor="middle" fill="#111">CTLA4</text>
<text transform="translate(1451.50,1197.61) scale(1.030,1.090)" font-size="17.30" fill="#111">MHPS</text>
<line x1="1463.60" y1="1209.00" x2="1463.60" y2="1226.60" stroke="#555" stroke-width="0.7"/>
<rect x="1451.50" y="1212.00" width="24.20" height="11.60" fill="#34A884" stroke="#2b2222" stroke-width="1.0"/>
<line x1="1451.50" y1="1217.80" x2="1475.70" y2="1217.80" stroke="#2b2222" stroke-width="0.9"/>
<circle cx="1463.60" cy="1217.80" r="2.40" fill="#34A884" stroke="#2b2222" stroke-width="1.0"/>
<line x1="1463.60" y1="1231.80" x2="1463.60" y2="1249.40" stroke="#555" stroke-width="0.7"/>
<rect x="1451.50" y="1234.80" width="24.20" height="11.60" fill="#EE5A22" stroke="#2b2222" stroke-width="1.0"/>
<line x1="1451.50" y1="1240.60" x2="1475.70" y2="1240.60" stroke="#2b2222" stroke-width="0.9"/>
<circle cx="1463.60" cy="1240.60" r="2.40" fill="#EE5A22" stroke="#2b2222" stroke-width="1.0"/>
<text transform="translate(1480.50,1223.14) scale(1.030,1.090)" font-size="14.20" fill="#222">Low-Score</text>
<text transform="translate(1480.50,1245.94) scale(1.030,1.090)" font-size="14.20" fill="#222">High-Score</text>
<polyline points="1230.50,1279.40 1230.50,1271.80 1409.50,1271.80 1409.50,1279.40" fill="none" stroke="#666" stroke-width="1.0"/>
<text transform="translate(1309.40,1268.64) scale(1.030,1.090)" font-size="14.20" text-anchor="middle" fill="#333">2e-11</text>
<line x1="1230.50" y1="1297.30" x2="1230.50" y2="1346.70" stroke="#2b2222" stroke-width="1.1"/>
<line x1="1230.50" y1="1384.60" x2="1230.50" y2="1435.70" stroke="#2b2222" stroke-width="1.1"/>
<rect x="1167.60" y="1346.70" width="125.70" height="37.90" fill="#83B89E" stroke="#2b2222" stroke-width="1.3"/>
<line x1="1167.60" y1="1365.50" x2="1293.30" y2="1365.50" stroke="#2b2222" stroke-width="1.3"/>
<line x1="1409.50" y1="1327.20" x2="1409.50" y2="1398.00" stroke="#2b2222" stroke-width="1.1"/>
<line x1="1409.50" y1="1461.20" x2="1409.50" y2="1550.60" stroke="#2b2222" stroke-width="1.1"/>
<rect x="1346.40" y="1398.00" width="125.60" height="63.20" fill="#DD4C14" stroke="#2b2222" stroke-width="1.3"/>
<line x1="1346.40" y1="1415.50" x2="1472.00" y2="1415.50" stroke="#2b2222" stroke-width="1.3"/>
<circle cx="1263.38" cy="1285.19" r="2.20" fill="#3F9B7C" stroke="#2b2222" stroke-width="0.8"/>
<circle cx="1206.27" cy="1296.95" r="2.20" fill="#3F9B7C" stroke="#2b2222" stroke-width="0.8"/>
<circle cx="1202.24" cy="1315.42" r="2.20" fill="#3F9B7C" stroke="#2b2222" stroke-width="0.8"/>
<circle cx="1225.76" cy="1318.44" r="2.20" fill="#3F9B7C" stroke="#2b2222" stroke-width="0.8"/>
<circle cx="1222.06" cy="1323.15" r="2.20" fill="#3F9B7C" stroke="#2b2222" stroke-width="0.8"/>
<circle cx="1215.68" cy="1325.16" r="2.20" fill="#3F9B7C" stroke="#2b2222" stroke-width="0.8"/>
<circle cx="1236.17" cy="1327.51" r="2.20" fill="#3F9B7C" stroke="#2b2222" stroke-width="0.8"/>
<circle cx="1240.20" cy="1331.55" r="2.20" fill="#3F9B7C" stroke="#2b2222" stroke-width="0.8"/>
<circle cx="1224.08" cy="1330.87" r="2.20" fill="#3F9B7C" stroke="#2b2222" stroke-width="0.8"/>
<circle cx="1226.43" cy="1331.55" r="2.20" fill="#3F9B7C" stroke="#2b2222" stroke-width="0.8"/>
<circle cx="1248.26" cy="1318.44" r="2.20" fill="#3F9B7C" stroke="#2b2222" stroke-width="0.8"/>
<circle cx="1204.60" cy="1337.26" r="2.20" fill="#3F9B7C" stroke="#2b2222" stroke-width="0.8"/>
<circle cx="1221.73" cy="1337.26" r="2.20" fill="#3F9B7C" stroke="#2b2222" stroke-width="0.8"/>
<circle cx="1224.08" cy="1339.27" r="2.20" fill="#3F9B7C" stroke="#2b2222" stroke-width="0.8"/>
<circle cx="1237.85" cy="1335.24" r="2.20" fill="#3F9B7C" stroke="#2b2222" stroke-width="0.8"/>
<circle cx="1255.65" cy="1337.26" r="2.20" fill="#3F9B7C" stroke="#2b2222" stroke-width="0.8"/>
<circle cx="1197.88" cy="1346.66" r="2.20" fill="#3F9B7C" stroke="#2b2222" stroke-width="0.8"/>
<circle cx="1207.95" cy="1345.65" r="2.20" fill="#3F9B7C" stroke="#2b2222" stroke-width="0.8"/>
<circle cx="1202.92" cy="1348.34" r="2.20" fill="#3F9B7C" stroke="#2b2222" stroke-width="0.8"/>
<circle cx="1205.60" cy="1350.02" r="2.20" fill="#3F9B7C" stroke="#2b2222" stroke-width="0.8"/>
<circle cx="1232.48" cy="1343.64" r="2.20" fill="#3F9B7C" stroke="#2b2222" stroke-width="0.8"/>
<circle cx="1265.06" cy="1343.64" r="2.20" fill="#3F9B7C" stroke="#2b2222" stroke-width="0.8"/>
<circle cx="1206.95" cy="1354.05" r="2.20" fill="#3F9B7C" stroke="#2b2222" stroke-width="0.8"/>
<circle cx="1212.32" cy="1353.38" r="2.20" fill="#3F9B7C" stroke="#2b2222" stroke-width="0.8"/>
<circle cx="1222.40" cy="1350.69" r="2.20" fill="#3F9B7C" stroke="#2b2222" stroke-width="0.8"/>
<circle cx="1227.44" cy="1354.39" r="2.20" fill="#3F9B7C" stroke="#2b2222" stroke-width="0.8"/>
<circle cx="1234.16" cy="1356.07" r="2.20" fill="#3F9B7C" stroke="#2b2222" stroke-width="0.8"/>
<circle cx="1238.86" cy="1356.07" r="2.20" fill="#3F9B7C" stroke="#2b2222" stroke-width="0.8"/>
<circle cx="1249.94" cy="1351.70" r="2.20" fill="#3F9B7C" stroke="#2b2222" stroke-width="0.8"/>
<circle cx="1261.03" cy="1356.07" r="2.20" fill="#3F9B7C" stroke="#2b2222" stroke-width="0.8"/>
<circle cx="1194.85" cy="1364.46" r="2.20" fill="#3F9B7C" stroke="#2b2222" stroke-width="0.8"/>
<circle cx="1214.67" cy="1361.78" r="2.20" fill="#3F9B7C" stroke="#2b2222" stroke-width="0.8"/>
<circle cx="1218.03" cy="1359.43" r="2.20" fill="#3F9B7C" stroke="#2b2222" stroke-width="0.8"/>
<circle cx="1220.38" cy="1358.42" r="2.20" fill="#3F9B7C" stroke="#2b2222" stroke-width="0.8"/>
<circle cx="1231.47" cy="1363.46" r="2.20" fill="#3F9B7C" stroke="#2b2222" stroke-width="0.8"/>
<circle cx="1240.87" cy="1362.78" r="2.20" fill="#3F9B7C" stroke="#2b2222" stroke-width="0.8"/>
<circle cx="1243.90" cy="1367.15" r="2.20" fill="#3F9B7C" stroke="#2b2222" stroke-width="0.8"/>
<circle cx="1248.94" cy="1366.82" r="2.20" fill="#3F9B7C" stroke="#2b2222" stroke-width="0.8"/>
<circle cx="1252.63" cy="1366.82" r="2.20" fill="#3F9B7C" stroke="#2b2222" stroke-width="0.8"/>
<circle cx="1265.06" cy="1362.11" r="2.20" fill="#3F9B7C" stroke="#2b2222" stroke-width="0.8"/>
<circle cx="1201.24" cy="1370.85" r="2.20" fill="#3F9B7C" stroke="#2b2222" stroke-width="0.8"/>
<circle cx="1208.29" cy="1369.50" r="2.20" fill="#3F9B7C" stroke="#2b2222" stroke-width="0.8"/>
<circle cx="1215.68" cy="1370.85" r="2.20" fill="#3F9B7C" stroke="#2b2222" stroke-width="0.8"/>
<circle cx="1221.73" cy="1369.84" r="2.20" fill="#3F9B7C" stroke="#2b2222" stroke-width="0.8"/>
<circle cx="1232.81" cy="1374.21" r="2.20" fill="#3F9B7C" stroke="#2b2222" stroke-width="0.8"/>
<circle cx="1250.61" cy="1371.85" r="2.20" fill="#3F9B7C" stroke="#2b2222" stroke-width="0.8"/>
<circle cx="1257.33" cy="1372.53" r="2.20" fill="#3F9B7C" stroke="#2b2222" stroke-width="0.8"/>
<circle cx="1258.68" cy="1375.55" r="2.20" fill="#3F9B7C" stroke="#2b2222" stroke-width="0.8"/>
<circle cx="1196.53" cy="1377.56" r="2.20" fill="#3F9B7C" stroke="#2b2222" stroke-width="0.8"/>
<circle cx="1211.65" cy="1381.60" r="2.20" fill="#3F9B7C" stroke="#2b2222" stroke-width="0.8"/>
<circle cx="1215.34" cy="1383.28" r="2.20" fill="#3F9B7C" stroke="#2b2222" stroke-width="0.8"/>
<circle cx="1223.74" cy="1382.27" r="2.20" fill="#3F9B7C" stroke="#2b2222" stroke-width="0.8"/>
<circle cx="1227.44" cy="1384.28" r="2.20" fill="#3F9B7C" stroke="#2b2222" stroke-width="0.8"/>
<circle cx="1240.20" cy="1385.29" r="2.20" fill="#3F9B7C" stroke="#2b2222" stroke-width="0.8"/>
<circle cx="1242.89" cy="1387.31" r="2.20" fill="#3F9B7C" stroke="#2b2222" stroke-width="0.8"/>
<circle cx="1250.95" cy="1387.98" r="2.20" fill="#3F9B7C" stroke="#2b2222" stroke-width="0.8"/>
<circle cx="1256.33" cy="1382.94" r="2.20" fill="#3F9B7C" stroke="#2b2222" stroke-width="0.8"/>
<circle cx="1265.73" cy="1380.92" r="2.20" fill="#3F9B7C" stroke="#2b2222" stroke-width="0.8"/>
<circle cx="1194.18" cy="1392.34" r="2.20" fill="#3F9B7C" stroke="#2b2222" stroke-width="0.8"/>
<circle cx="1225.09" cy="1387.98" r="2.20" fill="#3F9B7C" stroke="#2b2222" stroke-width="0.8"/>
<circle cx="1230.46" cy="1393.35" r="2.20" fill="#3F9B7C" stroke="#2b2222" stroke-width="0.8"/>
<circle cx="1219.71" cy="1396.04" r="2.20" fill="#3F9B7C" stroke="#2b2222" stroke-width="0.8"/>
<circle cx="1241.88" cy="1399.40" r="2.20" fill="#3F9B7C" stroke="#2b2222" stroke-width="0.8"/>
<circle cx="1225.76" cy="1400.07" r="2.20" fill="#3F9B7C" stroke="#2b2222" stroke-width="0.8"/>
<circle cx="1239.19" cy="1406.12" r="2.20" fill="#3F9B7C" stroke="#2b2222" stroke-width="0.8"/>
<circle cx="1230.80" cy="1410.82" r="2.20" fill="#3F9B7C" stroke="#2b2222" stroke-width="0.8"/>
<circle cx="1232.48" cy="1417.20" r="2.20" fill="#3F9B7C" stroke="#2b2222" stroke-width="0.8"/>
<circle cx="1230.12" cy="1417.54" r="2.20" fill="#3F9B7C" stroke="#2b2222" stroke-width="0.8"/>
<circle cx="1247.26" cy="1424.59" r="2.20" fill="#3F9B7C" stroke="#2b2222" stroke-width="0.8"/>
<circle cx="1220.72" cy="1427.95" r="2.20" fill="#3F9B7C" stroke="#2b2222" stroke-width="0.8"/>
<circle cx="1219.38" cy="1432.65" r="2.20" fill="#3F9B7C" stroke="#2b2222" stroke-width="0.8"/>
<circle cx="1228.11" cy="1435.34" r="2.20" fill="#3F9B7C" stroke="#2b2222" stroke-width="0.8"/>
<circle cx="1247.26" cy="1459.86" r="2.20" fill="#3F9B7C" stroke="#2b2222" stroke-width="0.8"/>
<circle cx="1225.76" cy="1472.96" r="2.20" fill="#3F9B7C" stroke="#2b2222" stroke-width="0.8"/>
<circle cx="1225.09" cy="1478.34" r="2.20" fill="#3F9B7C" stroke="#2b2222" stroke-width="0.8"/>
<circle cx="1253.97" cy="1491.77" r="2.20" fill="#3F9B7C" stroke="#2b2222" stroke-width="0.8"/>
<circle cx="1427.97" cy="1326.84" r="2.20" fill="#E35A2A" stroke="#2b2222" stroke-width="0.8"/>
<circle cx="1423.27" cy="1337.59" r="2.20" fill="#E35A2A" stroke="#2b2222" stroke-width="0.8"/>
<circle cx="1415.55" cy="1350.02" r="2.20" fill="#E35A2A" stroke="#2b2222" stroke-width="0.8"/>
<circle cx="1433.01" cy="1352.37" r="2.20" fill="#E35A2A" stroke="#2b2222" stroke-width="0.8"/>
<circle cx="1438.72" cy="1365.81" r="2.20" fill="#E35A2A" stroke="#2b2222" stroke-width="0.8"/>
<circle cx="1376.24" cy="1373.20" r="2.20" fill="#E35A2A" stroke="#2b2222" stroke-width="0.8"/>
<circle cx="1395.06" cy="1382.94" r="2.20" fill="#E35A2A" stroke="#2b2222" stroke-width="0.8"/>
<circle cx="1407.48" cy="1377.90" r="2.20" fill="#E35A2A" stroke="#2b2222" stroke-width="0.8"/>
<circle cx="1421.93" cy="1384.95" r="2.20" fill="#E35A2A" stroke="#2b2222" stroke-width="0.8"/>
<circle cx="1440.74" cy="1378.24" r="2.20" fill="#E35A2A" stroke="#2b2222" stroke-width="0.8"/>
<circle cx="1439.06" cy="1389.99" r="2.20" fill="#E35A2A" stroke="#2b2222" stroke-width="0.8"/>
<circle cx="1380.95" cy="1393.69" r="2.20" fill="#E35A2A" stroke="#2b2222" stroke-width="0.8"/>
<circle cx="1383.30" cy="1396.04" r="2.20" fill="#E35A2A" stroke="#2b2222" stroke-width="0.8"/>
<circle cx="1379.60" cy="1399.40" r="2.20" fill="#E35A2A" stroke="#2b2222" stroke-width="0.8"/>
<circle cx="1405.13" cy="1397.38" r="2.20" fill="#E35A2A" stroke="#2b2222" stroke-width="0.8"/>
<circle cx="1410.51" cy="1400.07" r="2.20" fill="#E35A2A" stroke="#2b2222" stroke-width="0.8"/>
<circle cx="1443.09" cy="1399.73" r="2.20" fill="#E35A2A" stroke="#2b2222" stroke-width="0.8"/>
<circle cx="1376.24" cy="1408.47" r="2.20" fill="#E35A2A" stroke="#2b2222" stroke-width="0.8"/>
<circle cx="1388.00" cy="1407.12" r="2.20" fill="#E35A2A" stroke="#2b2222" stroke-width="0.8"/>
<circle cx="1407.15" cy="1407.12" r="2.20" fill="#E35A2A" stroke="#2b2222" stroke-width="0.8"/>
<circle cx="1412.19" cy="1403.09" r="2.20" fill="#E35A2A" stroke="#2b2222" stroke-width="0.8"/>
<circle cx="1413.53" cy="1407.46" r="2.20" fill="#E35A2A" stroke="#2b2222" stroke-width="0.8"/>
<circle cx="1418.90" cy="1406.12" r="2.20" fill="#E35A2A" stroke="#2b2222" stroke-width="0.8"/>
<circle cx="1428.98" cy="1404.77" r="2.20" fill="#E35A2A" stroke="#2b2222" stroke-width="0.8"/>
<circle cx="1394.38" cy="1413.84" r="2.20" fill="#E35A2A" stroke="#2b2222" stroke-width="0.8"/>
<circle cx="1414.54" cy="1415.19" r="2.20" fill="#E35A2A" stroke="#2b2222" stroke-width="0.8"/>
<circle cx="1422.26" cy="1414.85" r="2.20" fill="#E35A2A" stroke="#2b2222" stroke-width="0.8"/>
<circle cx="1430.66" cy="1415.52" r="2.20" fill="#E35A2A" stroke="#2b2222" stroke-width="0.8"/>
<circle cx="1433.68" cy="1415.86" r="2.20" fill="#E35A2A" stroke="#2b2222" stroke-width="0.8"/>
<circle cx="1403.79" cy="1418.88" r="2.20" fill="#E35A2A" stroke="#2b2222" stroke-width="0.8"/>
<circle cx="1403.79" cy="1424.93" r="2.20" fill="#E35A2A" stroke="#2b2222" stroke-width="0.8"/>
<circle cx="1413.19" cy="1423.25" r="2.20" fill="#E35A2A" stroke="#2b2222" stroke-width="0.8"/>
<circle cx="1399.09" cy="1428.29" r="2.20" fill="#E35A2A" stroke="#2b2222" stroke-width="0.8"/>
<circle cx="1437.72" cy="1423.92" r="2.20" fill="#E35A2A" stroke="#2b2222" stroke-width="0.8"/>
<circle cx="1418.90" cy="1438.36" r="2.20" fill="#E35A2A" stroke="#2b2222" stroke-width="0.8"/>
<circle cx="1385.99" cy="1447.43" r="2.20" fill="#E35A2A" stroke="#2b2222" stroke-width="0.8"/>
<circle cx="1384.31" cy="1449.45" r="2.20" fill="#E35A2A" stroke="#2b2222" stroke-width="0.8"/>
<circle cx="1405.47" cy="1448.44" r="2.20" fill="#E35A2A" stroke="#2b2222" stroke-width="0.8"/>
<circle cx="1409.50" cy="1446.76" r="2.20" fill="#E35A2A" stroke="#2b2222" stroke-width="0.8"/>
<circle cx="1377.59" cy="1472.96" r="2.20" fill="#E35A2A" stroke="#2b2222" stroke-width="0.8"/>
<circle cx="1376.92" cy="1476.66" r="2.20" fill="#E35A2A" stroke="#2b2222" stroke-width="0.8"/>
<circle cx="1429.65" cy="1472.96" r="2.20" fill="#E35A2A" stroke="#2b2222" stroke-width="0.8"/>
<circle cx="1436.71" cy="1476.32" r="2.20" fill="#E35A2A" stroke="#2b2222" stroke-width="0.8"/>
<circle cx="1409.50" cy="1480.35" r="2.20" fill="#E35A2A" stroke="#2b2222" stroke-width="0.8"/>
<circle cx="1374.90" cy="1486.73" r="2.20" fill="#E35A2A" stroke="#2b2222" stroke-width="0.8"/>
<circle cx="1426.29" cy="1491.77" r="2.20" fill="#E35A2A" stroke="#2b2222" stroke-width="0.8"/>
<circle cx="1383.63" cy="1500.84" r="2.20" fill="#E35A2A" stroke="#2b2222" stroke-width="0.8"/>
<circle cx="1422.26" cy="1497.48" r="2.20" fill="#E35A2A" stroke="#2b2222" stroke-width="0.8"/>
<circle cx="1391.02" cy="1507.90" r="2.20" fill="#E35A2A" stroke="#2b2222" stroke-width="0.8"/>
<circle cx="1438.72" cy="1507.90" r="2.20" fill="#E35A2A" stroke="#2b2222" stroke-width="0.8"/>
<circle cx="1406.81" cy="1511.93" r="2.20" fill="#E35A2A" stroke="#2b2222" stroke-width="0.8"/>
<circle cx="1410.84" cy="1516.29" r="2.20" fill="#E35A2A" stroke="#2b2222" stroke-width="0.8"/>
<circle cx="1389.68" cy="1550.89" r="2.20" fill="#E35A2A" stroke="#2b2222" stroke-width="0.8"/>
<text x="98.30" y="1712.35" font-size="30.00" font-weight="bold" fill="#000">G</text>
<rect x="184.60" y="1719.50" width="13.10" height="12.90" fill="#6BC4D8" stroke="#333" stroke-width="0.8"/>
<text transform="translate(201.80,1731.72) scale(1.000,0.950)" font-size="14.40" fill="#111">SD/PD</text>
<rect x="275.90" y="1719.50" width="12.80" height="12.90" fill="#F4A521" stroke="#333" stroke-width="0.8"/>
<text transform="translate(293.30,1731.72) scale(1.000,0.950)" font-size="14.40" fill="#111">CR/PR</text>
<rect x="154.30" y="1741.60" width="205.70" height="329.20" fill="#fff" stroke="#222" stroke-width="1.5"/>
<text transform="translate(152.40,2057.58) scale(1.000,0.950)" font-size="10.00" text-anchor="end" font-weight="bold" fill="#444">0%</text>
<text transform="translate(152.40,2027.30) scale(1.000,0.950)" font-size="10.00" text-anchor="end" font-weight="bold" fill="#444">10%</text>
<text transform="translate(152.40,1997.02) scale(1.000,0.950)" font-size="10.00" text-anchor="end" font-weight="bold" fill="#444">20%</text>
<text transform="translate(152.40,1966.74) scale(1.000,0.950)" font-size="10.00" text-anchor="end" font-weight="bold" fill="#444">30%</text>
<text transform="translate(152.40,1936.46) scale(1.000,0.950)" font-size="10.00" text-anchor="end" font-weight="bold" fill="#444">40%</text>
<text transform="translate(152.40,1906.18) scale(1.000,0.950)" font-size="10.00" text-anchor="end" font-weight="bold" fill="#444">50%</text>
<text transform="translate(152.40,1875.90) scale(1.000,0.950)" font-size="10.00" text-anchor="end" font-weight="bold" fill="#444">60%</text>
<text transform="translate(152.40,1845.62) scale(1.000,0.950)" font-size="10.00" text-anchor="end" font-weight="bold" fill="#444">70%</text>
<text transform="translate(152.40,1815.34) scale(1.000,0.950)" font-size="10.00" text-anchor="end" font-weight="bold" fill="#444">80%</text>
<text transform="translate(152.40,1785.06) scale(1.000,0.950)" font-size="10.00" text-anchor="end" font-weight="bold" fill="#444">90%</text>
<text transform="translate(152.40,1754.78) scale(1.000,0.950)" font-size="10.00" text-anchor="end" font-weight="bold" fill="#444">100%</text>
<rect x="165.50" y="1753.10" width="85.80" height="256.10" fill="#6BC4D8" stroke="#333" stroke-width="0.7"/>
<rect x="165.50" y="2010.60" width="85.80" height="45.30" fill="#F4A521" stroke="#333" stroke-width="0.7"/>
<line x1="165.50" y1="2009.60" x2="251.30" y2="2009.60" stroke="#999" stroke-width="1.2"/>
<rect x="260.70" y="1753.10" width="86.00" height="214.90" fill="#6BC4D8" stroke="#333" stroke-width="0.7"/>
<rect x="260.70" y="1969.40" width="86.00" height="86.50" fill="#F4A521" stroke="#333" stroke-width="0.7"/>
<line x1="260.70" y1="1968.60" x2="346.70" y2="1968.60" stroke="#999" stroke-width="1.2"/>
<text transform="translate(209.90,1896.38) scale(1.000,0.950)" font-size="10.30" text-anchor="middle" font-weight="bold" fill="#fff">85%</text>
<text transform="translate(209.90,2036.28) scale(1.000,0.950)" font-size="10.30" text-anchor="middle" font-weight="bold" fill="#fff">15%</text>
<text transform="translate(301.80,1855.78) scale(1.000,0.950)" font-size="10.30" text-anchor="middle" font-weight="bold" fill="#fff">71%</text>
<text transform="translate(301.80,2018.38) scale(1.000,0.950)" font-size="10.30" text-anchor="middle" font-weight="bold" fill="#fff">29%</text>
<text transform="translate(254.70,2067.44) scale(1.000,0.950)" font-size="10.50" text-anchor="middle" font-weight="bold" fill="#222">p =5.94e-03</text>
<text transform="translate(208.70,2090.39) scale(1.000,0.950)" font-size="14.30" text-anchor="middle" fill="#333">High-Score</text>
<text transform="translate(303.00,2090.39) scale(1.000,0.950)" font-size="14.30" text-anchor="middle" fill="#333">Low-Score</text>
<text x="537.50" y="1712.55" font-size="30.00" font-weight="bold" fill="#000">H</text>
<text transform="translate(649.30,1728.66) scale(1.000,1.020)" font-size="13.80" fill="#111">MHPS</text>
<line x1="700.80" y1="1723.50" x2="720.70" y2="1723.50" stroke="#1F68B8" stroke-width="2.6"/>
<line x1="709.70" y1="1720.00" x2="709.70" y2="1727.00" stroke="#1F68B8" stroke-width="1.2"/>
<text transform="translate(725.90,1727.28) scale(1.000,1.020)" font-size="9.90" font-weight="bold" fill="#222">Low-Score</text>
<line x1="815.70" y1="1723.50" x2="835.60" y2="1723.50" stroke="#BF2A25" stroke-width="2.6"/>
<line x1="824.60" y1="1720.00" x2="824.60" y2="1727.00" stroke="#BF2A25" stroke-width="1.2"/>
<text transform="translate(840.80,1727.28) scale(1.000,1.020)" font-size="9.90" font-weight="bold" fill="#222">High-Score</text>
<line x1="606.70" y1="1745.00" x2="606.70" y2="1979.50" stroke="#111111" stroke-width="1.6"/>
<line x1="606.10" y1="1978.90" x2="962.80" y2="1978.90" stroke="#111111" stroke-width="1.6"/>
<line x1="603.50" y1="1755.10" x2="606.70" y2="1755.10" stroke="#111111" stroke-width="0.9"/>
<text transform="translate(602.50,1758.76) scale(1.000,1.020)" font-size="10.40" text-anchor="end" font-weight="bold" fill="#333">1.00</text>
<line x1="603.50" y1="1808.70" x2="606.70" y2="1808.70" stroke="#111111" stroke-width="0.9"/>
<text transform="translate(602.50,1812.36) scale(1.000,1.020)" font-size="10.40" text-anchor="end" font-weight="bold" fill="#333">0.75</text>
<line x1="603.50" y1="1862.00" x2="606.70" y2="1862.00" stroke="#111111" stroke-width="0.9"/>
<text transform="translate(602.50,1865.66) scale(1.000,1.020)" font-size="10.40" text-anchor="end" font-weight="bold" fill="#333">0.50</text>
<line x1="603.50" y1="1915.10" x2="606.70" y2="1915.10" stroke="#111111" stroke-width="0.9"/>
<text transform="translate(602.50,1918.76) scale(1.000,1.020)" font-size="10.40" text-anchor="end" font-weight="bold" fill="#333">0.25</text>
<line x1="603.50" y1="1968.10" x2="606.70" y2="1968.10" stroke="#111111" stroke-width="0.9"/>
<text transform="translate(602.50,1971.76) scale(1.000,1.020)" font-size="10.40" text-anchor="end" font-weight="bold" fill="#333">0.00</text>
<line x1="623.20" y1="1978.90" x2="623.20" y2="1982.50" stroke="#111111" stroke-width="0.9"/>
<text transform="translate(623.20,1991.66) scale(1.000,1.020)" font-size="10.40" text-anchor="middle" font-weight="bold" fill="#333">0</text>
<line x1="687.90" y1="1978.90" x2="687.90" y2="1982.50" stroke="#111111" stroke-width="0.9"/>
<text transform="translate(687.90,1991.66) scale(1.000,1.020)" font-size="10.40" text-anchor="middle" font-weight="bold" fill="#333">5</text>
<line x1="752.40" y1="1978.90" x2="752.40" y2="1982.50" stroke="#111111" stroke-width="0.9"/>
<text transform="translate(752.40,1991.66) scale(1.000,1.020)" font-size="10.40" text-anchor="middle" font-weight="bold" fill="#333">10</text>
<line x1="817.20" y1="1978.90" x2="817.20" y2="1982.50" stroke="#111111" stroke-width="0.9"/>
<text transform="translate(817.20,1991.66) scale(1.000,1.020)" font-size="10.40" text-anchor="middle" font-weight="bold" fill="#333">15</text>
<line x1="881.60" y1="1978.90" x2="881.60" y2="1982.50" stroke="#111111" stroke-width="0.9"/>
<text transform="translate(881.60,1991.66) scale(1.000,1.020)" font-size="10.40" text-anchor="middle" font-weight="bold" fill="#333">20</text>
<line x1="946.30" y1="1978.90" x2="946.30" y2="1982.50" stroke="#111111" stroke-width="0.9"/>
<text transform="translate(946.30,1991.66) scale(1.000,1.020)" font-size="10.40" text-anchor="middle" font-weight="bold" fill="#333">25</text>
<text transform="translate(806.50,2004.43) scale(1.000,1.020)" font-size="14.30" text-anchor="middle" fill="#111">Time(months)</text>
<text transform="translate(562.26,1867.00) rotate(-90) scale(1.000,1.020)" font-size="17.80" text-anchor="middle" fill="#111">Survival probability</text>
<polyline points="622.99,1754.25 641.38,1754.25 641.38,1754.25 642.53,1754.25 642.53,1757.24 648.28,1757.24 648.28,1759.54 650.57,1759.54 650.57,1761.84 652.87,1761.84 652.87,1765.29 656.32,1765.29 656.32,1768.74 658.62,1768.74 658.62,1774.48 662.07,1774.48 662.07,1776.78 666.67,1776.78 666.67,1777.93 668.97,1777.93 668.97,1782.53 672.41,1782.53 672.41,1785.98 674.71,1785.98 674.71,1790.57 678.16,1790.57 678.16,1795.17 681.61,1795.17 681.61,1799.77 685.06,1799.77 685.06,1802.07 689.66,1802.07 689.66,1804.37 694.25,1804.37 694.25,1806.67 696.55,1806.67 696.55,1810.11 701.15,1810.11 701.15,1813.56 704.60,1813.56 704.60,1817.01 706.90,1817.01 706.90,1820.46 710.34,1820.46 710.34,1825.06 713.79,1825.06 713.79,1827.36 718.39,1827.36 718.39,1830.80 724.14,1830.80 724.14,1834.25 728.74,1834.25 728.74,1836.55 737.93,1836.55 737.93,1836.55 741.38,1836.55 741.38,1840.00 747.13,1840.00 747.13,1843.45 754.02,1843.45 754.02,1844.60 760.92,1844.60 760.92,1846.90 770.11,1846.90 770.11,1850.34 774.71,1850.34 774.71,1851.49 783.91,1851.49 783.91,1852.64 788.51,1852.64 788.51,1856.09 793.10,1856.09 793.10,1857.24 802.30,1857.24 802.30,1858.39 816.09,1858.39 816.09,1859.54 820.69,1859.54 820.69,1861.84 822.99,1861.84 822.99,1865.29 829.89,1865.29 829.89,1868.74 834.48,1868.74 834.48,1872.18 839.08,1872.18 839.08,1873.33 843.68,1873.33 843.68,1875.63 855.17,1875.63 855.17,1876.78 896.55,1876.78 896.55,1876.78 896.55,1876.78 896.55,1885.29 929.89,1885.29 929.89,1885.29" fill="none" stroke="#1F68B8" stroke-width="2.1" stroke-linejoin="miter"/>
<line x1="620.69" y1="1754.25" x2="625.29" y2="1754.25" stroke="#1F68B8" stroke-width="1.0"/>
<line x1="622.99" y1="1751.65" x2="622.99" y2="1756.85" stroke="#1F68B8" stroke-width="1.0"/>
<line x1="689.65" y1="1804.37" x2="694.25" y2="1804.37" stroke="#1F68B8" stroke-width="1.0"/>
<line x1="691.95" y1="1801.77" x2="691.95" y2="1806.97" stroke="#1F68B8" stroke-width="1.0"/>
<line x1="733.33" y1="1836.55" x2="737.93" y2="1836.55" stroke="#1F68B8" stroke-width="1.0"/>
<line x1="735.63" y1="1833.95" x2="735.63" y2="1839.15" stroke="#1F68B8" stroke-width="1.0"/>
<line x1="783.91" y1="1852.64" x2="788.51" y2="1852.64" stroke="#1F68B8" stroke-width="1.0"/>
<line x1="786.21" y1="1850.04" x2="786.21" y2="1855.24" stroke="#1F68B8" stroke-width="1.0"/>
<line x1="800.00" y1="1858.39" x2="804.60" y2="1858.39" stroke="#1F68B8" stroke-width="1.0"/>
<line x1="802.30" y1="1855.79" x2="802.30" y2="1860.99" stroke="#1F68B8" stroke-width="1.0"/>
<line x1="810.34" y1="1858.39" x2="814.94" y2="1858.39" stroke="#1F68B8" stroke-width="1.0"/>
<line x1="812.64" y1="1855.79" x2="812.64" y2="1860.99" stroke="#1F68B8" stroke-width="1.0"/>
<line x1="819.54" y1="1861.84" x2="824.14" y2="1861.84" stroke="#1F68B8" stroke-width="1.0"/>
<line x1="821.84" y1="1859.24" x2="821.84" y2="1864.44" stroke="#1F68B8" stroke-width="1.0"/>
<line x1="834.48" y1="1872.18" x2="839.08" y2="1872.18" stroke="#1F68B8" stroke-width="1.0"/>
<line x1="836.78" y1="1869.58" x2="836.78" y2="1874.78" stroke="#1F68B8" stroke-width="1.0"/>
<line x1="837.93" y1="1873.33" x2="842.53" y2="1873.33" stroke="#1F68B8" stroke-width="1.0"/>
<line x1="840.23" y1="1870.73" x2="840.23" y2="1875.93" stroke="#1F68B8" stroke-width="1.0"/>
<line x1="855.17" y1="1876.78" x2="859.77" y2="1876.78" stroke="#1F68B8" stroke-width="1.0"/>
<line x1="857.47" y1="1874.18" x2="857.47" y2="1879.38" stroke="#1F68B8" stroke-width="1.0"/>
<line x1="862.07" y1="1876.78" x2="866.67" y2="1876.78" stroke="#1F68B8" stroke-width="1.0"/>
<line x1="864.37" y1="1874.18" x2="864.37" y2="1879.38" stroke="#1F68B8" stroke-width="1.0"/>
<line x1="864.37" y1="1876.78" x2="868.97" y2="1876.78" stroke="#1F68B8" stroke-width="1.0"/>
<line x1="866.67" y1="1874.18" x2="866.67" y2="1879.38" stroke="#1F68B8" stroke-width="1.0"/>
<line x1="867.81" y1="1876.78" x2="872.41" y2="1876.78" stroke="#1F68B8" stroke-width="1.0"/>
<line x1="870.11" y1="1874.18" x2="870.11" y2="1879.38" stroke="#1F68B8" stroke-width="1.0"/>
<line x1="870.11" y1="1876.78" x2="874.71" y2="1876.78" stroke="#1F68B8" stroke-width="1.0"/>
<line x1="872.41" y1="1874.18" x2="872.41" y2="1879.38" stroke="#1F68B8" stroke-width="1.0"/>
<line x1="873.56" y1="1876.78" x2="878.16" y2="1876.78" stroke="#1F68B8" stroke-width="1.0"/>
<line x1="875.86" y1="1874.18" x2="875.86" y2="1879.38" stroke="#1F68B8" stroke-width="1.0"/>
<line x1="880.46" y1="1876.78" x2="885.06" y2="1876.78" stroke="#1F68B8" stroke-width="1.0"/>
<line x1="882.76" y1="1874.18" x2="882.76" y2="1879.38" stroke="#1F68B8" stroke-width="1.0"/>
<line x1="882.76" y1="1876.78" x2="887.36" y2="1876.78" stroke="#1F68B8" stroke-width="1.0"/>
<line x1="885.06" y1="1874.18" x2="885.06" y2="1879.38" stroke="#1F68B8" stroke-width="1.0"/>
<line x1="885.06" y1="1876.78" x2="889.66" y2="1876.78" stroke="#1F68B8" stroke-width="1.0"/>
<line x1="887.36" y1="1874.18" x2="887.36" y2="1879.38" stroke="#1F68B8" stroke-width="1.0"/>
<line x1="887.36" y1="1876.78" x2="891.96" y2="1876.78" stroke="#1F68B8" stroke-width="1.0"/>
<line x1="889.66" y1="1874.18" x2="889.66" y2="1879.38" stroke="#1F68B8" stroke-width="1.0"/>
<line x1="889.65" y1="1876.78" x2="894.25" y2="1876.78" stroke="#1F68B8" stroke-width="1.0"/>
<line x1="891.95" y1="1874.18" x2="891.95" y2="1879.38" stroke="#1F68B8" stroke-width="1.0"/>
<line x1="891.95" y1="1876.78" x2="896.55" y2="1876.78" stroke="#1F68B8" stroke-width="1.0"/>
<line x1="894.25" y1="1874.18" x2="894.25" y2="1879.38" stroke="#1F68B8" stroke-width="1.0"/>
<line x1="896.55" y1="1885.29" x2="901.15" y2="1885.29" stroke="#1F68B8" stroke-width="1.0"/>
<line x1="898.85" y1="1882.69" x2="898.85" y2="1887.89" stroke="#1F68B8" stroke-width="1.0"/>
<line x1="898.85" y1="1885.29" x2="903.45" y2="1885.29" stroke="#1F68B8" stroke-width="1.0"/>
<line x1="901.15" y1="1882.69" x2="901.15" y2="1887.89" stroke="#1F68B8" stroke-width="1.0"/>
<line x1="901.15" y1="1885.29" x2="905.75" y2="1885.29" stroke="#1F68B8" stroke-width="1.0"/>
<line x1="903.45" y1="1882.69" x2="903.45" y2="1887.89" stroke="#1F68B8" stroke-width="1.0"/>
<line x1="903.45" y1="1885.29" x2="908.05" y2="1885.29" stroke="#1F68B8" stroke-width="1.0"/>
<line x1="905.75" y1="1882.69" x2="905.75" y2="1887.89" stroke="#1F68B8" stroke-width="1.0"/>
<line x1="905.75" y1="1885.29" x2="910.35" y2="1885.29" stroke="#1F68B8" stroke-width="1.0"/>
<line x1="908.05" y1="1882.69" x2="908.05" y2="1887.89" stroke="#1F68B8" stroke-width="1.0"/>
<line x1="909.19" y1="1885.29" x2="913.79" y2="1885.29" stroke="#1F68B8" stroke-width="1.0"/>
<line x1="911.49" y1="1882.69" x2="911.49" y2="1887.89" stroke="#1F68B8" stroke-width="1.0"/>
<line x1="912.64" y1="1885.29" x2="917.24" y2="1885.29" stroke="#1F68B8" stroke-width="1.0"/>
<line x1="914.94" y1="1882.69" x2="914.94" y2="1887.89" stroke="#1F68B8" stroke-width="1.0"/>
<line x1="916.09" y1="1885.29" x2="920.69" y2="1885.29" stroke="#1F68B8" stroke-width="1.0"/>
<line x1="918.39" y1="1882.69" x2="918.39" y2="1887.89" stroke="#1F68B8" stroke-width="1.0"/>
<line x1="919.54" y1="1885.29" x2="924.14" y2="1885.29" stroke="#1F68B8" stroke-width="1.0"/>
<line x1="921.84" y1="1882.69" x2="921.84" y2="1887.89" stroke="#1F68B8" stroke-width="1.0"/>
<line x1="925.29" y1="1885.29" x2="929.89" y2="1885.29" stroke="#1F68B8" stroke-width="1.0"/>
<line x1="927.59" y1="1882.69" x2="927.59" y2="1887.89" stroke="#1F68B8" stroke-width="1.0"/>
<polyline points="622.99,1754.94 632.18,1754.94 632.18,1757.24 639.08,1757.24 639.08,1760.69 645.98,1760.69 645.98,1764.14 648.28,1764.14 648.28,1767.59 650.57,1767.59 650.57,1773.33 652.87,1773.33 652.87,1779.08 656.32,1779.08 656.32,1783.68 659.77,1783.68 659.77,1788.28 663.22,1788.28 663.22,1795.17 666.67,1795.17 666.67,1798.62 670.11,1798.62 670.11,1802.07 673.56,1802.07 673.56,1806.67 680.46,1806.67 680.46,1811.26 689.66,1811.26 689.66,1813.56 694.25,1813.56 694.25,1818.16 698.85,1818.16 698.85,1825.06 702.30,1825.06 702.30,1829.66 708.05,1829.66 708.05,1833.10 710.34,1833.10 710.34,1835.40 714.94,1835.40 714.94,1837.70 721.84,1837.70 721.84,1840.00 726.44,1840.00 726.44,1848.05 731.03,1848.05 731.03,1853.79 735.63,1853.79 735.63,1856.09 740.23,1856.09 740.23,1858.39 747.13,1858.39 747.13,1859.54 751.72,1859.54 751.72,1864.14 756.32,1864.14 756.32,1868.74 760.92,1868.74 760.92,1872.18 765.52,1872.18 765.52,1875.63 770.11,1875.63 770.11,1879.08 777.01,1879.08 777.01,1880.23 783.91,1880.23 783.91,1881.38 790.80,1881.38 790.80,1883.68 795.40,1883.68 795.40,1888.28 806.90,1888.28 806.90,1889.43 820.69,1889.43 820.69,1891.72 827.59,1891.72 827.59,1894.48 834.48,1894.48 834.48,1896.32 843.68,1896.32 843.68,1897.47 852.87,1897.47 852.87,1898.62 864.37,1898.62 864.37,1900.92 871.26,1900.92 871.26,1903.22 880.46,1903.22 880.46,1903.68 889.66,1903.68 889.66,1903.68 893.10,1903.68 893.10,1905.98 896.55,1905.98 896.55,1908.97 940.23,1908.97 940.23,1909.43" fill="none" stroke="#BF2A25" stroke-width="2.1" stroke-linejoin="miter"/>
<line x1="645.98" y1="1767.59" x2="650.58" y2="1767.59" stroke="#BF2A25" stroke-width="1.0"/>
<line x1="648.28" y1="1764.99" x2="648.28" y2="1770.19" stroke="#BF2A25" stroke-width="1.0"/>
<line x1="663.22" y1="1795.17" x2="667.82" y2="1795.17" stroke="#BF2A25" stroke-width="1.0"/>
<line x1="665.52" y1="1792.57" x2="665.52" y2="1797.77" stroke="#BF2A25" stroke-width="1.0"/>
<line x1="802.30" y1="1888.28" x2="806.90" y2="1888.28" stroke="#BF2A25" stroke-width="1.0"/>
<line x1="804.60" y1="1885.68" x2="804.60" y2="1890.88" stroke="#BF2A25" stroke-width="1.0"/>
<line x1="809.19" y1="1889.43" x2="813.79" y2="1889.43" stroke="#BF2A25" stroke-width="1.0"/>
<line x1="811.49" y1="1886.83" x2="811.49" y2="1892.03" stroke="#BF2A25" stroke-width="1.0"/>
<line x1="812.64" y1="1889.43" x2="817.24" y2="1889.43" stroke="#BF2A25" stroke-width="1.0"/>
<line x1="814.94" y1="1886.83" x2="814.94" y2="1892.03" stroke="#BF2A25" stroke-width="1.0"/>
<line x1="824.14" y1="1891.72" x2="828.74" y2="1891.72" stroke="#BF2A25" stroke-width="1.0"/>
<line x1="826.44" y1="1889.12" x2="826.44" y2="1894.32" stroke="#BF2A25" stroke-width="1.0"/>
<line x1="834.48" y1="1896.32" x2="839.08" y2="1896.32" stroke="#BF2A25" stroke-width="1.0"/>
<line x1="836.78" y1="1893.72" x2="836.78" y2="1898.92" stroke="#BF2A25" stroke-width="1.0"/>
<line x1="842.53" y1="1897.47" x2="847.13" y2="1897.47" stroke="#BF2A25" stroke-width="1.0"/>
<line x1="844.83" y1="1894.87" x2="844.83" y2="1900.07" stroke="#BF2A25" stroke-width="1.0"/>
<line x1="852.87" y1="1898.62" x2="857.47" y2="1898.62" stroke="#BF2A25" stroke-width="1.0"/>
<line x1="855.17" y1="1896.02" x2="855.17" y2="1901.22" stroke="#BF2A25" stroke-width="1.0"/>
<line x1="859.77" y1="1898.62" x2="864.37" y2="1898.62" stroke="#BF2A25" stroke-width="1.0"/>
<line x1="862.07" y1="1896.02" x2="862.07" y2="1901.22" stroke="#BF2A25" stroke-width="1.0"/>
<line x1="868.96" y1="1903.22" x2="873.56" y2="1903.22" stroke="#BF2A25" stroke-width="1.0"/>
<line x1="871.26" y1="1900.62" x2="871.26" y2="1905.82" stroke="#BF2A25" stroke-width="1.0"/>
<line x1="879.31" y1="1903.68" x2="883.91" y2="1903.68" stroke="#BF2A25" stroke-width="1.0"/>
<line x1="881.61" y1="1901.08" x2="881.61" y2="1906.28" stroke="#BF2A25" stroke-width="1.0"/>
<line x1="882.76" y1="1903.68" x2="887.36" y2="1903.68" stroke="#BF2A25" stroke-width="1.0"/>
<line x1="885.06" y1="1901.08" x2="885.06" y2="1906.28" stroke="#BF2A25" stroke-width="1.0"/>
<line x1="886.21" y1="1903.68" x2="890.81" y2="1903.68" stroke="#BF2A25" stroke-width="1.0"/>
<line x1="888.51" y1="1901.08" x2="888.51" y2="1906.28" stroke="#BF2A25" stroke-width="1.0"/>
<line x1="895.40" y1="1908.97" x2="900.00" y2="1908.97" stroke="#BF2A25" stroke-width="1.0"/>
<line x1="897.70" y1="1906.37" x2="897.70" y2="1911.57" stroke="#BF2A25" stroke-width="1.0"/>
<line x1="898.85" y1="1908.97" x2="903.45" y2="1908.97" stroke="#BF2A25" stroke-width="1.0"/>
<line x1="901.15" y1="1906.37" x2="901.15" y2="1911.57" stroke="#BF2A25" stroke-width="1.0"/>
<line x1="905.75" y1="1908.97" x2="910.35" y2="1908.97" stroke="#BF2A25" stroke-width="1.0"/>
<line x1="908.05" y1="1906.37" x2="908.05" y2="1911.57" stroke="#BF2A25" stroke-width="1.0"/>
<line x1="909.19" y1="1908.97" x2="913.79" y2="1908.97" stroke="#BF2A25" stroke-width="1.0"/>
<line x1="911.49" y1="1906.37" x2="911.49" y2="1911.57" stroke="#BF2A25" stroke-width="1.0"/>
<line x1="911.49" y1="1908.97" x2="916.09" y2="1908.97" stroke="#BF2A25" stroke-width="1.0"/>
<line x1="913.79" y1="1906.37" x2="913.79" y2="1911.57" stroke="#BF2A25" stroke-width="1.0"/>
<line x1="917.24" y1="1908.97" x2="921.84" y2="1908.97" stroke="#BF2A25" stroke-width="1.0"/>
<line x1="919.54" y1="1906.37" x2="919.54" y2="1911.57" stroke="#BF2A25" stroke-width="1.0"/>
<line x1="920.69" y1="1908.97" x2="925.29" y2="1908.97" stroke="#BF2A25" stroke-width="1.0"/>
<line x1="922.99" y1="1906.37" x2="922.99" y2="1911.57" stroke="#BF2A25" stroke-width="1.0"/>
<line x1="924.14" y1="1908.97" x2="928.74" y2="1908.97" stroke="#BF2A25" stroke-width="1.0"/>
<line x1="926.44" y1="1906.37" x2="926.44" y2="1911.57" stroke="#BF2A25" stroke-width="1.0"/>
<line x1="928.73" y1="1908.97" x2="933.33" y2="1908.97" stroke="#BF2A25" stroke-width="1.0"/>
<line x1="931.03" y1="1906.37" x2="931.03" y2="1911.57" stroke="#BF2A25" stroke-width="1.0"/>
<line x1="934.48" y1="1908.97" x2="939.08" y2="1908.97" stroke="#BF2A25" stroke-width="1.0"/>
<line x1="936.78" y1="1906.37" x2="936.78" y2="1911.57" stroke="#BF2A25" stroke-width="1.0"/>
<text transform="translate(629.30,1930.23) scale(1.000,1.020)" font-size="14.30" fill="#111">p = 0.028</text>
<text transform="translate(607.90,2018.57) scale(1.000,1.020)" font-size="14.40" fill="#111">Number at risk</text>
<line x1="606.70" y1="2022.40" x2="606.70" y2="2082.10" stroke="#111111" stroke-width="1.6"/>
<line x1="606.10" y1="2081.50" x2="962.80" y2="2081.50" stroke="#111111" stroke-width="1.6"/>
<line x1="623.20" y1="2081.50" x2="623.20" y2="2085.00" stroke="#111111" stroke-width="0.9"/>
<line x1="687.90" y1="2081.50" x2="687.90" y2="2085.00" stroke="#111111" stroke-width="0.9"/>
<line x1="752.40" y1="2081.50" x2="752.40" y2="2085.00" stroke="#111111" stroke-width="0.9"/>
<line x1="817.20" y1="2081.50" x2="817.20" y2="2085.00" stroke="#111111" stroke-width="0.9"/>
<line x1="881.60" y1="2081.50" x2="881.60" y2="2085.00" stroke="#111111" stroke-width="0.9"/>
<line x1="946.30" y1="2081.50" x2="946.30" y2="2085.00" stroke="#111111" stroke-width="0.9"/>
<text transform="translate(623.20,2094.36) scale(1.000,1.020)" font-size="10.40" text-anchor="middle" font-weight="bold" fill="#333">0</text>
<text transform="translate(687.90,2094.36) scale(1.000,1.020)" font-size="10.40" text-anchor="middle" font-weight="bold" fill="#333">5</text>
<text transform="translate(752.40,2094.36) scale(1.000,1.020)" font-size="10.40" text-anchor="middle" font-weight="bold" fill="#333">10</text>
<text transform="translate(817.20,2094.36) scale(1.000,1.020)" font-size="10.40" text-anchor="middle" font-weight="bold" fill="#333">15</text>
<text transform="translate(881.60,2094.36) scale(1.000,1.020)" font-size="10.40" text-anchor="middle" font-weight="bold" fill="#333">20</text>
<text transform="translate(946.30,2094.36) scale(1.000,1.020)" font-size="10.40" text-anchor="middle" font-weight="bold" fill="#333">25</text>
<text transform="translate(806.50,2112.33) scale(1.000,1.020)" font-size="14.30" text-anchor="middle" fill="#111">Time(months)</text>
<line x1="603.50" y1="2041.00" x2="606.70" y2="2041.00" stroke="#111111" stroke-width="0.9"/>
<line x1="603.50" y1="2073.00" x2="606.70" y2="2073.00" stroke="#111111" stroke-width="0.9"/>
<text transform="translate(618.50,2046.43) scale(1.000,1.020)" font-size="14.00" text-anchor="middle" fill="#111">131</text>
<text transform="translate(684.20,2046.43) scale(1.000,1.020)" font-size="14.00" text-anchor="middle" fill="#111">99</text>
<text transform="translate(749.80,2046.43) scale(1.000,1.020)" font-size="14.00" text-anchor="middle" fill="#111">73</text>
<text transform="translate(814.20,2046.43) scale(1.000,1.020)" font-size="14.00" text-anchor="middle" fill="#111">59</text>
<text transform="translate(879.10,2046.43) scale(1.000,1.020)" font-size="14.00" text-anchor="middle" fill="#111">33</text>
<text transform="translate(945.40,2046.43) scale(1.000,1.020)" font-size="14.00" text-anchor="middle" fill="#111">0</text>
<text transform="translate(618.50,2078.43) scale(1.000,1.020)" font-size="14.00" text-anchor="middle" fill="#111">167</text>
<text transform="translate(684.20,2078.43) scale(1.000,1.020)" font-size="14.00" text-anchor="middle" fill="#111">119</text>
<text transform="translate(749.80,2078.43) scale(1.000,1.020)" font-size="14.00" text-anchor="middle" fill="#111">79</text>
<text transform="translate(814.20,2078.43) scale(1.000,1.020)" font-size="14.00" text-anchor="middle" fill="#111">56</text>
<text transform="translate(879.10,2078.43) scale(1.000,1.020)" font-size="14.00" text-anchor="middle" fill="#111">32</text>
<text transform="translate(945.40,2078.43) scale(1.000,1.020)" font-size="14.00" text-anchor="middle" fill="#111">0</text>
<text transform="translate(600.50,2046.14) scale(1.000,1.020)" font-size="14.60" text-anchor="end" fill="#1F68B8">Low–Score</text>
<text transform="translate(600.50,2078.10) scale(1.000,1.020)" font-size="14.50" text-anchor="end" fill="#BF2A25">High–Score</text>
<text transform="translate(523.08,2058.50) rotate(-90) scale(1.000,1.020)" font-size="13.30" text-anchor="middle" fill="#111">MHPS</text>
<text x="1114.20" y="1712.35" font-size="30.00" font-weight="bold" fill="#000">I</text>
<rect x="1236.29" y="1733.10" width="17.85" height="8.60" fill="none" stroke="#E64B35" stroke-width="1.0"/>
<line x1="1236.29" y1="1737.40" x2="1254.14" y2="1737.40" stroke="#E64B35" stroke-width="1.0"/>
<line x1="1245.22" y1="1730.90" x2="1245.22" y2="1733.10" stroke="#E64B35" stroke-width="0.9"/>
<line x1="1245.22" y1="1741.70" x2="1245.22" y2="1743.90" stroke="#E64B35" stroke-width="0.9"/>
<circle cx="1245.22" cy="1737.40" r="1.80" fill="#E64B35"/>
<text transform="translate(1257.71,1742.72) scale(1.020,1.080)" font-size="15.00" fill="#222">PD</text>
<rect x="1304.14" y="1733.10" width="17.85" height="8.60" fill="none" stroke="#4DBBD5" stroke-width="1.0"/>
<line x1="1304.14" y1="1737.40" x2="1321.99" y2="1737.40" stroke="#4DBBD5" stroke-width="1.0"/>
<line x1="1313.06" y1="1730.90" x2="1313.06" y2="1733.10" stroke="#4DBBD5" stroke-width="0.9"/>
<line x1="1313.06" y1="1741.70" x2="1313.06" y2="1743.90" stroke="#4DBBD5" stroke-width="0.9"/>
<circle cx="1313.06" cy="1737.40" r="1.80" fill="#4DBBD5"/>
<text transform="translate(1325.56,1742.72) scale(1.020,1.080)" font-size="15.00" fill="#222">SD</text>
<rect x="1376.74" y="1733.10" width="17.85" height="8.60" fill="none" stroke="#00A087" stroke-width="1.0"/>
<line x1="1376.74" y1="1737.40" x2="1394.60" y2="1737.40" stroke="#00A087" stroke-width="1.0"/>
<line x1="1385.67" y1="1730.90" x2="1385.67" y2="1733.10" stroke="#00A087" stroke-width="0.9"/>
<line x1="1385.67" y1="1741.70" x2="1385.67" y2="1743.90" stroke="#00A087" stroke-width="0.9"/>
<circle cx="1385.67" cy="1737.40" r="1.80" fill="#00A087"/>
<text transform="translate(1398.17,1742.72) scale(1.020,1.080)" font-size="15.00" fill="#222">PR</text>
<rect x="1444.59" y="1733.10" width="17.85" height="8.60" fill="none" stroke="#3C5488" stroke-width="1.0"/>
<line x1="1444.59" y1="1737.40" x2="1462.45" y2="1737.40" stroke="#3C5488" stroke-width="1.0"/>
<line x1="1453.52" y1="1730.90" x2="1453.52" y2="1733.10" stroke="#3C5488" stroke-width="0.9"/>
<line x1="1453.52" y1="1741.70" x2="1453.52" y2="1743.90" stroke="#3C5488" stroke-width="0.9"/>
<circle cx="1453.52" cy="1737.40" r="1.80" fill="#3C5488"/>
<text transform="translate(1466.02,1742.72) scale(1.020,1.080)" font-size="15.00" fill="#222">CR</text>
<line x1="1163.10" y1="1756.80" x2="1163.10" y2="2078.50" stroke="#111111" stroke-width="1.6"/>
<line x1="1162.50" y1="2077.90" x2="1548.40" y2="2077.90" stroke="#111111" stroke-width="1.6"/>
<line x1="1159.60" y1="1833.30" x2="1163.10" y2="1833.30" stroke="#111111" stroke-width="0.9"/>
<text transform="translate(1157.50,1838.63) scale(1.020,1.080)" font-size="14.30" text-anchor="end" fill="#222">8</text>
<line x1="1159.60" y1="1926.10" x2="1163.10" y2="1926.10" stroke="#111111" stroke-width="0.9"/>
<text transform="translate(1157.50,1931.43) scale(1.020,1.080)" font-size="14.30" text-anchor="end" fill="#222">6</text>
<line x1="1159.60" y1="2018.60" x2="1163.10" y2="2018.60" stroke="#111111" stroke-width="0.9"/>
<text transform="translate(1157.50,2023.93) scale(1.020,1.080)" font-size="14.30" text-anchor="end" fill="#222">4</text>
<line x1="1218.40" y1="2077.90" x2="1218.40" y2="2082.00" stroke="#111111" stroke-width="0.9"/>
<text transform="translate(1218.40,2098.33) scale(1.020,1.080)" font-size="14.30" text-anchor="middle" fill="#222">PD</text>
<line x1="1310.10" y1="2077.90" x2="1310.10" y2="2082.00" stroke="#111111" stroke-width="0.9"/>
<text transform="translate(1310.10,2098.33) scale(1.020,1.080)" font-size="14.30" text-anchor="middle" fill="#222">SD</text>
<line x1="1402.00" y1="2077.90" x2="1402.00" y2="2082.00" stroke="#111111" stroke-width="0.9"/>
<text transform="translate(1402.00,2098.33) scale(1.020,1.080)" font-size="14.30" text-anchor="middle" fill="#222">PR</text>
<line x1="1493.40" y1="2077.90" x2="1493.40" y2="2082.00" stroke="#111111" stroke-width="0.9"/>
<text transform="translate(1493.40,2098.33) scale(1.020,1.080)" font-size="14.30" text-anchor="middle" fill="#222">CR</text>
<text transform="translate(1136.50,1924.00) rotate(-90) scale(1.020,1.080)" font-size="22.00" text-anchor="middle" fill="#111">MHPS</text>
<polyline points="1402.04,1788.65 1402.04,1784.15 1493.39,1784.15 1493.39,1788.65" fill="none" stroke="#555" stroke-width="1.0"/>
<text transform="translate(1450.54,1784.21) scale(1.020,1.080)" font-size="14.80" text-anchor="middle" fill="#222">0.043</text>
<polyline points="1310.09,1807.99 1310.09,1803.49 1493.39,1803.49 1493.39,1807.99" fill="none" stroke="#555" stroke-width="1.0"/>
<text transform="translate(1407.39,1804.45) scale(1.020,1.080)" font-size="14.80" text-anchor="middle" fill="#222">0.00039</text>
<polyline points="1310.09,1827.93 1310.09,1823.43 1402.04,1823.43 1402.04,1827.93" fill="none" stroke="#555" stroke-width="1.0"/>
<text transform="translate(1357.40,1822.90) scale(1.020,1.080)" font-size="14.80" text-anchor="middle" fill="#222">0.44</text>
<polyline points="1218.43,1846.68 1218.43,1842.18 1493.39,1842.18 1493.39,1846.68" fill="none" stroke="#555" stroke-width="1.0"/>
<text transform="translate(1360.97,1842.24) scale(1.020,1.080)" font-size="14.80" text-anchor="middle" fill="#222">3.3e-15</text>
<polyline points="1218.43,1866.02 1218.43,1861.52 1402.04,1861.52 1402.04,1866.02" fill="none" stroke="#555" stroke-width="1.0"/>
<text transform="translate(1314.85,1861.58) scale(1.020,1.080)" font-size="14.80" text-anchor="middle" fill="#222">8.4e-05</text>
<polyline points="1218.43,1885.96 1218.43,1881.46 1310.09,1881.46 1310.09,1885.96" fill="none" stroke="#555" stroke-width="1.0"/>
<text transform="translate(1268.72,1881.52) scale(1.020,1.080)" font-size="14.80" text-anchor="middle" fill="#222">0.0013</text>
<line x1="1218.43" y1="1943.35" x2="1218.43" y2="1979.96" stroke="#D84A36" stroke-width="1.1"/>
<line x1="1218.43" y1="2007.93" x2="1218.43" y2="2034.11" stroke="#D84A36" stroke-width="1.1"/>
<rect x="1186.30" y="1979.96" width="64.28" height="27.97" fill="none" stroke="#D84A36" stroke-width="1.3"/>
<line x1="1186.30" y1="1994.83" x2="1250.57" y2="1994.83" stroke="#D84A36" stroke-width="1.3"/>
<line x1="1309.64" y1="1941.87" x2="1309.64" y2="1982.93" stroke="#3FA0B8" stroke-width="1.1"/>
<line x1="1309.64" y1="2022.81" x2="1309.64" y2="2050.48" stroke="#3FA0B8" stroke-width="1.1"/>
<rect x="1277.35" y="1982.93" width="64.57" height="39.88" fill="none" stroke="#3FA0B8" stroke-width="1.3"/>
<line x1="1277.35" y1="2006.74" x2="1341.93" y2="2006.74" stroke="#3FA0B8" stroke-width="1.3"/>
<line x1="1401.00" y1="1991.86" x2="1401.00" y2="2005.25" stroke="#11967B" stroke-width="1.1"/>
<line x1="1401.00" y1="2016.85" x2="1401.00" y2="2031.14" stroke="#11967B" stroke-width="1.1"/>
<rect x="1368.71" y="2005.25" width="64.57" height="11.61" fill="none" stroke="#11967B" stroke-width="1.3"/>
<line x1="1368.71" y1="2010.31" x2="1433.28" y2="2010.31" stroke="#11967B" stroke-width="1.3"/>
<line x1="1492.80" y1="1987.39" x2="1492.80" y2="2004.36" stroke="#3C5488" stroke-width="1.1"/>
<line x1="1492.80" y1="2026.08" x2="1492.80" y2="2050.48" stroke="#3C5488" stroke-width="1.1"/>
<rect x="1460.66" y="2004.36" width="64.28" height="21.72" fill="none" stroke="#3C5488" stroke-width="1.3"/>
<line x1="1460.66" y1="2022.81" x2="1524.94" y2="2022.81" stroke="#3C5488" stroke-width="1.3"/>
<circle cx="1216.05" cy="1889.20" r="2.20" fill="#E64B35"/>
<circle cx="1218.43" cy="1918.95" r="2.20" fill="#E64B35"/>
<circle cx="1228.55" cy="1921.63" r="2.20" fill="#E64B35"/>
<circle cx="1205.64" cy="1938.89" r="2.20" fill="#E64B35"/>
<circle cx="1214.57" cy="1942.46" r="2.20" fill="#E64B35"/>
<circle cx="1218.43" cy="1941.87" r="2.20" fill="#E64B35"/>
<circle cx="1222.60" cy="1949.31" r="2.20" fill="#E64B35"/>
<circle cx="1202.66" cy="1954.36" r="2.20" fill="#E64B35"/>
<circle cx="1222.01" cy="1953.17" r="2.20" fill="#E64B35"/>
<circle cx="1204.75" cy="1967.16" r="2.20" fill="#E64B35"/>
<circle cx="1208.61" cy="1959.72" r="2.20" fill="#E64B35"/>
<circle cx="1230.93" cy="1956.74" r="2.20" fill="#E64B35"/>
<circle cx="1235.40" cy="1961.21" r="2.20" fill="#E64B35"/>
<circle cx="1201.77" cy="2026.08" r="2.20" fill="#E64B35"/>
<circle cx="1233.91" cy="2026.67" r="2.20" fill="#E64B35"/>
<circle cx="1220.52" cy="2033.22" r="2.20" fill="#E64B35"/>
<circle cx="1213.08" cy="2025.19" r="2.20" fill="#E64B35"/>
<circle cx="1236.70" cy="1979.37" r="2.20" fill="#E64B35"/>
<circle cx="1217.60" cy="1998.44" r="2.20" fill="#E64B35"/>
<circle cx="1205.89" cy="1978.12" r="2.20" fill="#E64B35"/>
<circle cx="1219.53" cy="1993.16" r="2.20" fill="#E64B35"/>
<circle cx="1202.12" cy="1979.47" r="2.20" fill="#E64B35"/>
<circle cx="1210.84" cy="1978.55" r="2.20" fill="#E64B35"/>
<circle cx="1227.09" cy="2012.20" r="2.20" fill="#E64B35"/>
<circle cx="1199.94" cy="2005.64" r="2.20" fill="#E64B35"/>
<circle cx="1225.44" cy="2024.54" r="2.20" fill="#E64B35"/>
<circle cx="1223.84" cy="1990.50" r="2.20" fill="#E64B35"/>
<circle cx="1220.21" cy="1995.08" r="2.20" fill="#E64B35"/>
<circle cx="1200.68" cy="1995.67" r="2.20" fill="#E64B35"/>
<circle cx="1199.45" cy="1997.19" r="2.20" fill="#E64B35"/>
<circle cx="1217.53" cy="2002.18" r="2.20" fill="#E64B35"/>
<circle cx="1219.83" cy="1972.64" r="2.20" fill="#E64B35"/>
<circle cx="1224.87" cy="2002.29" r="2.20" fill="#E64B35"/>
<circle cx="1217.25" cy="1976.40" r="2.20" fill="#E64B35"/>
<circle cx="1209.79" cy="1993.97" r="2.20" fill="#E64B35"/>
<circle cx="1233.20" cy="2029.65" r="2.20" fill="#E64B35"/>
<circle cx="1227.69" cy="1993.36" r="2.20" fill="#E64B35"/>
<circle cx="1210.24" cy="1990.51" r="2.20" fill="#E64B35"/>
<circle cx="1201.13" cy="2001.83" r="2.20" fill="#E64B35"/>
<circle cx="1233.47" cy="1995.17" r="2.20" fill="#E64B35"/>
<circle cx="1214.30" cy="1981.97" r="2.20" fill="#E64B35"/>
<circle cx="1198.22" cy="2016.22" r="2.20" fill="#E64B35"/>
<circle cx="1206.94" cy="1987.93" r="2.20" fill="#E64B35"/>
<circle cx="1239.04" cy="2005.28" r="2.20" fill="#E64B35"/>
<circle cx="1214.76" cy="1986.77" r="2.20" fill="#E64B35"/>
<circle cx="1230.63" cy="2008.98" r="2.20" fill="#E64B35"/>
<circle cx="1209.44" cy="2001.37" r="2.20" fill="#E64B35"/>
<circle cx="1238.36" cy="2003.08" r="2.20" fill="#E64B35"/>
<circle cx="1229.78" cy="1999.51" r="2.20" fill="#E64B35"/>
<circle cx="1202.41" cy="2000.54" r="2.20" fill="#E64B35"/>
<circle cx="1200.69" cy="1999.99" r="2.20" fill="#E64B35"/>
<circle cx="1221.50" cy="1996.11" r="2.20" fill="#E64B35"/>
<circle cx="1216.84" cy="1986.82" r="2.20" fill="#E64B35"/>
<circle cx="1203.66" cy="2000.97" r="2.20" fill="#E64B35"/>
<circle cx="1225.02" cy="2011.93" r="2.20" fill="#E64B35"/>
<circle cx="1207.07" cy="2003.19" r="2.20" fill="#E64B35"/>
<circle cx="1209.44" cy="2002.26" r="2.20" fill="#E64B35"/>
<circle cx="1210.87" cy="2015.05" r="2.20" fill="#E64B35"/>
<circle cx="1235.06" cy="1990.04" r="2.20" fill="#E64B35"/>
<circle cx="1233.79" cy="1996.85" r="2.20" fill="#E64B35"/>
<circle cx="1224.94" cy="2005.50" r="2.20" fill="#E64B35"/>
<circle cx="1207.08" cy="2022.91" r="2.20" fill="#E64B35"/>
<circle cx="1208.96" cy="2015.08" r="2.20" fill="#E64B35"/>
<circle cx="1210.54" cy="1995.45" r="2.20" fill="#E64B35"/>
<circle cx="1201.26" cy="1983.42" r="2.20" fill="#E64B35"/>
<circle cx="1208.32" cy="2007.22" r="2.20" fill="#E64B35"/>
<circle cx="1223.25" cy="2002.38" r="2.20" fill="#E64B35"/>
<circle cx="1238.16" cy="1984.89" r="2.20" fill="#E64B35"/>
<circle cx="1218.35" cy="2003.38" r="2.20" fill="#E64B35"/>
<circle cx="1205.82" cy="1972.63" r="2.20" fill="#E64B35"/>
<circle cx="1204.62" cy="1983.15" r="2.20" fill="#E64B35"/>
<circle cx="1208.59" cy="2012.37" r="2.20" fill="#E64B35"/>
<circle cx="1206.11" cy="1981.99" r="2.20" fill="#E64B35"/>
<circle cx="1206.39" cy="1992.06" r="2.20" fill="#E64B35"/>
<circle cx="1237.78" cy="1965.73" r="2.20" fill="#E64B35"/>
<circle cx="1215.76" cy="2005.90" r="2.20" fill="#E64B35"/>
<circle cx="1202.53" cy="1983.02" r="2.20" fill="#E64B35"/>
<circle cx="1208.13" cy="2023.57" r="2.20" fill="#E64B35"/>
<circle cx="1227.55" cy="2001.29" r="2.20" fill="#E64B35"/>
<circle cx="1223.05" cy="1992.97" r="2.20" fill="#E64B35"/>
<circle cx="1210.42" cy="2016.10" r="2.20" fill="#E64B35"/>
<circle cx="1201.06" cy="2002.52" r="2.20" fill="#E64B35"/>
<circle cx="1207.71" cy="2010.90" r="2.20" fill="#E64B35"/>
<circle cx="1223.79" cy="1972.26" r="2.20" fill="#E64B35"/>
<circle cx="1209.87" cy="1985.46" r="2.20" fill="#E64B35"/>
<circle cx="1198.89" cy="2000.92" r="2.20" fill="#E64B35"/>
<circle cx="1209.41" cy="1989.95" r="2.20" fill="#E64B35"/>
<circle cx="1205.54" cy="1989.98" r="2.20" fill="#E64B35"/>
<circle cx="1213.56" cy="1995.35" r="2.20" fill="#E64B35"/>
<circle cx="1213.29" cy="1988.26" r="2.20" fill="#E64B35"/>
<circle cx="1235.32" cy="1991.17" r="2.20" fill="#E64B35"/>
<circle cx="1227.00" cy="2011.22" r="2.20" fill="#E64B35"/>
<circle cx="1222.55" cy="1991.81" r="2.20" fill="#E64B35"/>
<circle cx="1198.95" cy="1995.96" r="2.20" fill="#E64B35"/>
<circle cx="1236.12" cy="1996.40" r="2.20" fill="#E64B35"/>
<circle cx="1199.09" cy="1984.68" r="2.20" fill="#E64B35"/>
<circle cx="1224.70" cy="1964.84" r="2.20" fill="#E64B35"/>
<circle cx="1211.49" cy="1974.79" r="2.20" fill="#E64B35"/>
<circle cx="1239.83" cy="1996.09" r="2.20" fill="#E64B35"/>
<circle cx="1228.90" cy="2007.26" r="2.20" fill="#E64B35"/>
<circle cx="1235.70" cy="2000.76" r="2.20" fill="#E64B35"/>
<circle cx="1231.25" cy="1992.44" r="2.20" fill="#E64B35"/>
<circle cx="1236.32" cy="1975.44" r="2.20" fill="#E64B35"/>
<circle cx="1235.73" cy="1983.14" r="2.20" fill="#E64B35"/>
<circle cx="1234.49" cy="2008.46" r="2.20" fill="#E64B35"/>
<circle cx="1234.17" cy="1975.68" r="2.20" fill="#E64B35"/>
<circle cx="1222.06" cy="2004.41" r="2.20" fill="#E64B35"/>
<circle cx="1222.47" cy="1985.68" r="2.20" fill="#E64B35"/>
<circle cx="1223.57" cy="1985.68" r="2.20" fill="#E64B35"/>
<circle cx="1239.58" cy="2008.83" r="2.20" fill="#E64B35"/>
<circle cx="1234.85" cy="2002.15" r="2.20" fill="#E64B35"/>
<circle cx="1228.82" cy="1992.33" r="2.20" fill="#E64B35"/>
<circle cx="1222.40" cy="1982.25" r="2.20" fill="#E64B35"/>
<circle cx="1201.69" cy="1972.79" r="2.20" fill="#E64B35"/>
<circle cx="1229.45" cy="2002.24" r="2.20" fill="#E64B35"/>
<circle cx="1218.24" cy="2009.80" r="2.20" fill="#E64B35"/>
<circle cx="1207.79" cy="1996.95" r="2.20" fill="#E64B35"/>
<circle cx="1223.80" cy="1989.49" r="2.20" fill="#E64B35"/>
<circle cx="1236.55" cy="1980.71" r="2.20" fill="#E64B35"/>
<circle cx="1210.74" cy="1993.88" r="2.20" fill="#E64B35"/>
<circle cx="1226.45" cy="1995.74" r="2.20" fill="#E64B35"/>
<circle cx="1235.93" cy="1996.07" r="2.20" fill="#E64B35"/>
<circle cx="1225.70" cy="2000.88" r="2.20" fill="#E64B35"/>
<circle cx="1211.82" cy="1970.49" r="2.20" fill="#E64B35"/>
<circle cx="1225.94" cy="2002.90" r="2.20" fill="#E64B35"/>
<circle cx="1231.78" cy="1997.96" r="2.20" fill="#E64B35"/>
<circle cx="1236.29" cy="2005.92" r="2.20" fill="#E64B35"/>
<circle cx="1222.49" cy="2002.50" r="2.20" fill="#E64B35"/>
<circle cx="1211.38" cy="1985.93" r="2.20" fill="#E64B35"/>
<circle cx="1233.07" cy="2003.08" r="2.20" fill="#E64B35"/>
<circle cx="1233.56" cy="2004.47" r="2.20" fill="#E64B35"/>
<circle cx="1209.73" cy="1986.91" r="2.20" fill="#E64B35"/>
<circle cx="1205.25" cy="1965.67" r="2.20" fill="#E64B35"/>
<circle cx="1207.12" cy="1984.85" r="2.20" fill="#E64B35"/>
<circle cx="1215.45" cy="1996.86" r="2.20" fill="#E64B35"/>
<circle cx="1211.34" cy="1984.16" r="2.20" fill="#E64B35"/>
<circle cx="1233.16" cy="1984.07" r="2.20" fill="#E64B35"/>
<circle cx="1201.31" cy="2006.92" r="2.20" fill="#E64B35"/>
<circle cx="1199.51" cy="1992.47" r="2.20" fill="#E64B35"/>
<circle cx="1227.72" cy="1996.36" r="2.20" fill="#E64B35"/>
<circle cx="1221.97" cy="1991.46" r="2.20" fill="#E64B35"/>
<circle cx="1199.00" cy="1986.30" r="2.20" fill="#E64B35"/>
<circle cx="1203.86" cy="2013.59" r="2.20" fill="#E64B35"/>
<circle cx="1232.76" cy="1991.38" r="2.20" fill="#E64B35"/>
<circle cx="1208.09" cy="1994.69" r="2.20" fill="#E64B35"/>
<circle cx="1224.41" cy="1996.28" r="2.20" fill="#E64B35"/>
<circle cx="1216.80" cy="1996.80" r="2.20" fill="#E64B35"/>
<circle cx="1231.84" cy="1982.05" r="2.20" fill="#E64B35"/>
<circle cx="1238.13" cy="1981.28" r="2.20" fill="#E64B35"/>
<circle cx="1217.99" cy="1990.77" r="2.20" fill="#E64B35"/>
<circle cx="1205.64" cy="1986.67" r="2.20" fill="#E64B35"/>
<circle cx="1227.95" cy="2007.37" r="2.20" fill="#E64B35"/>
<circle cx="1205.66" cy="1994.85" r="2.20" fill="#E64B35"/>
<circle cx="1227.25" cy="1992.41" r="2.20" fill="#E64B35"/>
<circle cx="1219.88" cy="2004.80" r="2.20" fill="#E64B35"/>
<circle cx="1214.59" cy="1978.89" r="2.20" fill="#E64B35"/>
<circle cx="1231.19" cy="1980.77" r="2.20" fill="#E64B35"/>
<circle cx="1237.05" cy="1998.17" r="2.20" fill="#E64B35"/>
<circle cx="1228.29" cy="1991.12" r="2.20" fill="#E64B35"/>
<circle cx="1224.26" cy="2002.90" r="2.20" fill="#E64B35"/>
<circle cx="1236.11" cy="2003.48" r="2.20" fill="#E64B35"/>
<circle cx="1234.83" cy="1982.90" r="2.20" fill="#E64B35"/>
<circle cx="1231.39" cy="2004.73" r="2.20" fill="#E64B35"/>
<circle cx="1225.33" cy="2006.42" r="2.20" fill="#E64B35"/>
<circle cx="1206.74" cy="1989.38" r="2.20" fill="#E64B35"/>
<circle cx="1224.93" cy="1990.08" r="2.20" fill="#E64B35"/>
<circle cx="1228.10" cy="1972.30" r="2.20" fill="#E64B35"/>
<circle cx="1316.63" cy="1941.27" r="2.20" fill="#4DBBD5"/>
<circle cx="1320.21" cy="1955.26" r="2.20" fill="#4DBBD5"/>
<circle cx="1319.61" cy="1959.72" r="2.20" fill="#4DBBD5"/>
<circle cx="1294.91" cy="1968.65" r="2.20" fill="#4DBBD5"/>
<circle cx="1302.35" cy="1965.67" r="2.20" fill="#4DBBD5"/>
<circle cx="1305.33" cy="1970.14" r="2.20" fill="#4DBBD5"/>
<circle cx="1308.30" cy="1973.11" r="2.20" fill="#4DBBD5"/>
<circle cx="1315.74" cy="1971.62" r="2.20" fill="#4DBBD5"/>
<circle cx="1320.21" cy="1976.09" r="2.20" fill="#4DBBD5"/>
<circle cx="1324.67" cy="1977.57" r="2.20" fill="#4DBBD5"/>
<circle cx="1326.16" cy="1986.50" r="2.20" fill="#4DBBD5"/>
<circle cx="1327.64" cy="1990.97" r="2.20" fill="#4DBBD5"/>
<circle cx="1305.33" cy="1986.50" r="2.20" fill="#4DBBD5"/>
<circle cx="1298.78" cy="1999.89" r="2.20" fill="#4DBBD5"/>
<circle cx="1306.81" cy="1999.89" r="2.20" fill="#4DBBD5"/>
<circle cx="1309.79" cy="1998.40" r="2.20" fill="#4DBBD5"/>
<circle cx="1320.21" cy="2000.79" r="2.20" fill="#4DBBD5"/>
<circle cx="1299.38" cy="2005.84" r="2.20" fill="#4DBBD5"/>
<circle cx="1305.33" cy="2007.33" r="2.20" fill="#4DBBD5"/>
<circle cx="1308.30" cy="2010.31" r="2.20" fill="#4DBBD5"/>
<circle cx="1296.40" cy="2014.77" r="2.20" fill="#4DBBD5"/>
<circle cx="1302.35" cy="2019.24" r="2.20" fill="#4DBBD5"/>
<circle cx="1308.30" cy="2019.24" r="2.20" fill="#4DBBD5"/>
<circle cx="1314.25" cy="2019.24" r="2.20" fill="#4DBBD5"/>
<circle cx="1326.16" cy="2016.26" r="2.20" fill="#4DBBD5"/>
<circle cx="1293.42" cy="2022.21" r="2.20" fill="#4DBBD5"/>
<circle cx="1299.38" cy="2023.70" r="2.20" fill="#4DBBD5"/>
<circle cx="1308.30" cy="2025.19" r="2.20" fill="#4DBBD5"/>
<circle cx="1321.69" cy="2025.19" r="2.20" fill="#4DBBD5"/>
<circle cx="1326.16" cy="2026.67" r="2.20" fill="#4DBBD5"/>
<circle cx="1297.89" cy="2031.14" r="2.20" fill="#4DBBD5"/>
<circle cx="1306.81" cy="2031.14" r="2.20" fill="#4DBBD5"/>
<circle cx="1314.25" cy="2032.63" r="2.20" fill="#4DBBD5"/>
<circle cx="1302.35" cy="2037.09" r="2.20" fill="#4DBBD5"/>
<circle cx="1308.30" cy="2038.58" r="2.20" fill="#4DBBD5"/>
<circle cx="1320.21" cy="2038.58" r="2.20" fill="#4DBBD5"/>
<circle cx="1299.38" cy="2046.91" r="2.20" fill="#4DBBD5"/>
<circle cx="1305.33" cy="2046.91" r="2.20" fill="#4DBBD5"/>
<circle cx="1311.28" cy="2049.89" r="2.20" fill="#4DBBD5"/>
<circle cx="1321.69" cy="2050.48" r="2.20" fill="#4DBBD5"/>
<circle cx="1294.91" cy="1979.06" r="2.20" fill="#4DBBD5"/>
<circle cx="1314.25" cy="1989.48" r="2.20" fill="#4DBBD5"/>
<circle cx="1308.30" cy="1982.93" r="2.20" fill="#4DBBD5"/>
<circle cx="1318.72" cy="1981.15" r="2.20" fill="#4DBBD5"/>
<circle cx="1299.97" cy="1973.11" r="2.20" fill="#4DBBD5"/>
<circle cx="1311.87" cy="2007.33" r="2.20" fill="#4DBBD5"/>
<circle cx="1304.73" cy="1995.43" r="2.20" fill="#4DBBD5"/>
<circle cx="1322.59" cy="2010.31" r="2.20" fill="#4DBBD5"/>
<circle cx="1296.40" cy="1992.45" r="2.20" fill="#4DBBD5"/>
<circle cx="1315.74" cy="2014.77" r="2.20" fill="#4DBBD5"/>
<circle cx="1303.24" cy="2026.08" r="2.20" fill="#4DBBD5"/>
<circle cx="1311.87" cy="2026.67" r="2.20" fill="#4DBBD5"/>
<circle cx="1318.42" cy="2046.61" r="2.20" fill="#4DBBD5"/>
<circle cx="1385.08" cy="1955.26" r="2.20" fill="#00A087"/>
<circle cx="1418.40" cy="1958.83" r="2.20" fill="#00A087"/>
<circle cx="1417.81" cy="1963.29" r="2.20" fill="#00A087"/>
<circle cx="1385.67" cy="2005.84" r="2.20" fill="#00A087"/>
<circle cx="1390.14" cy="2002.87" r="2.20" fill="#00A087"/>
<circle cx="1394.60" cy="2005.84" r="2.20" fill="#00A087"/>
<circle cx="1403.53" cy="2005.84" r="2.20" fill="#00A087"/>
<circle cx="1409.48" cy="2004.36" r="2.20" fill="#00A087"/>
<circle cx="1415.43" cy="2004.36" r="2.20" fill="#00A087"/>
<circle cx="1384.18" cy="2010.31" r="2.20" fill="#00A087"/>
<circle cx="1391.62" cy="2010.31" r="2.20" fill="#00A087"/>
<circle cx="1397.57" cy="2010.31" r="2.20" fill="#00A087"/>
<circle cx="1412.45" cy="2010.31" r="2.20" fill="#00A087"/>
<circle cx="1387.16" cy="2019.24" r="2.20" fill="#00A087"/>
<circle cx="1400.55" cy="2016.26" r="2.20" fill="#00A087"/>
<circle cx="1402.04" cy="2031.14" r="2.20" fill="#00A087"/>
<circle cx="1409.48" cy="2031.14" r="2.20" fill="#00A087"/>
<circle cx="1394.60" cy="2045.42" r="2.20" fill="#00A087"/>
<circle cx="1415.43" cy="2040.07" r="2.20" fill="#00A087"/>
<circle cx="1397.57" cy="2007.33" r="2.20" fill="#00A087"/>
<circle cx="1393.11" cy="2013.28" r="2.20" fill="#00A087"/>
<circle cx="1406.50" cy="2008.82" r="2.20" fill="#00A087"/>
<circle cx="1476.43" cy="2002.87" r="2.20" fill="#3C5488"/>
<circle cx="1482.38" cy="2002.87" r="2.20" fill="#3C5488"/>
<circle cx="1486.85" cy="2002.87" r="2.20" fill="#3C5488"/>
<circle cx="1495.77" cy="2004.36" r="2.20" fill="#3C5488"/>
<circle cx="1503.21" cy="2002.87" r="2.20" fill="#3C5488"/>
<circle cx="1507.68" cy="2002.87" r="2.20" fill="#3C5488"/>
<circle cx="1474.94" cy="2016.26" r="2.20" fill="#3C5488"/>
<circle cx="1480.90" cy="2017.75" r="2.20" fill="#3C5488"/>
<circle cx="1486.85" cy="2016.26" r="2.20" fill="#3C5488"/>
<circle cx="1494.29" cy="2017.75" r="2.20" fill="#3C5488"/>
<circle cx="1475.54" cy="2022.21" r="2.20" fill="#3C5488"/>
<circle cx="1482.38" cy="2023.70" r="2.20" fill="#3C5488"/>
<circle cx="1486.85" cy="2023.70" r="2.20" fill="#3C5488"/>
<circle cx="1491.31" cy="2023.70" r="2.20" fill="#3C5488"/>
<circle cx="1500.24" cy="2023.70" r="2.20" fill="#3C5488"/>
<circle cx="1504.70" cy="2020.72" r="2.20" fill="#3C5488"/>
<circle cx="1477.92" cy="2026.67" r="2.20" fill="#3C5488"/>
<circle cx="1483.87" cy="2026.67" r="2.20" fill="#3C5488"/>
<circle cx="1489.82" cy="2025.19" r="2.20" fill="#3C5488"/>
<circle cx="1495.77" cy="2026.67" r="2.20" fill="#3C5488"/>
<circle cx="1479.41" cy="2032.63" r="2.20" fill="#3C5488"/>
<circle cx="1485.36" cy="2032.63" r="2.20" fill="#3C5488"/>
<circle cx="1491.31" cy="2032.63" r="2.20" fill="#3C5488"/>
<circle cx="1495.77" cy="2035.60" r="2.20" fill="#3C5488"/>
<circle cx="1494.29" cy="2044.53" r="2.20" fill="#3C5488"/>
<circle cx="1495.77" cy="2050.48" r="2.20" fill="#3C5488"/>
<circle cx="1501.73" cy="2050.48" r="2.20" fill="#3C5488"/>
<circle cx="1480.90" cy="2035.60" r="2.20" fill="#3C5488"/>
<circle cx="1498.75" cy="2025.19" r="2.20" fill="#3C5488"/>
<circle cx="1492.20" cy="2003.76" r="2.20" fill="#3C5488"/>
<circle cx="1499.35" cy="2004.95" r="2.20" fill="#3C5488"/>
<circle cx="1485.36" cy="2019.24" r="2.20" fill="#3C5488"/>
<circle cx="1479.41" cy="2022.21" r="2.20" fill="#3C5488"/>
</svg></body></html>
